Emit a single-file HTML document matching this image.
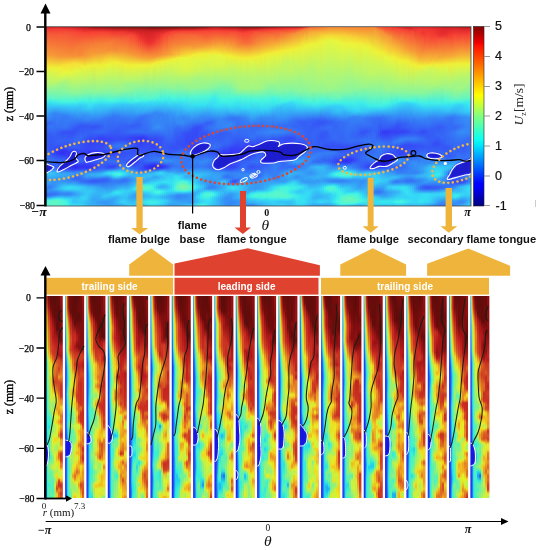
<!DOCTYPE html>
<html><head><meta charset="utf-8"><style>
html,body{margin:0;padding:0;background:#fff;width:539px;height:550px;overflow:hidden}
svg{display:block;position:absolute;left:0;top:0}
#f{position:absolute;left:0;top:0;width:539px;height:550px}
#f i{position:absolute;display:block}
.tk{font-family:"Liberation Serif",serif;font-size:9.8px;fill:#000;stroke:#000;stroke-width:0.25px}
.lb{font-family:"Liberation Sans",sans-serif;font-weight:bold;font-size:11.2px;fill:#111}
.wl{font-family:"Liberation Sans",sans-serif;font-weight:bold;font-size:10px;fill:#fff}
.cb{font-family:"Liberation Sans",sans-serif;font-size:12.5px;fill:#111;stroke:#111;stroke-width:0.2px}
</style></head><body>
<div id="f"><i style="left:46px;top:27px;width:2px;height:179px;background:linear-gradient(#cc2124 0px,#f74135 3px,#f66038 10px,#f6a136 29px,#f6e335 39px,#e1f644 43px,#b0f674 57px,#4cf6d9 73px,#35def4 76px,#3598f6 88px,#3580f6 93px,#3562f6 96px,#356ef6 101px,#355bf6 107px,#3559f6 117px,#355bf6 122px,#356ef6 128px,#357df6 135px,#3571f6 136px,#3541f6 137px,#2525e0 138px,#1c1ccb 140px,#1d1dce 143px,#2424dd 144px,#3545f6 145px,#359bf6 146px,#35c0f6 147px,#359df6 152px,#359df6 157px,#3582f6 160px,#3580f6 165px,#3562f6 168px,#3588f6 170px,#35cef6 172px,#3cece9 173px,#53f6d2 175px,#48f6dd 178px)"></i><i style="left:48px;top:27px;width:2px;height:179px;background:linear-gradient(#cb2124 0px,#f03731 2px,#f65a38 7px,#f69937 28px,#f4eb35 40px,#d6f64f 46px,#b7f66e 56px,#57f6ce 72px,#37e7ed 75px,#3593f6 87px,#3585f6 92px,#3565f6 96px,#3575f6 100px,#355df6 107px,#3557f6 122px,#3572f6 132px,#3577f6 135px,#3570f6 136px,#2a2aec 138px,#1f1fd2 139px,#1e1ed0 142px,#2626e2 143px,#3549f6 144px,#3592f6 145px,#35bdf6 146px,#35c7f6 147px,#359bf6 152px,#359ff6 156px,#357af6 160px,#358ff6 164px,#356af6 168px,#3591f6 170px,#35d7f6 172px,#44f5e1 173px,#5bf6ca 175px,#52f6d3 178px)"></i><i style="left:50px;top:27px;width:2px;height:179px;background:linear-gradient(#cc2124 0px,#f13832 2px,#f65938 7px,#f69837 28px,#f4eb35 40px,#daf64b 45px,#bdf668 55px,#7cf6a9 66px,#58f6cc 72px,#37e6ee 75px,#35a6f6 84px,#358cf6 87px,#3581f6 92px,#3569f6 96px,#3576f6 100px,#355ef6 108px,#3555f6 118px,#355af6 128px,#3574f6 134px,#3560f6 137px,#3542f6 138px,#2828e7 139px,#1f1fd3 140px,#1f1fd4 141px,#2a2aeb 142px,#3552f6 143px,#3592f6 144px,#35b7f6 145px,#35c7f6 146px,#35b4f6 149px,#359af6 153px,#359af6 156px,#357ef6 160px,#3595f6 163px,#357af6 166px,#356ff6 168px,#3599f6 170px,#35e0f3 172px,#4bf6da 173px,#62f6c3 175px,#58f6cd 178px)"></i><i style="left:52px;top:27px;width:2px;height:179px;background:linear-gradient(#cd2124 0px,#f33a33 2px,#f65838 7px,#f69c37 29px,#eef237 41px,#bcf669 55px,#8bf69a 63px,#64f6c1 71px,#41f3e3 74px,#35d1f6 78px,#359ff6 84px,#3587f6 87px,#357ef6 92px,#356ef6 96px,#3575f6 100px,#355df6 109px,#355bf6 117px,#354bf6 127px,#356ff6 133px,#355bf6 138px,#3036f1 140px,#3240f6 141px,#35a4f6 144px,#35c3f6 146px,#35b3f6 149px,#3597f6 153px,#3591f6 157px,#358af6 160px,#359bf6 163px,#3570f6 167px,#3585f6 169px,#39e8ec 172px,#63f6c2 174px,#5af6cb 178px)"></i><i style="left:54px;top:27px;width:2px;height:179px;background:linear-gradient(#cd2125 0px,#f43b33 2px,#f65838 7px,#f69937 29px,#eef237 41px,#c1f664 54px,#90f695 62px,#65f6c0 71px,#3aeaea 75px,#35c4f6 80px,#3588f6 86px,#3577f6 93px,#356ff6 101px,#355ff6 110px,#355cf6 117px,#3540f6 126px,#356bf6 133px,#355df6 140px,#35bbf6 146px,#35b1f6 149px,#3594f6 153px,#3591f6 159px,#35a6f6 162px,#3572f6 167px,#3578f6 168px,#35cbf6 171px,#3ff0e6 172px,#65f6c0 174px,#5af6cb 178px)"></i><i style="left:56px;top:27px;width:2px;height:179px;background:linear-gradient(#cd2124 0px,#f43b33 2px,#f65a38 8px,#f69637 29px,#eef136 41px,#c6f65f 53px,#93f692 61px,#65f6c0 71px,#3eeee7 75px,#35cbf6 79px,#3584f6 87px,#3579f6 97px,#355cf6 108px,#3561f6 116px,#3536f6 126px,#3568f6 133px,#3562f6 143px,#35b1f6 146px,#35aef6 149px,#3592f6 153px,#359ef6 159px,#35b0f6 162px,#357bf6 166px,#357ff6 168px,#35d2f6 171px,#41f3e4 172px,#62f6c3 174px,#57f6cd 178px)"></i><i style="left:58px;top:27px;width:2px;height:179px;background:linear-gradient(#cc2124 0px,#f33b33 2px,#f65938 7px,#f69437 29px,#eff136 41px,#d1f653 51px,#9ef687 58px,#6df6b8 70px,#41f2e4 75px,#35cbf6 79px,#3585f6 87px,#3578f6 95px,#3570f6 101px,#3558f6 107px,#3564f6 115px,#3232f7 126px,#3567f6 133px,#3557f6 138px,#2727e5 142px,#2828e7 143px,#3543f6 144px,#3585f6 145px,#35a7f6 146px,#35b2f6 148px,#3590f6 153px,#35abf6 159px,#35bbf6 162px,#3582f6 166px,#3585f6 168px,#35d5f6 171px,#41f2e4 172px,#5cf6c8 174px,#54f6d0 178px)"></i><i style="left:60px;top:27px;width:2px;height:179px;background:linear-gradient(#ca2023 0px,#f33a33 2px,#f65938 7px,#f69337 29px,#f4eb35 40px,#e0f645 48px,#b3f672 54px,#95f690 61px,#64f6c1 71px,#42f4e2 75px,#35ccf6 79px,#3583f6 88px,#3578f6 94px,#3572f6 101px,#3554f6 106px,#3565f6 114px,#3541f6 122px,#2e2ef3 126px,#3546f6 129px,#3567f6 133px,#355ff6 136px,#2f32f1 138px,#1f1fd2 140px,#1f1fd3 142px,#2d2def 143px,#358df6 145px,#35aef6 147px,#3590f6 154px,#35c6f6 161px,#35b5f6 163px,#3587f6 166px,#3589f6 168px,#35d4f6 171px,#3eeee7 172px,#56f6cf 174px,#52f6d3 178px)"></i><i style="left:62px;top:27px;width:2px;height:179px;background:linear-gradient(#c82023 0px,#f23932 2px,#f65838 7px,#f69237 29px,#f6e635 39px,#e5f640 46px,#cff656 51px,#a1f684 56px,#7ef6a7 67px,#43f5e2 75px,#35ccf6 79px,#357cf6 89px,#3573f6 101px,#3551f6 105px,#3562f6 114px,#354bf6 121px,#2d2df0 125px,#3544f6 129px,#3568f6 133px,#355bf6 135px,#333ef7 136px,#1f1fd3 138px,#1e1ed0 141px,#2828e6 142px,#3549f6 143px,#3577f6 144px,#35a4f6 146px,#35aaf6 149px,#358ef6 154px,#35d0f6 161px,#35bdf6 163px,#358af6 166px,#358af6 168px,#35d1f6 171px,#48f6dc 173px,#4ef6d6 178px)"></i><i style="left:64px;top:27px;width:2px;height:179px;background:linear-gradient(#c61f22 0px,#f23932 2px,#f65538 6px,#f69237 29px,#f6e135 38px,#e8f63d 45px,#cdf657 51px,#a2f682 56px,#89f69c 65px,#44f6e1 75px,#35cdf6 79px,#357df6 89px,#3574f6 101px,#3551f6 105px,#3562f6 113px,#354cf6 121px,#3232f7 124px,#3538f6 128px,#355ff6 132px,#355ef6 133px,#2e2eee 135px,#1d1dce 137px,#1e1ed0 140px,#343af6 142px,#357cf6 144px,#35abf6 147px,#3599f6 151px,#358bf6 154px,#35c5f6 159px,#35d9f6 161px,#35c2f6 163px,#358af6 166px,#3588f6 168px,#35e3f0 172px,#49f6dc 174px,#49f6dc 178px)"></i><i style="left:66px;top:27px;width:2px;height:179px;background:linear-gradient(#c41e21 0px,#f13832 2px,#f65438 6px,#f69137 29px,#f6e335 38px,#e7f63e 46px,#b8f66d 53px,#a4f681 58px,#7ff6a6 67px,#44f6e1 75px,#35d7f6 78px,#3580f6 89px,#3571f6 101px,#3550f6 105px,#3560f6 113px,#354ff6 121px,#3434f7 125px,#354bf6 131px,#2e31ee 133px,#1c1ccc 136px,#1e1ed1 139px,#3333f7 141px,#359ff6 146px,#35a7f6 149px,#3588f6 153px,#359af6 156px,#35daf6 160px,#35d8f6 162px,#3588f6 166px,#3586f6 168px,#35dff4 172px,#40f1e5 174px,#42f4e2 178px)"></i><i style="left:68px;top:27px;width:2px;height:179px;background:linear-gradient(#c21e21 0px,#f03631 2px,#f65238 6px,#f68537 26px,#f69937 30px,#f6df35 37px,#e9f63c 45px,#aaf67a 56px,#92f693 64px,#45f6e0 75px,#35d7f6 78px,#3583f6 89px,#356cf6 101px,#3550f6 105px,#355ff6 113px,#3553f6 121px,#3536f6 126px,#3032f2 130px,#1c1ccc 134px,#1f1fd3 138px,#2e2ef2 140px,#3544f6 142px,#359bf6 146px,#35a7f6 148px,#3581f6 152px,#358bf6 155px,#35ddf5 160px,#35d8f6 162px,#3589f6 166px,#3588f6 168px,#35daf6 172px,#3cece9 178px)"></i><i style="left:70px;top:27px;width:2px;height:179px;background:linear-gradient(#bf1d20 0px,#ee3431 2px,#f65038 6px,#f68337 25px,#f68f37 29px,#f6e035 37px,#e4f640 46px,#aff676 56px,#8ef697 65px,#45f6e0 75px,#35d8f6 78px,#3584f6 90px,#3564f6 101px,#3550f6 106px,#3560f6 113px,#3558f6 121px,#2c2ced 127px,#1c1ccc 132px,#2020d5 137px,#2f2ff4 139px,#353cf6 142px,#3597f6 146px,#359ef6 148px,#357cf6 151px,#3579f6 153px,#3598f6 156px,#35dcf6 160px,#35d7f6 162px,#358ff6 166px,#358ef6 168px,#35d4f6 172px,#35d9f6 177px,#36e4ef 178px)"></i><i style="left:72px;top:27px;width:2px;height:179px;background:linear-gradient(#bc1c1f 0px,#ec3230 2px,#f64a38 5px,#f68237 24px,#f68f37 29px,#f6dc35 36px,#e4f641 45px,#b1f674 57px,#82f6a3 67px,#45f6e0 75px,#35d7f6 78px,#3586f6 90px,#354ff6 106px,#3562f6 113px,#355bf6 121px,#3537f6 124px,#1d1dcf 127px,#1d1dcd 135px,#3434f7 138px,#2b2bec 140px,#3537f6 142px,#3593f6 146px,#3592f6 148px,#3570f6 150px,#356af6 152px,#35aaf6 157px,#35daf6 160px,#35d6f6 162px,#3597f6 166px,#3596f6 168px,#35c6f6 171px,#35c8f6 176px,#35dff3 178px)"></i><i style="left:74px;top:27px;width:2px;height:179px;background:linear-gradient(#b91c1e 0px,#e92f2f 2px,#f64c38 6px,#f68137 23px,#f69037 29px,#f6dd35 36px,#e5f640 44px,#8bf69a 66px,#43f4e2 75px,#35cff6 79px,#3598f6 87px,#3552f6 103px,#3559f6 108px,#3567f6 112px,#3560f6 118px,#355cf6 121px,#3333f7 124px,#1f1fd3 126px,#2020d6 131px,#1d1dce 134px,#3030f2 136px,#353cf6 137px,#2929e9 140px,#3536f6 142px,#3592f6 146px,#3588f6 148px,#3564f6 150px,#356ff6 153px,#35d7f6 160px,#35d6f6 162px,#35a0f6 166px,#359ef6 168px,#35c3f6 171px,#35c6f6 176px,#35ddf5 178px)"></i><i style="left:76px;top:27px;width:2px;height:179px;background:linear-gradient(#b41a1c 0px,#e62b2d 2px,#f74637 5px,#f67e37 21px,#f69137 29px,#f6dc35 36px,#e6f63e 43px,#b5f670 56px,#8bf699 66px,#40f1e5 75px,#35cef6 79px,#35a4f6 86px,#358af6 90px,#356af6 96px,#3552f6 102px,#355df6 108px,#3569f6 112px,#355df6 117px,#355bf6 121px,#3131f3 126px,#3541f6 131px,#2929e7 134px,#354af6 136px,#2a2aec 140px,#3538f6 142px,#3584f6 145px,#3591f6 146px,#3580f6 148px,#3562f6 150px,#356ff6 153px,#35a0f6 157px,#35d3f6 160px,#35d5f6 162px,#35a3f6 167px,#35aff6 169px,#35c8f6 172px,#35c7f6 176px,#35dcf6 178px)"></i><i style="left:78px;top:27px;width:2px;height:179px;background:linear-gradient(#b0191b 0px,#e3282c 2px,#f74336 5px,#f67937 19px,#f68937 28px,#f6e135 37px,#dff645 44px,#8bf69a 66px,#46f6df 74px,#35daf6 77px,#35a3f6 86px,#3589f6 91px,#3553f6 100px,#3562f6 108px,#3568f6 112px,#355af6 117px,#3558f6 121px,#353bf6 127px,#3564f6 133px,#3556f6 136px,#2e2ef3 139px,#353cf6 142px,#3586f6 145px,#3592f6 146px,#3580f6 148px,#3566f6 151px,#3579f6 155px,#35cff6 160px,#35d3f6 162px,#35aaf6 167px,#35b7f6 169px,#35ccf6 172px,#35c9f6 176px,#35dbf6 178px)"></i><i style="left:80px;top:27px;width:2px;height:179px;background:linear-gradient(#ac181a 0px,#e1272c 2px,#f74135 5px,#f67437 17px,#f68b37 28px,#f6e735 38px,#d9f64c 45px,#89f69c 66px,#44f6e1 74px,#35d3f6 78px,#35a9f6 85px,#358cf6 90px,#3571f6 95px,#3554f6 99px,#356af6 111px,#3555f6 117px,#354df6 122px,#353bf6 127px,#356cf6 133px,#3553f6 136px,#3030f7 139px,#3540f6 142px,#3587f6 145px,#3592f6 147px,#3571f6 151px,#3571f6 155px,#35ccf6 160px,#35caf6 163px,#35b3f6 167px,#35cff6 171px,#35c8f6 176px,#35d8f6 178px)"></i><i style="left:82px;top:27px;width:2px;height:179px;background:linear-gradient(#a81718 0px,#de262b 2px,#f74537 6px,#f67537 17px,#f68d37 28px,#f1ef35 39px,#bdf668 53px,#86f69f 66px,#42f4e3 74px,#35d4f6 78px,#35bdf6 83px,#3591f6 88px,#357af6 94px,#3554f6 99px,#3565f6 111px,#3550f6 116px,#354bf6 122px,#353bf6 127px,#3565f6 134px,#3535f6 138px,#3535f6 141px,#3594f6 146px,#357ef6 151px,#3568f6 154px,#357cf6 156px,#35c7f6 160px,#35c5f6 164px,#35bcf6 167px,#35d3f6 171px,#35c3f6 176px,#35d2f6 178px)"></i><i style="left:84px;top:27px;width:2px;height:179px;background:linear-gradient(#a41617 0px,#dc252a 2px,#f74436 6px,#f67337 16px,#f69837 29px,#edf237 40px,#bdf668 53px,#83f6a2 66px,#42f4e3 74px,#35d6f6 78px,#35bdf6 83px,#3592f6 88px,#3584f6 93px,#3555f6 99px,#3564f6 108px,#354bf6 117px,#354af6 122px,#3039f3 131px,#3555f6 135px,#3333f7 139px,#3535f6 141px,#3594f6 146px,#359af6 149px,#3565f6 154px,#3579f6 156px,#35b6f6 159px,#35c8f6 162px,#35c7f6 168px,#35d2f6 171px,#35bef6 176px,#35c9f6 178px)"></i><i style="left:86px;top:27px;width:2px;height:179px;background:linear-gradient(#9f1516 0px,#d92529 2px,#f74336 6px,#f67437 16px,#f69b37 29px,#eff036 39px,#baf66b 54px,#81f6a4 66px,#43f5e2 74px,#35d9f6 78px,#35c9f6 82px,#3594f6 88px,#3584f6 93px,#3556f6 99px,#3562f6 107px,#3546f6 116px,#354af6 122px,#3131f3 128px,#1e1ed1 131px,#2222d9 133px,#3540f6 135px,#354af6 136px,#3232f7 140px,#3541f6 142px,#3596f6 146px,#35a4f6 148px,#359bf6 150px,#3562f6 154px,#3575f6 156px,#35b9f6 160px,#35c8f6 165px,#35caf6 171px,#35b8f6 176px,#35c0f6 178px)"></i><i style="left:88px;top:27px;width:2px;height:179px;background:linear-gradient(#9a1414 0px,#d62428 2px,#f63d34 5px,#f67537 16px,#f69e37 29px,#eef237 39px,#90f695 64px,#3deee8 75px,#35d2f6 81px,#3596f6 88px,#3584f6 93px,#3557f6 99px,#3562f6 106px,#3544f6 116px,#354af6 122px,#2b2bee 127px,#1d1dce 129px,#1f1fd4 133px,#2d2df0 134px,#3547f6 135px,#3543f6 137px,#3232f7 140px,#3542f6 142px,#3599f6 146px,#35abf6 148px,#358bf6 151px,#355ef6 154px,#3571f6 156px,#35b4f6 160px,#35cbf6 164px,#35b4f6 177px,#35b8f6 178px)"></i><i style="left:90px;top:27px;width:2px;height:179px;background:linear-gradient(#931212 0px,#d32327 2px,#f73e34 5px,#f67737 16px,#f6a336 29px,#f3ec35 38px,#d0f655 46px,#89f69c 65px,#3eeee7 75px,#35d0f6 81px,#3597f6 89px,#3579f6 94px,#3555f6 100px,#3561f6 106px,#3543f6 115px,#354af6 122px,#3131f6 126px,#1d1dce 128px,#1d1dcf 132px,#353bf6 134px,#3553f6 135px,#3434f7 140px,#3547f6 142px,#359ef6 146px,#35aef6 148px,#3589f6 151px,#355bf6 154px,#356df6 156px,#35b2f6 160px,#35c8f6 164px,#35aef6 173px,#35b2f6 178px)"></i><i style="left:92px;top:27px;width:2px;height:179px;background:linear-gradient(#8b1110 0px,#d12226 2px,#f73f34 5px,#f67b37 17px,#f6a036 28px,#f1ee35 38px,#8af69b 65px,#44f6e1 74px,#35d5f6 79px,#3592f6 90px,#3554f6 100px,#3565f6 105px,#3544f6 114px,#354bf6 122px,#3536f6 125px,#1c1ccd 128px,#2020d5 132px,#2f2ff3 133px,#3550f6 134px,#355af6 135px,#3536f6 139px,#353cf6 141px,#35acf6 147px,#35aaf6 149px,#3560f6 153px,#355cf6 155px,#35b0f6 160px,#35c3f6 164px,#35a7f6 172px,#35aff6 178px)"></i><i style="left:94px;top:27px;width:2px;height:179px;background:linear-gradient(#85100f 0px,#ce2125 2px,#f73f34 5px,#f67b37 16px,#f69737 26px,#eff035 38px,#8bf69a 65px,#43f5e2 74px,#35d6f6 78px,#35a8f6 86px,#3553f6 100px,#3567f6 105px,#3544f6 113px,#354cf6 122px,#3434f7 125px,#1d1dce 127px,#1d1dcf 131px,#2626e2 132px,#3540f6 133px,#355bf6 134px,#354bf6 137px,#353ef6 140px,#3566f6 143px,#35adf6 147px,#35abf6 149px,#355ef6 153px,#355df6 155px,#35abf6 160px,#35bdf6 164px,#35a6f6 172px,#35adf6 178px)"></i><i style="left:96px;top:27px;width:2px;height:179px;background:linear-gradient(#80100f 0px,#cd2124 2px,#f73f34 5px,#f67c37 16px,#f69937 26px,#eff036 38px,#cff656 47px,#8cf699 65px,#41f3e3 74px,#35cef6 79px,#35a7f6 86px,#3554f6 100px,#3569f6 105px,#3544f6 112px,#354df6 122px,#3232f7 125px,#2222d9 126px,#1c1ccb 129px,#2020d6 131px,#3131f4 132px,#3551f6 133px,#3560f6 134px,#3544f6 139px,#355af6 142px,#35aff6 147px,#35adf6 149px,#355ef6 153px,#3560f6 155px,#35a5f6 160px,#35b7f6 165px,#35a0f6 176px,#35abf6 178px)"></i><i style="left:98px;top:27px;width:2px;height:179px;background:linear-gradient(#7c110f 0px,#cc2124 2px,#f74035 5px,#f67d37 16px,#f69537 25px,#eef237 39px,#cff656 47px,#a3f682 60px,#82f6a2 66px,#40f1e5 74px,#35d1f6 78px,#35aef6 85px,#3576f6 94px,#3559f6 100px,#356bf6 105px,#3543f6 111px,#354df6 122px,#3544f6 124px,#3434f6 125px,#1d1dce 127px,#1e1ecf 130px,#2626e3 131px,#3541f6 132px,#355cf6 133px,#3562f6 135px,#354bf6 139px,#355ff6 142px,#35b4f6 147px,#35b0f6 149px,#355ef6 153px,#3564f6 155px,#35a0f6 160px,#35b7f6 165px,#35abf6 172px,#359cf6 176px,#35a9f6 178px)"></i><i style="left:100px;top:27px;width:2px;height:179px;background:linear-gradient(#79110f 0px,#cb2124 2px,#f74035 5px,#f67d37 16px,#f69637 25px,#f0f035 38px,#d4f651 46px,#a5f680 58px,#93f691 64px,#3ff0e6 74px,#35d0f6 78px,#35aef6 85px,#357ef6 92px,#355df6 99px,#356bf6 105px,#3541f6 111px,#354ff6 122px,#3549f6 124px,#3539f6 125px,#1d1dcf 127px,#1d1dce 129px,#2222d9 130px,#3232f5 131px,#3551f6 132px,#3566f6 134px,#3554f6 140px,#3570f6 143px,#35bbf6 147px,#35aef6 149px,#3568f6 152px,#355ef6 154px,#35a3f6 161px,#35b8f6 167px,#35b5f6 171px,#3595f6 175px,#35a6f6 178px)"></i><i style="left:102px;top:27px;width:2px;height:179px;background:linear-gradient(#77110f 0px,#a81719 1px,#e0272b 3px,#f74035 5px,#f67e37 16px,#f69637 25px,#f1ee35 37px,#d7f64e 45px,#a4f681 58px,#89f69b 65px,#40f1e5 74px,#35d1f6 78px,#35a4f6 86px,#357af6 92px,#3562f6 99px,#356af6 105px,#3541f6 111px,#3550f6 123px,#3030f2 126px,#1f1fd3 128px,#3032f2 130px,#355ef6 132px,#3566f6 135px,#3557f6 140px,#3574f6 143px,#35b7f6 146px,#35c4f6 147px,#35bff6 148px,#3565f6 152px,#3561f6 154px,#35adf6 163px,#35c4f6 170px,#3594f6 175px,#35a2f6 178px)"></i><i style="left:104px;top:27px;width:2px;height:179px;background:linear-gradient(#74110f 0px,#a71718 1px,#df262b 3px,#f74035 5px,#f67f37 16px,#f69737 25px,#f6d035 32px,#eef137 38px,#cdf657 46px,#9df687 60px,#81f6a4 66px,#41f2e4 74px,#35d1f6 78px,#35a3f6 86px,#3576f6 92px,#356af6 100px,#3563f6 106px,#3542f6 112px,#3556f6 122px,#2f2ff0 128px,#3569f6 133px,#3553f6 140px,#3564f6 142px,#35c5f6 146px,#35cdf6 147px,#35a8f6 149px,#3565f6 152px,#3563f6 154px,#35b1f6 164px,#35ccf6 169px,#3595f6 175px,#359ff6 178px)"></i><i style="left:106px;top:27px;width:2px;height:179px;background:linear-gradient(#70120f 0px,#a41617 1px,#de262b 3px,#f73f34 5px,#f67f37 16px,#f69237 24px,#f6d335 32px,#ecf439 38px,#96f68f 62px,#55f6d0 72px,#3aeaea 75px,#35c6f6 80px,#35a0f6 86px,#3578f6 91px,#3568f6 98px,#3565f6 105px,#3542f6 113px,#355df6 121px,#3540f6 127px,#356bf6 133px,#354bf6 140px,#3563f6 142px,#35c2f6 145px,#35d6f6 147px,#35aaf6 149px,#3576f6 151px,#3562f6 153px,#35cdf6 169px,#3598f6 174px,#359cf6 178px)"></i><i style="left:108px;top:27px;width:2px;height:179px;background:linear-gradient(#6f120f 0px,#c61f22 2px,#f53c33 5px,#f67d37 15px,#f68d37 23px,#f6d635 32px,#eaf63b 38px,#82f6a2 66px,#44f6e1 74px,#35d2f6 78px,#35a4f6 85px,#3575f6 91px,#3568f6 98px,#3561f6 105px,#3543f6 113px,#3567f6 120px,#3540f6 126px,#356cf6 134px,#3554f6 138px,#3544f6 140px,#3564f6 142px,#35ccf6 145px,#35dcf6 146px,#35dcf5 147px,#3581f6 151px,#356af6 153px,#35aef6 164px,#35cef6 168px,#359bf6 174px,#359bf6 178px)"></i><i style="left:110px;top:27px;width:2px;height:179px;background:linear-gradient(#6f120f 0px,#c31e21 2px,#f23932 5px,#f67c37 15px,#f68d37 23px,#f6d735 32px,#e8f63d 37px,#d1f654 44px,#96f68f 62px,#67f6be 70px,#44f6e0 74px,#35d9f6 77px,#359df6 85px,#3573f6 91px,#3568f6 99px,#355ef6 105px,#3544f6 113px,#356ef6 120px,#353ff6 126px,#356ff6 134px,#355ff6 137px,#3540f6 140px,#354cf6 141px,#35d1f6 145px,#36e5ef 147px,#3581f6 152px,#3571f6 154px,#35a6f6 163px,#35d1f6 167px,#359ff6 173px,#359df6 178px)"></i><i style="left:112px;top:27px;width:2px;height:179px;background:linear-gradient(#6f120f 0px,#c01d20 2px,#f03731 5px,#f67737 14px,#f68c37 23px,#f2ed35 35px,#c9f65b 46px,#97f68e 61px,#84f6a1 66px,#44f6e1 74px,#35cff6 78px,#3579f6 89px,#3567f6 98px,#3561f6 104px,#3546f6 113px,#3573f6 119px,#3558f6 123px,#3540f6 126px,#3571f6 134px,#3560f6 137px,#3544f6 139px,#354ff6 141px,#35d7f6 145px,#3eefe7 147px,#35bdf6 150px,#357bf6 153px,#357ff6 156px,#35a2f6 162px,#35d1f6 165px,#35d8f6 167px,#35a3f6 172px,#35a0f6 178px)"></i><i style="left:114px;top:27px;width:2px;height:179px;background:linear-gradient(#6f120f 0px,#bd1d1f 2px,#f03631 5px,#f67038 13px,#f68b37 23px,#f3ed35 35px,#d9f64c 43px,#9af68b 61px,#84f6a1 66px,#43f4e2 74px,#35ccf6 78px,#3579f6 89px,#3567f6 99px,#3556f6 107px,#3549f6 113px,#3577f6 119px,#3559f6 123px,#3542f6 126px,#3572f6 135px,#354af6 139px,#3559f6 141px,#35dcf6 145px,#45f6e0 147px,#35e1f2 149px,#357ff6 153px,#3579f6 155px,#35aaf6 162px,#35def4 165px,#35dcf6 167px,#35a8f6 171px,#35abf6 177px,#35a3f6 178px)"></i><i style="left:116px;top:27px;width:2px;height:179px;background:linear-gradient(#6f120f 0px,#bb1c1f 2px,#f03731 5px,#f66e38 13px,#f68b37 23px,#edf237 36px,#bcf669 50px,#9df688 60px,#8cf699 65px,#41f3e3 74px,#35d3f6 77px,#357bf6 89px,#3566f6 99px,#3557f6 107px,#354bf6 113px,#357af6 119px,#355bf6 123px,#3546f6 126px,#3570f6 135px,#3555f6 139px,#3567f6 141px,#35dff3 145px,#49f6dc 147px,#38e7ed 149px,#357ff6 153px,#3578f6 155px,#35b3f6 162px,#37e6ee 165px,#35dcf6 167px,#35b1f6 170px,#35b4f6 174px,#35b2f6 177px,#35a7f6 178px)"></i><i style="left:118px;top:27px;width:2px;height:179px;background:linear-gradient(#6f120f 0px,#ba1c1e 2px,#f13732 5px,#f66c38 13px,#f69237 24px,#f1ef35 36px,#b2f673 53px,#9ff686 60px,#8bf69a 65px,#40f1e5 74px,#35d1f6 77px,#357df6 89px,#3564f6 99px,#3558f6 107px,#3548f6 112px,#357bf6 119px,#355ef6 123px,#354bf6 127px,#356bf6 135px,#3562f6 139px,#3576f6 141px,#35e0f3 145px,#48f6dd 147px,#44f6e0 148px,#35c7f6 150px,#357cf6 153px,#3576f6 155px,#35bbf6 162px,#36e5ef 165px,#35d8f6 167px,#35b5f6 170px,#35bef6 174px,#35c1f6 176px,#35abf6 178px)"></i><i style="left:120px;top:27px;width:2px;height:179px;background:linear-gradient(#6f120f 0px,#b91c1e 2px,#f13832 5px,#f66d38 14px,#f69137 24px,#eff036 37px,#9ff686 59px,#90f695 64px,#3fefe6 74px,#35cff6 77px,#357cf6 90px,#3562f6 99px,#355ef6 106px,#3549f6 112px,#357cf6 119px,#354cf6 126px,#3565f6 135px,#356ff6 139px,#3582f6 141px,#35ddf5 145px,#42f3e3 147px,#3eeee7 148px,#35bbf6 150px,#3577f6 153px,#3574f6 155px,#35dff3 165px,#35b8f6 171px,#35cff6 175px,#35b0f6 178px)"></i><i style="left:122px;top:27px;width:2px;height:179px;background:linear-gradient(#6f120f 0px,#b91c1e 2px,#f03631 5px,#f66738 13px,#f69137 24px,#f2ed35 37px,#b3f672 53px,#9ef687 59px,#8ef697 64px,#3deee7 74px,#35c6f6 78px,#3579f6 91px,#3561f6 100px,#355ff6 106px,#3548f6 112px,#357af6 119px,#354ef6 126px,#3560f6 134px,#357ff6 140px,#35aef6 143px,#36e4ef 146px,#36e2f1 148px,#357ff6 152px,#356ff6 154px,#35d6f6 164px,#35ccf6 167px,#35bef6 171px,#35d4f6 175px,#35b7f6 178px)"></i><i style="left:124px;top:27px;width:2px;height:179px;background:linear-gradient(#6f120f 0px,#b91c1e 2px,#ee3431 5px,#f65e38 11px,#f69537 25px,#eef237 38px,#bbf66a 52px,#9ef687 57px,#93f692 63px,#3eeee7 74px,#35d1f6 77px,#357af6 91px,#355ff6 100px,#3566f6 105px,#3547f6 112px,#3576f6 119px,#354ff6 126px,#355ff6 133px,#3565f6 137px,#3594f6 142px,#35daf6 146px,#35d4f6 148px,#357bf6 152px,#3572f6 154px,#35d2f6 164px,#35c0f6 171px,#35d2f6 175px,#35bff6 178px)"></i><i style="left:126px;top:27px;width:2px;height:179px;background:linear-gradient(#6f120f 0px,#b81b1d 2px,#ec3230 5px,#f65c38 11px,#f69237 25px,#eff136 38px,#bbf66a 52px,#9cf689 57px,#90f695 63px,#3ff1e5 74px,#35c7f6 78px,#357cf6 91px,#3568f6 97px,#355ef6 100px,#3568f6 105px,#3544f6 112px,#3570f6 119px,#3551f6 126px,#3560f6 132px,#313ef3 138px,#35b5f6 144px,#35d0f6 146px,#35c8f6 148px,#357ef6 152px,#3578f6 154px,#35d0f6 164px,#35bcf6 171px,#35caf6 176px,#35c7f6 178px)"></i><i style="left:128px;top:27px;width:2px;height:179px;background:linear-gradient(#6f120f 0px,#b71b1d 2px,#e92f2f 5px,#f65138 9px,#f68e37 25px,#eff035 38px,#bbf66a 52px,#9bf68a 57px,#8df698 63px,#42f3e3 74px,#35c8f6 78px,#357df6 91px,#3571f6 96px,#355ef6 100px,#356bf6 105px,#3542f6 111px,#3566f6 119px,#3552f6 126px,#3561f6 131px,#343ef7 134px,#2020d5 137px,#2626e2 138px,#353df6 139px,#3561f6 140px,#35bdf6 145px,#35c9f6 147px,#3585f6 152px,#3583f6 154px,#35d2f6 164px,#35aef6 170px,#35c3f6 175px,#35cdf6 178px)"></i><i style="left:130px;top:27px;width:2px;height:179px;background:linear-gradient(#6f120f 0px,#cd2124 3px,#f74035 7px,#f65a38 13px,#f69737 27px,#f0f035 38px,#baf66b 52px,#9af68b 57px,#8bf69a 63px,#3deee8 75px,#35bff6 79px,#359af6 86px,#357ef6 91px,#3570f6 96px,#355cf6 99px,#356df6 105px,#3541f6 111px,#355bf6 119px,#3553f6 126px,#355cf6 131px,#2f30f1 133px,#1e1ed0 135px,#2525e0 137px,#3238f7 138px,#3554f6 139px,#357af6 142px,#35b5f6 145px,#35c1f6 147px,#3589f6 153px,#35d3f6 163px,#35c0f6 166px,#35a5f6 170px,#35cef6 178px)"></i><i style="left:132px;top:27px;width:2px;height:179px;background:linear-gradient(#6f120f 0px,#cb2024 3px,#f74536 8px,#f69437 27px,#eff136 38px,#baf66b 52px,#9af68b 57px,#8af69b 63px,#3eefe7 75px,#35c9f6 78px,#359df6 86px,#357ff6 91px,#356bf6 96px,#355df6 99px,#356ff6 105px,#353ff6 111px,#3556f6 118px,#3551f6 124px,#3559f6 130px,#2a2aeb 132px,#2020d4 133px,#2121d6 135px,#353df6 137px,#3559f6 139px,#3572f6 142px,#35a7f6 145px,#35b9f6 148px,#3594f6 153px,#35bbf6 159px,#35dcf5 162px,#35c3f6 165px,#35a4f6 168px,#35a7f6 171px,#35caf6 178px)"></i><i style="left:134px;top:27px;width:2px;height:179px;background:linear-gradient(#6f120f 0px,#c92023 3px,#f63e34 8px,#f69837 28px,#eff136 38px,#b9f66b 52px,#98f68d 58px,#76f6af 66px,#46f6df 74px,#35d4f6 77px,#35b7f6 81px,#359ff6 86px,#357cf6 91px,#355ef6 99px,#356ff6 105px,#353cf6 111px,#354ef6 118px,#354ef6 123px,#355bf6 128px,#3136f4 130px,#1e1ed1 132px,#2626e2 134px,#3544f6 136px,#355ff6 141px,#35b1f6 147px,#35b4f6 150px,#359df6 153px,#35cef6 159px,#39e7ed 161px,#3cece9 162px,#35b1f6 166px,#359bf6 169px,#35caf6 176px,#35c3f6 178px)"></i><i style="left:136px;top:27px;width:2px;height:179px;background:linear-gradient(#6f120f 0px,#c71f22 3px,#f43c33 9px,#f69537 28px,#eff136 38px,#b9f66c 52px,#96f68f 59px,#45f6e0 74px,#35d2f6 77px,#35b8f6 81px,#35aaf6 85px,#3578f6 91px,#355ef6 98px,#3570f6 105px,#3539f6 111px,#3548f6 118px,#3553f6 124px,#3558f6 127px,#2e2eef 129px,#2121d8 130px,#1f1fd2 131px,#353cf6 134px,#3553f6 138px,#3566f6 142px,#35b6f6 148px,#35b6f6 150px,#35a4f6 154px,#35cff6 158px,#47f6dd 160px,#47f6de 162px,#35d0f6 164px,#35a4f6 167px,#35a2f6 170px,#35d5f6 175px,#35bcf6 178px)"></i><i style="left:138px;top:27px;width:2px;height:179px;background:linear-gradient(#6f120f 0px,#c61f22 3px,#e92f2f 8px,#f65a38 18px,#f6a136 30px,#eff136 38px,#b8f66d 52px,#43f5e2 74px,#35d1f6 77px,#35b8f6 82px,#359ff6 86px,#3573f6 91px,#3561f6 98px,#3570f6 105px,#3536f6 111px,#3545f6 118px,#3555f6 126px,#2c2cee 128px,#2020d6 129px,#2121d8 130px,#3541f6 132px,#3551f6 135px,#355ef6 142px,#357df6 145px,#35b4f6 148px,#35b8f6 150px,#35a5f6 154px,#35cbf6 157px,#35dff4 158px,#46f5df 159px,#57f6ce 160px,#4ff6d6 162px,#35d3f6 164px,#35a3f6 168px,#35aef6 171px,#35e0f3 175px,#35b8f6 178px)"></i><i style="left:140px;top:27px;width:2px;height:179px;background:linear-gradient(#6f120f 0px,#c41f21 3px,#df262b 7px,#f64f38 17px,#f69d37 30px,#eff136 38px,#b7f66e 52px,#4bf6da 73px,#35d1f6 77px,#35a9f6 85px,#3573f6 90px,#3566f6 98px,#3571f6 105px,#3535f6 111px,#3544f6 118px,#3557f6 125px,#3551f6 126px,#3535f6 127px,#2424df 128px,#2424de 129px,#3135f4 130px,#3553f6 131px,#355ff6 132px,#3554f6 142px,#357bf6 145px,#35a9f6 147px,#35bbf6 150px,#35a6f6 154px,#35baf6 156px,#3bebea 158px,#5df6c8 160px,#52f6d3 162px,#3ff0e6 163px,#35d8f6 164px,#35a9f6 168px,#35b3f6 171px,#36e5ef 175px,#35b9f6 178px)"></i><i style="left:142px;top:27px;width:2px;height:179px;background:linear-gradient(#6f120f 0px,#c31e21 3px,#d92529 6px,#f03732 14px,#f69937 30px,#eff136 38px,#9df688 57px,#53f6d1 72px,#39e8ec 75px,#35c1f6 80px,#35a7f6 85px,#3572f6 90px,#356ef6 101px,#356bf6 106px,#353bf6 110px,#3556f6 126px,#3035f2 128px,#343ef7 129px,#3565f6 131px,#3549f6 141px,#3555f6 143px,#35b0f6 147px,#35bff6 150px,#35a6f6 154px,#35bcf6 156px,#35d4f6 157px,#3ff0e6 158px,#5df6c8 160px,#52f6d2 162px,#42f4e3 163px,#35cff6 165px,#35adf6 169px,#35c5f6 172px,#37e6ee 175px,#35c0f6 178px)"></i><i style="left:144px;top:27px;width:2px;height:179px;background:linear-gradient(#6f120f 0px,#c11e20 3px,#d72428 6px,#ee3531 15px,#f6a336 31px,#eff136 38px,#5bf6ca 71px,#41f3e3 74px,#35d2f6 77px,#35aef6 84px,#3578f6 89px,#356bf6 106px,#353bf6 111px,#3567f6 134px,#3538f6 140px,#3541f6 142px,#35b8f6 147px,#35c1f6 150px,#35a7f6 154px,#35bff6 156px,#35d7f6 157px,#40f1e5 158px,#5cf6c9 161px,#44f6e1 163px,#35d6f6 165px,#35b1f6 169px,#35c7f6 172px,#39e9eb 175px,#35cbf6 178px)"></i><i style="left:146px;top:27px;width:2px;height:179px;background:linear-gradient(#6f120f 0px,#bf1d20 3px,#d62327 6px,#e92e2e 15px,#f65538 21px,#f6a136 31px,#eff136 38px,#54f6d1 72px,#36e5ef 75px,#35a1f6 85px,#357af6 89px,#356cf6 106px,#3540f6 111px,#3553f6 123px,#356cf6 134px,#3232f7 140px,#353bf6 142px,#35acf6 146px,#35c4f6 148px,#35b0f6 152px,#35aaf6 154px,#35dbf6 157px,#40f1e5 158px,#58f6cd 161px,#45f6e0 163px,#35d9f6 165px,#35b4f6 169px,#35cbf6 172px,#3cede8 175px,#35d6f6 178px)"></i><i style="left:148px;top:27px;width:2px;height:179px;background:linear-gradient(#6f120f 0px,#84100f 1px,#be1d1f 3px,#d62327 6px,#ea302f 16px,#f65c38 22px,#f6a836 32px,#eef237 38px,#84f6a1 62px,#53f6d2 72px,#35d9f6 76px,#35b2f6 83px,#3580f6 88px,#3572f6 105px,#3545f6 112px,#354cf6 122px,#3560f6 127px,#3570f6 134px,#3131f6 139px,#3538f6 142px,#35b1f6 146px,#35c5f6 148px,#35abf6 153px,#35cbf6 156px,#40f1e5 158px,#54f6d1 161px,#44f6e1 163px,#35d3f6 166px,#35b9f6 169px,#35cff6 172px,#3ff0e6 175px,#35def4 178px)"></i><i style="left:150px;top:27px;width:2px;height:179px;background:linear-gradient(#6f120f 0px,#82100f 1px,#be1d1f 3px,#d72428 6px,#eb312f 16px,#f65d38 22px,#f69e37 31px,#f4eb35 37px,#dff646 41px,#8af69b 61px,#52f6d3 72px,#35d8f6 76px,#35aef6 83px,#3581f6 88px,#357bf6 103px,#3548f6 112px,#3545f6 121px,#3561f6 126px,#3570f6 131px,#3572f6 134px,#2d2df0 139px,#2929e8 140px,#3537f6 142px,#35b3f6 146px,#35c3f6 148px,#35abf6 152px,#35d3f6 156px,#48f6dd 159px,#47f6dd 162px,#35d4f6 167px,#35c0f6 170px,#41f2e4 175px,#35e2f1 178px)"></i><i style="left:152px;top:27px;width:2px;height:179px;background:linear-gradient(#6f120f 0px,#81100f 1px,#bf1d20 3px,#db2529 6px,#ec3230 15px,#f67038 24px,#f69537 30px,#edf338 37px,#89f69b 61px,#5af6cb 71px,#3bebea 74px,#35cef6 78px,#35a9f6 83px,#3583f6 87px,#3584f6 98px,#3584f6 102px,#354af6 112px,#3543f6 121px,#3561f6 126px,#3574f6 131px,#3573f6 134px,#3232f7 138px,#2828e6 140px,#3538f6 142px,#35a2f6 145px,#35c4f6 147px,#35a7f6 151px,#35c2f6 154px,#36e5ef 157px,#43f4e1 161px,#38e7ed 166px,#35c4f6 170px,#36e4ef 173px,#3deee8 176px,#35e1f2 178px)"></i><i style="left:154px;top:27px;width:2px;height:179px;background:linear-gradient(#6f120f 0px,#80100f 1px,#c01e20 3px,#de262a 6px,#ee3531 14px,#f69a37 30px,#f1ef35 36px,#89f69c 61px,#58f6cd 71px,#44f6e1 73px,#35d7f6 76px,#35b0f6 82px,#3586f6 86px,#3582f6 96px,#358cf6 101px,#354cf6 111px,#3548f6 117px,#3543f6 121px,#355ff6 126px,#357cf6 133px,#3131f7 138px,#2828e7 140px,#353cf6 142px,#35aef6 145px,#35c8f6 147px,#35a5f6 150px,#35b8f6 153px,#35def5 156px,#37e3f0 159px,#35daf4 160px,#46f6df 165px,#35caf6 169px,#35cbf6 171px,#3ff0e6 175px,#35dff4 178px)"></i><i style="left:156px;top:27px;width:2px;height:179px;background:linear-gradient(#6f120f 0px,#80100f 1px,#c21e21 3px,#e1272c 6px,#f63e34 14px,#f69137 29px,#f5e935 35px,#e2f643 38px,#9af68a 58px,#54f6d1 71px,#38e8ec 74px,#35adf6 82px,#3585f6 86px,#3584f6 96px,#3592f6 100px,#354ef6 111px,#3549f6 117px,#3547f6 121px,#355cf6 126px,#357cf6 133px,#2c2cee 139px,#2929e8 140px,#3542f6 142px,#35bbf6 145px,#35ccf6 146px,#35cef6 147px,#35a8f6 150px,#35c0f6 153px,#35def4 156px,#35cff6 159px,#35c2f6 160px,#39e9ec 163px,#4af6db 165px,#39e8ec 167px,#35c4f6 170px,#3cece9 175px,#35daf6 178px)"></i><i style="left:158px;top:27px;width:2px;height:179px;background:linear-gradient(#6f120f 0px,#81100f 1px,#c41e21 3px,#e4292d 6px,#f65338 17px,#f69737 29px,#f2ee35 35px,#d5f650 42px,#87f69e 61px,#47f6de 72px,#35d6f6 76px,#35abf6 82px,#3584f6 87px,#3585f6 96px,#358ff6 100px,#3562f6 108px,#3550f6 111px,#354cf6 117px,#3553f6 122px,#3561f6 128px,#357ef6 132px,#356ef6 135px,#3535f6 138px,#2b2bed 140px,#3131f7 141px,#3571f6 143px,#35c5f6 145px,#35d5f6 146px,#35c3f6 148px,#35b0f6 151px,#35ddf5 155px,#35ccf6 158px,#35aff6 160px,#36e5ef 163px,#44f6e1 164px,#43f4e2 166px,#35d5f6 168px,#35c0f6 170px,#38e7ed 175px,#35d5f6 178px)"></i><i style="left:160px;top:27px;width:2px;height:179px;background:linear-gradient(#6f120f 0px,#82100f 1px,#c51f22 3px,#ec3230 7px,#f66d38 21px,#f69137 28px,#eef237 35px,#8ff696 60px,#3deee8 73px,#35d0f6 77px,#3587f6 87px,#3584f6 96px,#3589f6 101px,#356ef6 107px,#3553f6 111px,#354ff6 117px,#3561f6 128px,#3581f6 133px,#357af6 135px,#353cf6 138px,#2f2ff4 140px,#3434f6 141px,#35c9f6 145px,#35d8f6 146px,#35b7f6 150px,#35caf6 153px,#35dff3 155px,#35c0f6 158px,#35a7f6 160px,#35c8f6 162px,#40f1e5 164px,#3eeee7 166px,#35c1f6 169px,#35c0f6 171px,#35e1f2 174px,#35d0f6 178px)"></i><i style="left:162px;top:27px;width:2px;height:179px;background:linear-gradient(#6f120f 0px,#84100f 1px,#ad191a 2px,#d72428 4px,#f63e34 8px,#f68137 23px,#f69737 28px,#f5ea35 34px,#e2f643 37px,#88f69d 61px,#41f3e4 72px,#35d1f6 77px,#3584f6 88px,#3585f6 101px,#356ff6 107px,#3559f6 111px,#3557f6 126px,#358af6 134px,#3573f6 136px,#3535f6 139px,#353df6 141px,#35aaf6 144px,#35d2f6 146px,#35bef6 151px,#35e2f1 155px,#35a8f6 160px,#35c8f6 162px,#3aeaeb 164px,#37e5ee 166px,#35b2f6 170px,#35daf6 174px,#35c8f6 178px)"></i><i style="left:164px;top:27px;width:2px;height:179px;background:linear-gradient(#6f120f 0px,#86100f 1px,#b0191b 2px,#e72d2e 5px,#f74637 8px,#f68237 22px,#f69b37 28px,#f1ee35 34px,#b4f671 49px,#89f69c 61px,#40f1e5 72px,#35c2f6 79px,#3586f6 89px,#357bf6 105px,#3561f6 110px,#3557f6 126px,#3581f6 132px,#3591f6 134px,#357cf6 136px,#353ff6 139px,#354af6 141px,#35a4f6 144px,#35c7f6 146px,#35cbf6 152px,#36e5ee 155px,#35b1f6 159px,#35b6f6 161px,#35e3f1 164px,#35dbf6 166px,#35abf6 170px,#35d3f6 174px,#35bef6 178px)"></i><i style="left:166px;top:27px;width:2px;height:179px;background:linear-gradient(#6f120f 0px,#88100f 1px,#cc2124 3px,#f63f34 6px,#f68c37 24px,#f6a036 28px,#f6e635 33px,#e6f63f 35px,#8af69b 61px,#45f6e0 71px,#35cbf6 78px,#3588f6 88px,#3577f6 105px,#3556f6 118px,#355ef6 128px,#3594f6 134px,#3580f6 136px,#354cf6 139px,#3558f6 141px,#35bef6 146px,#35d8f6 153px,#36e5ef 155px,#35b9f6 159px,#35bef6 161px,#35ddf5 164px,#35c3f6 167px,#35a4f6 170px,#35c9f6 174px,#35b3f6 178px)"></i><i style="left:168px;top:27px;width:2px;height:179px;background:linear-gradient(#6f120f 0px,#891010 1px,#cf2225 3px,#f23932 5px,#f65b38 10px,#f68337 20px,#f69b37 27px,#f4eb35 33px,#e0f645 36px,#93f692 60px,#57f6ce 68px,#37e6ee 75px,#359bf6 85px,#358df6 89px,#3565f6 113px,#3554f6 120px,#355ef6 128px,#3592f6 134px,#3559f6 139px,#3564f6 141px,#35c5f6 147px,#35e3f0 155px,#35c4f6 160px,#35dcf6 164px,#35bcf6 167px,#359ef6 170px,#35bff6 174px,#35a9f6 178px)"></i><i style="left:170px;top:27px;width:2px;height:179px;background:linear-gradient(#6f120f 0px,#8a1110 1px,#d32326 3px,#f73f34 5px,#f65f38 10px,#f68337 19px,#f6aa36 28px,#eef237 33px,#a9f67c 54px,#8bf69a 61px,#46f6de 71px,#35d8f6 77px,#3597f6 86px,#356df6 109px,#3551f6 120px,#355ff6 128px,#358ef6 134px,#3565f6 139px,#3587f6 143px,#35c7f6 147px,#35e0f3 156px,#35d0f6 160px,#35def4 164px,#359bf6 169px,#35a5f6 172px,#35b4f6 175px,#35a3f6 178px)"></i><i style="left:172px;top:27px;width:2px;height:179px;background:linear-gradient(#6f120f 0px,#8c1110 1px,#d72428 3px,#f74536 5px,#f66538 11px,#f68837 19px,#f6b136 28px,#f4eb35 32px,#dff646 35px,#c0f665 46px,#93f691 60px,#44f6e1 72px,#35cef6 78px,#3592f6 88px,#3579f6 99px,#355df6 114px,#354ff6 121px,#3576f6 131px,#358af6 134px,#356ef6 139px,#358bf6 143px,#35cff6 148px,#36e5ef 155px,#37e4ef 161px,#39e9ec 163px,#35c4f6 166px,#3593f6 169px,#359df6 172px,#35adf6 175px,#35a1f6 178px)"></i><i style="left:174px;top:27px;width:2px;height:179px;background:linear-gradient(#6f120f 0px,#8d1111 1px,#bb1c1f 2px,#f03731 4px,#f65938 7px,#f68537 18px,#f6b936 28px,#edf338 32px,#d9f64c 39px,#94f691 60px,#44f6e1 72px,#35c6f6 79px,#3595f6 88px,#357cf6 98px,#356af6 102px,#355bf6 114px,#354ff6 121px,#357df6 132px,#3584f6 135px,#3576f6 140px,#35a1f6 145px,#35dcf6 149px,#4df6d8 162px,#3aeaeb 164px,#35c0f6 166px,#358bf6 169px,#3596f6 172px,#35a8f6 175px,#35a2f6 178px)"></i><i style="left:176px;top:27px;width:2px;height:179px;background:linear-gradient(#6f120f 0px,#8e1111 1px,#bd1d1f 2px,#f23932 4px,#f65b38 7px,#f68137 17px,#f6c036 28px,#f4eb35 31px,#dff645 34px,#caf65b 45px,#84f6a0 62px,#40f1e5 73px,#35c7f6 79px,#3592f6 90px,#3589f6 96px,#356af6 101px,#3550f6 116px,#3554f6 122px,#356cf6 127px,#357cf6 132px,#3583f6 135px,#3577f6 140px,#359af6 145px,#35ddf5 149px,#3dede8 154px,#60f6c5 160px,#5df6c8 162px,#3ff0e6 164px,#35d6f6 165px,#358ef6 168px,#3583f6 170px,#35a5f6 175px,#35a5f6 178px)"></i><i style="left:178px;top:27px;width:2px;height:179px;background:linear-gradient(#6f120f 0px,#8f1211 1px,#be1d1f 2px,#f33b33 4px,#f65c38 7px,#f68237 17px,#f6bc36 27px,#eff136 31px,#d9f64b 38px,#ccf659 45px,#85f69f 62px,#3eeee7 73px,#35caf6 79px,#358df6 91px,#358af6 96px,#356af6 101px,#354ff6 116px,#3557f6 122px,#3570f6 126px,#3575f6 131px,#3583f6 134px,#3577f6 140px,#3595f6 145px,#35d9f6 149px,#38e7ed 153px,#51f6d4 155px,#72f6b2 160px,#69f6bc 162px,#41f3e3 164px,#35d6f6 165px,#3589f6 168px,#3582f6 170px,#35a3f6 175px,#35a9f6 178px)"></i><i style="left:180px;top:27px;width:2px;height:179px;background:linear-gradient(#6f120f 0px,#df262b 3px,#f53d33 4px,#f65d38 7px,#f68437 17px,#f6ce35 28px,#ecf539 31px,#dbf64a 39px,#cdf658 45px,#a1f684 56px,#79f6ac 64px,#42f3e3 72px,#35d2f6 78px,#3597f6 88px,#358cf6 92px,#358af6 96px,#3568f6 102px,#3557f6 109px,#3551f6 115px,#3550f6 120px,#3574f6 126px,#3576f6 131px,#357ff6 134px,#3574f6 139px,#3586f6 144px,#35caf6 148px,#35d8f6 152px,#49f6dc 154px,#7af6aa 159px,#6ff6b5 162px,#44f6e1 164px,#35d8f6 165px,#3588f6 168px,#358bf6 171px,#35a4f6 175px,#35acf6 178px)"></i><i style="left:182px;top:27px;width:2px;height:179px;background:linear-gradient(#6f120f 0px,#e0272b 3px,#f63e34 4px,#f65e38 7px,#f68537 17px,#f6d335 28px,#e9f63c 31px,#dbf649 39px,#d4f651 44px,#aef677 52px,#87f69d 62px,#41f3e4 72px,#35d1f6 79px,#35a2f6 87px,#358af6 90px,#358df6 95px,#3553f6 107px,#3553f6 114px,#354cf6 119px,#3576f6 126px,#3578f6 131px,#3579f6 134px,#3573f6 139px,#3589f6 144px,#35c4f6 148px,#35c6f6 151px,#36e5ee 153px,#49f6dc 154px,#7df6a8 159px,#72f6b3 162px,#46f6df 164px,#35daf6 165px,#3589f6 168px,#358ef6 171px,#35a4f6 176px,#35aef6 178px)"></i><i style="left:184px;top:27px;width:2px;height:179px;background:linear-gradient(#6f120f 0px,#e1272c 3px,#f73f34 4px,#f66338 8px,#f68637 17px,#f6d835 28px,#e9f63c 31px,#dcf649 39px,#d4f651 44px,#aaf67b 53px,#89f69c 62px,#42f3e3 72px,#35caf6 81px,#35a3f6 87px,#358df6 90px,#3583f6 96px,#3550f6 107px,#354ff6 114px,#354cf6 119px,#3575f6 126px,#3575f6 134px,#3573f6 139px,#3584f6 143px,#35bcf6 147px,#35b3f6 150px,#35c8f6 152px,#43f5e2 154px,#79f6ac 159px,#70f6b4 162px,#46f6df 164px,#35daf6 165px,#359df6 167px,#3587f6 169px,#359ff6 175px,#35b2f6 178px)"></i><i style="left:186px;top:27px;width:2px;height:179px;background:linear-gradient(#6f120f 0px,#e2272c 3px,#f73f34 4px,#f66438 8px,#f68737 17px,#f6dc35 28px,#e8f63d 31px,#dcf649 39px,#d4f651 44px,#a9f67c 53px,#91f693 61px,#3eefe7 73px,#35bef6 84px,#3591f6 90px,#357ff6 96px,#354df6 107px,#3547f6 115px,#3558f6 122px,#3574f6 126px,#3574f6 134px,#3579f6 141px,#359af6 144px,#35b8f6 146px,#35acf6 150px,#35d7f6 153px,#46f6df 155px,#73f6b2 160px,#6af6ba 162px,#43f5e2 164px,#35d7f6 165px,#359ef6 167px,#358bf6 169px,#359df6 174px,#35a7f6 177px,#35b7f6 178px)"></i><i style="left:188px;top:27px;width:2px;height:179px;background:linear-gradient(#6f120f 0px,#e1272c 3px,#f63e34 4px,#f66538 8px,#f68737 17px,#f6e135 28px,#e6f63e 31px,#ddf648 40px,#ccf659 45px,#9ef686 57px,#8cf699 62px,#41f2e4 73px,#35c5f6 83px,#3596f6 89px,#357cf6 96px,#354af6 107px,#3549f6 120px,#356ef6 126px,#3576f6 135px,#3579f6 141px,#35b9f6 146px,#35adf6 150px,#3aeaeb 155px,#64f6c1 159px,#61f6c4 162px,#3dede8 164px,#35b4f6 166px,#3591f6 168px,#3599f6 174px,#359bf6 176px,#35bdf6 178px)"></i><i style="left:190px;top:27px;width:2px;height:179px;background:linear-gradient(#6f120f 0px,#e1272b 3px,#f63e34 4px,#f66538 8px,#f68e37 18px,#f6d035 26px,#eef237 29px,#daf64a 39px,#d2f653 44px,#a6f67f 53px,#94f691 61px,#4df6d8 71px,#35d4f6 80px,#3599f6 90px,#3550f6 104px,#354af6 111px,#3240f6 126px,#356af6 128px,#357df6 135px,#3573f6 140px,#35b7f6 146px,#35b7f6 151px,#39e9ec 156px,#58f6cd 159px,#54f6d1 162px,#47f6de 163px,#35e0f3 164px,#359ef6 167px,#3598f6 169px,#359cf6 173px,#359ef6 176px,#35c5f6 178px)"></i><i style="left:192px;top:27px;width:2px;height:179px;background:linear-gradient(#6f120f 0px,#e1272c 3px,#f63e34 4px,#f66538 8px,#f69837 20px,#f3ec35 28px,#e1f644 32px,#d0f655 44px,#a6f67f 52px,#94f691 61px,#54f6d1 70px,#35e1f2 78px,#359af6 90px,#354ff6 102px,#3548f6 110px,#354cf6 116px,#3031f3 121px,#2020d4 124px,#2323db 126px,#3335f7 127px,#355ef6 128px,#3579f6 131px,#357ff6 136px,#3573f6 140px,#35b9f6 147px,#35d3f6 155px,#4bf6d9 159px,#45f5e0 162px,#35cff6 164px,#35a0f6 167px,#35a4f6 169px,#35aaf6 172px,#35a2f6 175px,#35bdf6 177px,#35cff6 178px)"></i><i style="left:194px;top:27px;width:2px;height:179px;background:linear-gradient(#6f120f 0px,#c51f22 2px,#f73e34 4px,#f66438 8px,#f69937 20px,#eff136 28px,#d9f64c 40px,#c0f665 46px,#a3f682 53px,#93f692 61px,#5af6cb 69px,#38e7ed 77px,#35abf6 86px,#3575f6 96px,#354df6 101px,#354bf6 110px,#3556f6 115px,#3131f4 119px,#1d1dce 122px,#1f1fd3 126px,#2c2cef 127px,#3555f6 128px,#356cf6 129px,#3586f6 135px,#3574f6 140px,#35bdf6 147px,#35d3f6 156px,#40f1e5 160px,#37e5ef 162px,#35a8f6 166px,#35b4f6 169px,#35b9f6 171px,#35aff6 175px,#35c9f6 177px,#35daf6 178px)"></i><i style="left:196px;top:27px;width:2px;height:179px;background:linear-gradient(#6f120f 0px,#c82023 2px,#f73f35 4px,#f66338 8px,#f69c37 20px,#f5ea35 27px,#e2f643 31px,#cbf659 44px,#a5f680 51px,#98f68c 60px,#53f6d2 70px,#35e2f1 78px,#3593f6 90px,#3573f6 96px,#354bf6 100px,#354af6 109px,#3559f6 115px,#2c2cee 118px,#1d1dce 120px,#1d1dce 125px,#343af7 127px,#355ef6 128px,#3584f6 133px,#3577f6 140px,#35c5f6 148px,#35bff6 155px,#36e3f0 160px,#35d4f6 162px,#35b0f6 165px,#35d0f6 170px,#35b9f6 174px,#35c1f6 176px,#36e5ef 178px)"></i><i style="left:198px;top:27px;width:2px;height:179px;background:linear-gradient(#70120f 0px,#cb2124 2px,#f74135 4px,#f66538 9px,#f69e37 20px,#f3ec35 27px,#e3f642 30px,#d0f655 43px,#a5f680 51px,#97f68e 60px,#51f6d3 70px,#35e2f1 78px,#358ff6 90px,#3571f6 96px,#354ff6 100px,#3553f6 110px,#3559f6 115px,#3131f4 117px,#2121d8 118px,#1c1ccb 123px,#2020d6 125px,#3030f3 126px,#3566f6 128px,#3587f6 135px,#3579f6 140px,#35c6f6 148px,#35b2f6 155px,#35d7f6 160px,#35b4f6 164px,#35def4 170px,#35c5f6 174px,#35cdf6 176px,#3cede8 178px)"></i><i style="left:200px;top:27px;width:2px;height:179px;background:linear-gradient(#77110f 0px,#cf2225 2px,#f74236 4px,#f66538 9px,#f69637 19px,#f2ed35 27px,#def646 33px,#c8f65d 44px,#a6f67f 51px,#97f68e 60px,#4bf6d9 71px,#35e2f1 78px,#358cf6 90px,#3579f6 95px,#3556f6 99px,#3551f6 109px,#3557f6 115px,#353bf6 116px,#1d1dcf 118px,#1f1fd2 124px,#2a2aea 125px,#355ff6 127px,#3589f6 135px,#357bf6 140px,#35c3f6 148px,#35a6f6 155px,#35ccf6 160px,#35b9f6 164px,#37e3f0 167px,#3beaea 170px,#35cef6 174px,#35e2f1 177px,#40f1e5 178px)"></i><i style="left:202px;top:27px;width:2px;height:179px;background:linear-gradient(#7f100f 0px,#d22326 2px,#f74436 4px,#f66d38 11px,#f69837 19px,#f1ef35 27px,#d9f64c 36px,#c6f65f 44px,#a7f67e 51px,#97f68e 60px,#4ff6d6 70px,#35e1f1 78px,#358df6 89px,#357df6 94px,#355df6 98px,#3559f6 103px,#3551f6 109px,#355ef6 114px,#3553f6 115px,#3030f6 116px,#2020d6 117px,#1c1ccc 122px,#1f1fd2 123px,#353ff6 125px,#355af6 126px,#358af6 135px,#357af6 140px,#35bcf6 147px,#359ef6 155px,#35c1f6 159px,#35b4f6 163px,#36e3f0 166px,#44f4e1 167px,#3aeaeb 171px,#35d3f6 175px,#3ff0e5 178px)"></i><i style="left:204px;top:27px;width:2px;height:179px;background:linear-gradient(#87100f 0px,#d52327 2px,#f74436 4px,#f67a37 14px,#f6a536 20px,#f0f035 27px,#def647 33px,#c4f661 44px,#a8f67d 52px,#8ef697 61px,#4ff6d5 70px,#35e0f3 78px,#358ef6 89px,#3577f6 94px,#3560f6 97px,#3568f6 101px,#3551f6 107px,#3562f6 114px,#3556f6 115px,#3131f6 116px,#2020d6 117px,#1c1ccd 121px,#1f1fd4 122px,#3542f6 124px,#355df6 126px,#358bf6 134px,#3576f6 140px,#35b9f6 147px,#359af6 155px,#35b0f6 159px,#35a3f6 162px,#35e0f3 165px,#4ff6d6 167px,#3fefe6 171px,#35d8f6 174px,#3cece9 178px)"></i><i style="left:206px;top:27px;width:2px;height:179px;background:linear-gradient(#8f1211 0px,#d82428 2px,#f74536 4px,#f67a37 14px,#f6a936 20px,#eff136 27px,#def646 33px,#c2f663 44px,#a8f67d 52px,#8df698 61px,#5af6cb 68px,#39e8ec 76px,#3594f6 88px,#357df6 93px,#355ff6 96px,#356cf6 101px,#3555f6 107px,#3565f6 114px,#355df6 115px,#3537f6 116px,#1d1dcf 118px,#2222d9 121px,#3546f6 123px,#3557f6 125px,#358af6 134px,#3571f6 140px,#359cf6 144px,#35b5f6 147px,#3597f6 155px,#359df6 159px,#3593f6 161px,#3597f6 162px,#38e8ec 165px,#56f6cf 167px,#3ff0e6 171px,#35dcf6 174px,#36e3f0 178px)"></i><i style="left:208px;top:27px;width:2px;height:179px;background:linear-gradient(#971314 0px,#db2529 2px,#f74537 4px,#f67837 13px,#f6a236 19px,#eef237 27px,#e0f645 32px,#c1f664 44px,#8af69a 61px,#4af6db 70px,#35d6f6 79px,#3596f6 88px,#3579f6 93px,#355ef6 96px,#3574f6 100px,#3559f6 108px,#3565f6 115px,#2f32f0 117px,#2626e3 118px,#2e34ee 120px,#355bf6 123px,#355af6 127px,#3586f6 133px,#356af6 140px,#359af6 144px,#35b0f6 147px,#3596f6 157px,#3585f6 161px,#3590f6 162px,#39e9eb 165px,#55f6d0 167px,#42f4e3 170px,#35ddf5 174px,#35d8f6 178px)"></i><i style="left:210px;top:27px;width:2px;height:179px;background:linear-gradient(#9f1516 0px,#dd262a 2px,#f74537 4px,#f67a37 13px,#f69b37 18px,#f6e735 26px,#e1f644 29px,#d4f651 39px,#9af68b 57px,#7ef6a7 62px,#41f2e4 71px,#35cff6 80px,#3593f6 89px,#3576f6 93px,#3561f6 96px,#3578f6 100px,#355df6 109px,#356af6 116px,#3559f6 118px,#3569f6 121px,#3552f6 126px,#3582f6 133px,#3563f6 140px,#35aaf6 146px,#358bf6 158px,#357ff6 161px,#35aaf6 163px,#36e4f0 165px,#47f6dd 166px,#50f6d5 168px,#35e1f2 171px,#35cdf6 178px)"></i><i style="left:212px;top:27px;width:2px;height:179px;background:linear-gradient(#a61718 0px,#df262b 2px,#f74637 4px,#f6a036 18px,#f6e835 26px,#e1f644 29px,#d7f64d 38px,#85f6a0 61px,#3deee8 71px,#35d9f6 79px,#358ff6 90px,#356bf6 95px,#3578f6 101px,#355cf6 110px,#356ff6 121px,#354ff6 125px,#3574f6 132px,#3564f6 134px,#2e37ee 137px,#354af6 140px,#359cf6 145px,#35a8f6 150px,#3581f6 161px,#35dbf6 165px,#3ff0e6 166px,#46f6df 168px,#35d5f6 171px,#35c3f6 178px)"></i><i style="left:214px;top:27px;width:2px;height:179px;background:linear-gradient(#ac181a 0px,#e2272c 2px,#f74737 4px,#f69837 17px,#f5e935 26px,#e1f644 29px,#d7f64e 38px,#81f6a3 61px,#3dede8 71px,#35ddf5 79px,#3575f6 94px,#357bf6 101px,#355af6 110px,#3574f6 120px,#354ef6 125px,#3565f6 130px,#355ff6 131px,#2e31ed 133px,#1d1dce 137px,#2525e1 140px,#3339f7 141px,#3578f6 143px,#35a1f6 146px,#35a6f6 151px,#3587f6 161px,#36e4f0 166px,#3aeaeb 168px,#35c8f6 171px,#35bdf6 178px)"></i><i style="left:216px;top:27px;width:2px;height:179px;background:linear-gradient(#a91819 0px,#e1272b 2px,#f74737 4px,#f6a336 18px,#f6e735 26px,#e2f643 29px,#dcf649 37px,#86f69e 60px,#3fefe6 72px,#35e0f3 79px,#357ef6 93px,#357ef6 101px,#355bf6 109px,#356ff6 120px,#354df6 125px,#3554f6 129px,#2e2eee 131px,#1d1dcf 133px,#1e1ed0 140px,#2727e5 141px,#3546f6 142px,#356ef6 143px,#359ef6 146px,#35a4f6 151px,#359cf6 154px,#35a1f6 157px,#358ff6 160px,#359af6 162px,#35d8f6 166px,#35dbf5 168px,#35bcf6 171px,#35b6f6 178px)"></i><i style="left:218px;top:27px;width:2px;height:179px;background:linear-gradient(#a51718 0px,#df262b 2px,#f74537 4px,#f6ab36 19px,#f0f035 27px,#e3f642 31px,#d3f652 39px,#a3f682 53px,#6cf6b8 63px,#41f2e4 73px,#35e1f2 79px,#358af6 91px,#3580f6 101px,#355cf6 107px,#355ff6 113px,#356df6 119px,#3541f6 127px,#1d1dcf 131px,#1d1dce 140px,#3537f6 142px,#3565f6 143px,#3591f6 145px,#35a3f6 149px,#359ef6 153px,#35b5f6 155px,#3599f6 160px,#35aaf6 163px,#35cdf6 166px,#35c1f6 169px,#35adf6 172px,#35aff6 178px)"></i><i style="left:220px;top:27px;width:2px;height:179px;background:linear-gradient(#a11616 0px,#dd262a 2px,#f74336 4px,#f6d735 25px,#e9f63c 28px,#d7f64e 38px,#a1f684 53px,#45f6e0 72px,#35e1f2 79px,#3586f6 92px,#3581f6 101px,#355df6 106px,#3560f6 113px,#356af6 118px,#3544f6 126px,#3535f6 127px,#1d1dcf 129px,#1e1ed1 140px,#2929ea 141px,#356af6 143px,#3599f6 146px,#3598f6 149px,#3596f6 152px,#35c4f6 155px,#35a0f6 160px,#35c5f6 166px,#35b5f6 169px,#35a3f6 172px,#35a6f6 178px)"></i><i style="left:222px;top:27px;width:2px;height:179px;background:linear-gradient(#9c1515 0px,#dc252a 2px,#f74235 4px,#f6d535 25px,#e5f640 29px,#d6f64f 38px,#a8f67d 52px,#8bf69a 57px,#43f5e2 74px,#35d1f6 81px,#3584f6 92px,#3586f6 100px,#355cf6 106px,#3562f6 113px,#3568f6 117px,#3434f6 127px,#1d1dce 129px,#1d1dcf 139px,#3435f7 141px,#357ef6 144px,#3595f6 146px,#3589f6 149px,#3580f6 150px,#3591f6 152px,#35ccf6 155px,#35a9f6 159px,#35bdf6 166px,#3598f6 172px,#359cf6 178px)"></i><i style="left:224px;top:27px;width:2px;height:179px;background:linear-gradient(#981414 0px,#da2529 2px,#f74135 4px,#f69837 17px,#f6dd35 26px,#e5f63f 30px,#cff655 39px,#a8f67d 52px,#8cf699 57px,#44f5e1 74px,#35caf6 82px,#357ff6 92px,#3586f6 100px,#355df6 106px,#3565f6 113px,#3565f6 117px,#3434f7 127px,#1d1dce 129px,#1d1dce 138px,#2f2ff2 140px,#3587f6 145px,#358cf6 147px,#3573f6 150px,#358ef6 152px,#35bef6 154px,#35c2f6 156px,#35b2f6 159px,#35bdf6 163px,#35a7f6 168px,#3590f6 171px,#3594f6 178px)"></i><i style="left:226px;top:27px;width:2px;height:179px;background:linear-gradient(#941313 0px,#d92529 2px,#f74135 4px,#f69437 16px,#f6be36 23px,#f1ee35 28px,#bbf66a 47px,#a8f67d 52px,#88f69d 59px,#46f6df 73px,#35dff4 79px,#358ff6 89px,#357bf6 92px,#3589f6 99px,#3560f6 106px,#3567f6 113px,#3569f6 116px,#3546f6 123px,#3434f7 127px,#1d1dce 129px,#1e1ed1 137px,#3131f4 139px,#358af6 146px,#356ef6 150px,#358af6 152px,#35adf6 154px,#35a6f6 157px,#35ccf6 160px,#35c5f6 163px,#358bf6 171px,#358ef6 178px)"></i><i style="left:228px;top:27px;width:2px;height:179px;background:linear-gradient(#901212 0px,#d92529 2px,#f74235 4px,#f69237 16px,#f6bd36 23px,#eef237 29px,#bdf667 45px,#a8f67d 52px,#4ff6d5 70px,#3cece9 77px,#35c6f6 83px,#3577f6 91px,#3588f6 99px,#3562f6 106px,#3566f6 116px,#3545f6 122px,#3434f7 127px,#1d1dce 129px,#1f1fd4 136px,#3336f7 138px,#3552f6 142px,#3586f6 146px,#3572f6 150px,#3592f6 153px,#3584f6 155px,#3594f6 157px,#35d9f6 160px,#35cbf6 163px,#3595f6 168px,#3588f6 177px,#358cf6 178px)"></i><i style="left:230px;top:27px;width:2px;height:179px;background:linear-gradient(#8d1111 0px,#bb1c1e 1px,#ec3230 3px,#f65438 6px,#f68f37 17px,#f2ed35 29px,#bff666 42px,#aff676 51px,#66f6be 67px,#48f6dd 72px,#3bebea 77px,#35c1f6 84px,#3573f6 91px,#3588f6 98px,#3565f6 106px,#3561f6 116px,#3544f6 121px,#3232f7 127px,#1d1dce 129px,#1f1fd4 135px,#353bf6 137px,#3545f6 141px,#3585f6 146px,#357cf6 151px,#357ef6 153px,#3563f6 155px,#3588f6 157px,#35cdf6 159px,#35e1f2 160px,#35cdf6 163px,#359af6 167px,#358bf6 173px,#3589f6 177px,#358df6 178px)"></i><i style="left:232px;top:27px;width:2px;height:179px;background:linear-gradient(#8a1110 0px,#ba1c1e 1px,#ec3230 3px,#f65338 6px,#f6a836 21px,#eef237 30px,#bff666 43px,#9af68b 57px,#68f6bd 67px,#48f6dd 72px,#3ae9eb 77px,#35c3f6 84px,#3573f6 91px,#3583f6 98px,#3564f6 109px,#355bf6 116px,#3542f6 121px,#3538f6 126px,#2d2df1 127px,#2121d7 128px,#1c1ccc 133px,#1e1ed1 134px,#353bf6 136px,#3549f6 137px,#3545f6 141px,#3586f6 146px,#3577f6 152px,#3550f6 155px,#3563f6 156px,#35d1f6 159px,#35e2f1 160px,#35dcf6 162px,#359ef6 167px,#359df6 171px,#3588f6 175px,#3590f6 178px)"></i><i style="left:234px;top:27px;width:2px;height:179px;background:linear-gradient(#87100f 0px,#b81b1d 1px,#eb312f 3px,#f64b38 5px,#f69d37 20px,#f1ef35 30px,#bef666 43px,#8ff696 62px,#48f6dd 72px,#35e1f2 78px,#35baf6 85px,#3575f6 91px,#357bf6 99px,#3556f6 116px,#3540f6 121px,#3535f6 126px,#1e1ed1 128px,#1d1dcf 133px,#3439f6 135px,#354df6 136px,#3545f6 140px,#3587f6 146px,#3583f6 151px,#3551f6 154px,#3553f6 155px,#3566f6 156px,#35d1f6 159px,#35e1f2 161px,#35a5f6 167px,#35a5f6 171px,#358af6 175px,#3593f6 178px)"></i><i style="left:236px;top:27px;width:2px;height:179px;background:linear-gradient(#82100f 0px,#b51b1c 1px,#e82e2e 3px,#f74737 5px,#f69037 19px,#f3ec35 30px,#d6f64e 36px,#9ef687 59px,#81f6a4 65px,#4af6da 71px,#37e6ee 77px,#35bbf6 85px,#3577f6 91px,#356cf6 106px,#3552f6 116px,#3540f6 121px,#353df6 125px,#3232f7 126px,#2222db 127px,#1c1ccb 129px,#1d1dce 132px,#3234f6 134px,#354ff6 135px,#3552f6 137px,#3550f6 140px,#358cf6 147px,#3582f6 151px,#355af6 154px,#3576f6 156px,#35cff6 159px,#35dcf6 161px,#35adf6 167px,#35aaf6 171px,#358cf6 175px,#3596f6 178px)"></i><i style="left:238px;top:27px;width:2px;height:179px;background:linear-gradient(#7c110f 0px,#b0191b 1px,#e4292d 3px,#f64b38 6px,#f67d37 17px,#eef237 31px,#b5f670 48px,#a4f681 59px,#8ef697 64px,#4bf6da 71px,#37e5ee 77px,#35baf6 85px,#3579f6 91px,#3563f6 110px,#3543f6 121px,#3538f6 125px,#1c1ccd 128px,#2020d5 132px,#2f2ff1 133px,#355af6 135px,#3554f6 139px,#358cf6 147px,#3583f6 151px,#356cf6 153px,#357df6 155px,#35cbf6 159px,#35d2f6 162px,#35b1f6 167px,#35b7f6 170px,#3590f6 175px,#3599f6 178px)"></i><i style="left:240px;top:27px;width:2px;height:179px;background:linear-gradient(#78110f 0px,#ac181a 1px,#e0272b 3px,#f74737 6px,#f67b37 17px,#f6bc36 25px,#f0ef35 31px,#b5f670 48px,#a6f67f 58px,#a1f683 62px,#4cf6d9 71px,#35d5f6 81px,#35a2f6 87px,#357cf6 91px,#3567f6 109px,#3547f6 120px,#3233f5 124px,#1c1ccd 127px,#1f1fd2 131px,#3544f6 133px,#355af6 134px,#3564f6 140px,#358bf6 148px,#357cf6 153px,#35c7f6 159px,#35ccf6 162px,#35b2f6 166px,#35bdf6 170px,#3596f6 174px,#359cf6 178px)"></i><i style="left:242px;top:27px;width:2px;height:179px;background:linear-gradient(#75110f 0px,#a91819 1px,#dd262a 3px,#f74436 6px,#f66f38 16px,#f6b536 24px,#f3ed35 31px,#daf64a 36px,#a8f67d 54px,#a9f67b 61px,#71f6b4 67px,#46f6df 73px,#35d1f6 82px,#357ff6 91px,#3566f6 110px,#3549f6 119px,#353af6 122px,#1d1dce 125px,#1e1ed1 130px,#353bf6 132px,#355ff6 134px,#3570f6 143px,#358bf6 148px,#358cf6 153px,#35c2f6 159px,#35bff6 163px,#35b1f6 166px,#35c5f6 170px,#359df6 174px,#359bf6 178px)"></i><i style="left:244px;top:27px;width:2px;height:179px;background:linear-gradient(#73110f 0px,#a71718 1px,#dc252a 3px,#f74537 6px,#f66e38 16px,#f6b336 24px,#f2ed35 31px,#d8f64d 37px,#abf67a 53px,#a4f680 62px,#4ef6d7 71px,#35ddf5 80px,#3584f6 91px,#3572f6 102px,#3563f6 112px,#3549f6 118px,#3542f6 120px,#2525df 122px,#1c1ccc 124px,#1f1fd2 129px,#353af6 131px,#3562f6 134px,#356df6 143px,#358bf6 148px,#359cf6 154px,#35bbf6 159px,#35b3f6 163px,#35b1f6 166px,#35d1f6 170px,#35a6f6 174px,#3594f6 178px)"></i><i style="left:246px;top:27px;width:2px;height:179px;background:linear-gradient(#73110f 0px,#a71718 1px,#dd262a 3px,#f74035 5px,#f66e38 16px,#f6b236 24px,#f0ef35 31px,#b3f672 49px,#a3f681 62px,#4ff6d6 71px,#35dff3 80px,#358bf6 91px,#357af6 97px,#3571f6 102px,#3564f6 112px,#343af7 119px,#1d1dcd 122px,#1f1fd4 128px,#353af6 130px,#3564f6 134px,#3562f6 142px,#358bf6 148px,#35a0f6 155px,#35b0f6 160px,#35abf6 165px,#35def4 169px,#35d0f6 171px,#35aff6 174px,#359ff6 177px,#358cf6 178px)"></i><i style="left:248px;top:27px;width:2px;height:179px;background:linear-gradient(#73110f 0px,#a71718 1px,#df262b 3px,#f74536 5px,#f66f38 16px,#eff136 31px,#b1f674 50px,#a2f683 62px,#4bf6da 72px,#35e0f3 80px,#3592f6 91px,#3574f6 98px,#356cf6 111px,#3543f6 118px,#2d2df1 119px,#2020d5 120px,#1c1ccd 126px,#2020d4 127px,#353cf6 129px,#3568f6 135px,#3559f6 141px,#358bf6 148px,#3591f6 153px,#35a9f6 159px,#35a4f6 164px,#36e2f1 168px,#38e7ed 170px,#35b6f6 174px,#35aef6 176px,#3586f6 178px)"></i><i style="left:250px;top:27px;width:2px;height:179px;background:linear-gradient(#72110f 0px,#a71718 1px,#e2282c 3px,#f43b33 4px,#f65838 8px,#f67337 16px,#f6e935 30px,#e2f643 34px,#b1f674 51px,#a6f67f 61px,#72f6b3 67px,#3ff1e5 74px,#35ccf6 83px,#3592f6 93px,#356bf6 100px,#3572f6 110px,#3550f6 116px,#3547f6 118px,#3131f6 119px,#2121d8 120px,#1c1ccb 124px,#1e1ed1 126px,#353cf6 128px,#3551f6 130px,#356cf6 135px,#3550f6 140px,#3585f6 147px,#3582f6 152px,#35a2f6 158px,#359df6 163px,#38e8ed 167px,#43f5e2 169px,#35c4f6 173px,#35b0f6 176px,#3585f6 178px)"></i><i style="left:252px;top:27px;width:2px;height:179px;background:linear-gradient(#71120f 0px,#a71718 1px,#e62b2d 3px,#f74135 4px,#f65d38 8px,#f67937 16px,#f4eb35 30px,#ddf648 36px,#b3f672 49px,#abf67a 58px,#93f692 64px,#45f6e0 73px,#35c8f6 84px,#3569f6 100px,#3572f6 110px,#3552f6 116px,#3548f6 118px,#3030f5 119px,#2121d7 120px,#1c1ccb 124px,#2525df 126px,#3439f6 127px,#3555f6 129px,#356ff6 135px,#3551f6 140px,#3580f6 147px,#3575f6 151px,#359bf6 156px,#35a0f6 163px,#35def4 166px,#43f4e2 167px,#42f4e2 170px,#35c6f6 173px,#35a1f6 177px,#358af6 178px)"></i><i style="left:254px;top:27px;width:2px;height:179px;background:linear-gradient(#71120f 0px,#a81718 1px,#e92e2e 3px,#f65138 5px,#f68737 17px,#f2ed35 30px,#cef657 39px,#b3f671 52px,#9af68a 63px,#46f6df 73px,#35cef6 83px,#3569f6 99px,#3574f6 109px,#3550f6 117px,#353bf6 118px,#1e1ed0 120px,#1d1dcd 124px,#2222d9 125px,#3232f5 126px,#3550f6 127px,#3570f6 135px,#3554f6 140px,#357df6 146px,#3568f6 150px,#3599f6 155px,#3599f6 162px,#35b9f6 164px,#3aeaea 166px,#4ff6d6 168px,#44f6e1 170px,#35c8f6 173px,#35a8f6 177px,#3593f6 178px)"></i><i style="left:256px;top:27px;width:2px;height:179px;background:linear-gradient(#72120f 0px,#a91819 1px,#eb312f 3px,#f65338 5px,#f69237 18px,#f1ef35 30px,#b4f671 49px,#a6f67f 61px,#47f6de 73px,#35cef6 83px,#358ff6 92px,#3568f6 100px,#3578f6 107px,#3547f6 117px,#2d2df1 118px,#2020d5 119px,#1e1ed0 124px,#2828e7 125px,#3546f6 126px,#355df6 127px,#3570f6 135px,#3557f6 140px,#357bf6 146px,#3566f6 150px,#359bf6 155px,#359cf6 162px,#35daf6 165px,#3ff0e5 166px,#51f6d4 168px,#45f6df 170px,#35daf6 172px,#35c1f6 175px,#359ef6 178px)"></i><i style="left:258px;top:27px;width:2px;height:179px;background:linear-gradient(#75110f 0px,#ad191a 1px,#ed3430 3px,#f65438 5px,#f69637 18px,#eef137 30px,#b2f673 50px,#9df688 62px,#48f6dd 73px,#36e5ef 78px,#35bcf6 86px,#358ff6 91px,#356af6 100px,#357af6 106px,#354cf6 116px,#3233f6 117px,#1d1dce 119px,#2020d5 124px,#3030f5 125px,#3552f6 126px,#3565f6 128px,#356af6 136px,#355af6 140px,#3579f6 146px,#3569f6 149px,#359bf6 155px,#359df6 162px,#35dbf6 165px,#40f1e5 166px,#52f6d3 168px,#3dede8 171px,#35c7f6 174px,#35b6f6 177px,#35a7f6 178px)"></i><i style="left:260px;top:27px;width:2px;height:179px;background:linear-gradient(#7a110f 0px,#b21a1c 1px,#f03631 3px,#f65d38 6px,#f69b37 18px,#f1ee35 29px,#b5f670 48px,#a1f684 61px,#4cf6d9 72px,#3dede8 77px,#35d1f6 83px,#358bf6 91px,#356bf6 99px,#357bf6 106px,#3553f6 115px,#3439f6 116px,#1d1dcf 118px,#1d1dce 123px,#3536f6 125px,#3559f6 126px,#3567f6 128px,#355bf6 131px,#3446f7 133px,#3561f6 137px,#3562f6 141px,#3579f6 146px,#3572f6 149px,#359cf6 155px,#359ff6 162px,#35dcf6 165px,#41f2e4 166px,#54f6d0 168px,#40f1e5 171px,#35c9f6 174px,#35adf6 178px)"></i><i style="left:262px;top:27px;width:2px;height:179px;background:linear-gradient(#80100f 0px,#b81b1e 1px,#f23932 3px,#f66538 7px,#f69f36 18px,#edf337 29px,#adf677 52px,#9cf688 61px,#4cf6d9 72px,#3deee8 77px,#35c5f6 85px,#358af6 91px,#356ff6 99px,#357df6 106px,#3559f6 114px,#3541f6 115px,#1e1ed1 117px,#1d1dcd 123px,#3336f7 125px,#3554f6 126px,#3564f6 128px,#3545f6 130px,#2424dd 132px,#2121d7 134px,#2a2aea 135px,#355cf6 137px,#357ff6 149px,#359af6 153px,#35a5f6 162px,#35dff3 165px,#43f4e2 166px,#56f6cf 169px,#42f4e3 171px,#35d4f6 173px,#35b3f6 178px)"></i><i style="left:264px;top:27px;width:2px;height:179px;background:linear-gradient(#86100f 0px,#bd1d1f 1px,#f43b33 3px,#f66738 7px,#f6a336 18px,#f0ef35 28px,#acf679 52px,#98f68d 61px,#4af6db 73px,#35dcf6 81px,#35adf6 87px,#358bf6 91px,#3572f6 99px,#357ff6 106px,#355ef6 113px,#2c2cee 115px,#1f1fd3 116px,#1d1dce 124px,#303cf3 128px,#1e1ed0 131px,#1d1dcf 134px,#2626e2 135px,#3543f6 136px,#355df6 137px,#358bf6 149px,#359df6 153px,#35aff6 162px,#35e3f0 165px,#44f6e0 166px,#58f6cd 169px,#42f4e3 171px,#35d3f6 173px,#35b9f6 178px)"></i><i style="left:266px;top:27px;width:2px;height:179px;background:linear-gradient(#891010 0px,#c01d20 1px,#f63d34 3px,#f66838 7px,#f6a636 18px,#f4eb35 27px,#e0f645 32px,#abf67a 53px,#8bf69a 62px,#48f6dc 73px,#35d7f6 82px,#358bf6 91px,#3574f6 99px,#3582f6 106px,#3563f6 112px,#3553f6 113px,#3131f3 114px,#2121d7 115px,#1c1ccb 120px,#1d1dcf 134px,#2626e3 135px,#3545f6 136px,#3562f6 137px,#3587f6 148px,#359cf6 152px,#35a5f6 158px,#35c3f6 163px,#39e8ec 165px,#52f6d3 167px,#4ff6d6 170px,#35e3f0 172px,#35ccf6 175px,#35bff6 178px)"></i><i style="left:268px;top:27px;width:2px;height:179px;background:linear-gradient(#8c1110 0px,#c21e21 1px,#f74035 3px,#f66a38 7px,#f6b036 19px,#f1ef35 27px,#def647 32px,#aaf67b 54px,#76f6ae 65px,#47f6de 73px,#35cef6 83px,#358bf6 91px,#3576f6 100px,#3583f6 106px,#3561f6 112px,#354df6 113px,#2a2aea 114px,#1e1ed1 115px,#1d1dcf 134px,#2727e4 135px,#3549f6 136px,#356af6 137px,#3576f6 144px,#3599f6 153px,#35adf6 158px,#35ddf5 164px,#49f6dc 166px,#58f6cd 169px,#42f4e3 171px,#35d1f6 174px,#35c4f6 178px)"></i><i style="left:270px;top:27px;width:2px;height:179px;background:linear-gradient(#8e1111 0px,#c51f22 1px,#f74236 3px,#f67138 8px,#f6b936 20px,#edf337 27px,#a9f67b 53px,#79f6ac 65px,#45f6e0 72px,#35e0f2 79px,#358cf6 91px,#3573f6 100px,#3587f6 105px,#3560f6 112px,#354ff6 113px,#2c2cee 114px,#1f1fd2 115px,#1d1dcf 134px,#2828e6 135px,#354ff6 136px,#3571f6 137px,#3579f6 143px,#3580f6 147px,#35aaf6 157px,#35cdf6 160px,#35d8f6 163px,#45f6e0 165px,#5bf6ca 168px,#42f4e2 171px,#35d5f6 174px,#35c7f6 178px)"></i><i style="left:272px;top:27px;width:2px;height:179px;background:linear-gradient(#911212 0px,#c81f23 1px,#e72d2e 2px,#f74537 3px,#f67338 8px,#f6b536 19px,#f3ec35 26px,#def647 30px,#a9f67c 54px,#6cf6b9 67px,#46f6de 71px,#38e7ed 77px,#3593f6 89px,#3576f6 97px,#3570f6 100px,#3587f6 105px,#3551f6 113px,#2f2ff5 114px,#2020d5 115px,#1c1ccb 123px,#1e1ed0 134px,#2a2aea 135px,#3578f6 137px,#3581f6 150px,#35aff6 157px,#35d8f6 160px,#36e4ef 163px,#4df6d8 165px,#59f6cc 169px,#43f5e2 171px,#35d5f6 174px,#35caf6 178px)"></i><i style="left:274px;top:27px;width:2px;height:179px;background:linear-gradient(#941313 0px,#ca2023 1px,#ea302f 2px,#f65538 4px,#f68737 12px,#f0f035 26px,#a8f67d 53px,#77f6ae 66px,#47f6de 71px,#3cece9 76px,#35c0f6 82px,#358df6 91px,#357ef6 96px,#356df6 100px,#3586f6 105px,#3552f6 113px,#3333f7 114px,#2121d8 115px,#1c1ccb 119px,#1d1dcd 133px,#2121d7 134px,#3335f7 135px,#356af6 136px,#357ef6 137px,#3580f6 151px,#35b4f6 157px,#35e0f3 160px,#4bf6da 164px,#5ef6c7 168px,#44f6e1 171px,#35d2f6 174px,#35cdf6 178px)"></i><i style="left:276px;top:27px;width:2px;height:179px;background:linear-gradient(#971313 0px,#cd2124 1px,#ec3230 2px,#f65638 4px,#f68a37 12px,#f4eb35 25px,#def647 30px,#a8f67d 54px,#79f6ac 66px,#4af6db 71px,#3bece9 76px,#35c4f6 80px,#3590f6 91px,#357ef6 96px,#356cf6 100px,#3587f6 105px,#3551f6 113px,#3536f6 114px,#1e1ed1 116px,#1e1ecf 133px,#2828e6 134px,#354ff6 135px,#3577f6 136px,#3581f6 151px,#35a7f6 156px,#37e7ed 160px,#5af6cb 165px,#5bf6ca 169px,#44f6e0 171px,#35cef6 174px,#35c8f6 177px,#35d0f6 178px)"></i><i style="left:278px;top:27px;width:2px;height:179px;background:linear-gradient(#991414 0px,#cf2125 1px,#ed3430 2px,#f65738 4px,#f68e37 12px,#f1ef35 25px,#c7f65e 39px,#86f69f 64px,#4ef6d7 71px,#3bebea 76px,#35bdf6 81px,#3591f6 92px,#356af6 99px,#3587f6 105px,#3559f6 111px,#354ef6 114px,#2a2ae9 118px,#1c1ccc 121px,#1d1dcd 132px,#2020d6 133px,#3232f6 134px,#3564f6 135px,#357af6 136px,#3573f6 142px,#3586f6 147px,#358ef6 152px,#35a8f6 156px,#3dede8 160px,#5df6c8 166px,#53f6d2 170px,#38e8ed 172px,#35c1f6 175px,#35d2f6 178px)"></i><i style="left:280px;top:27px;width:2px;height:179px;background:linear-gradient(#9d1515 0px,#d12226 1px,#ef3631 2px,#f66338 5px,#f4eb35 24px,#dff646 29px,#c6f65e 39px,#8af69b 63px,#4cf6d9 73px,#3ae9eb 76px,#35c0f6 80px,#357df6 96px,#356cf6 100px,#3587f6 105px,#3556f6 111px,#3556f6 116px,#2e2ef1 118px,#2121d7 119px,#1c1ccb 124px,#1d1dcf 132px,#2424de 133px,#353ef6 134px,#3567f6 135px,#3571f6 137px,#356ef6 141px,#3590f6 147px,#359df6 155px,#36e5ef 159px,#47f6de 161px,#5df6c8 169px,#48f6dd 171px,#35d7f6 173px,#35c1f6 175px,#35d4f6 178px)"></i><i style="left:282px;top:27px;width:2px;height:179px;background:linear-gradient(#a31617 0px,#d32327 1px,#f13832 2px,#f66638 5px,#f1ee35 24px,#c4f661 37px,#bbf66a 44px,#87f69d 63px,#40f1e5 75px,#35cff6 78px,#3592f6 91px,#356af6 99px,#3586f6 105px,#3553f6 111px,#3555f6 115px,#2f2ff0 117px,#2121d7 118px,#1c1ccb 124px,#1d1dcf 132px,#2626e3 133px,#3548f6 134px,#3568f6 135px,#356af6 138px,#3573f6 142px,#359cf6 147px,#359df6 155px,#35d5f6 158px,#46f6df 160px,#5df6c8 169px,#49f6db 171px,#35d8f6 173px,#35c2f6 175px,#35d2f6 178px)"></i><i style="left:284px;top:27px;width:2px;height:179px;background:linear-gradient(#a61718 0px,#d52327 1px,#f43b33 2px,#f67238 6px,#eff136 24px,#c3f662 37px,#bcf669 44px,#85f6a0 63px,#45f6e0 74px,#35d6f6 77px,#358bf6 92px,#356af6 99px,#3583f6 105px,#354ff6 111px,#354ef6 115px,#3535f6 116px,#1d1dce 118px,#1e1ed0 132px,#2a2aea 133px,#356cf6 135px,#356df6 141px,#35a8f6 147px,#3599f6 154px,#35b0f6 156px,#35dbf6 158px,#48f6dd 160px,#50f6d5 167px,#5df6c8 169px,#4bf6da 171px,#35daf6 173px,#35c1f6 175px,#35cdf6 178px)"></i><i style="left:286px;top:27px;width:2px;height:179px;background:linear-gradient(#a81719 0px,#d82428 1px,#f63d34 2px,#f67f37 7px,#f2ed35 23px,#c7f65e 34px,#bcf669 44px,#8af69b 62px,#64f6c0 69px,#42f3e3 74px,#35d4f6 77px,#3569f6 99px,#3580f6 105px,#354cf6 111px,#354cf6 115px,#3434f7 116px,#1d1dce 118px,#1c1ccd 131px,#2020d4 132px,#2f2ff4 133px,#355ff6 134px,#3575f6 135px,#356df6 141px,#35abf6 146px,#35a6f6 151px,#35a0f6 154px,#35e2f1 158px,#47f6de 160px,#46f6df 166px,#5bf6ca 169px,#49f6dc 171px,#35d9f6 173px,#35bef6 175px,#35c8f6 178px)"></i><i style="left:288px;top:27px;width:2px;height:179px;background:linear-gradient(#a81719 0px,#d92429 1px,#f73f34 2px,#f68337 7px,#f0f035 23px,#c2f663 37px,#c0f665 43px,#89f69c 62px,#48f6dd 73px,#35daf6 76px,#356af6 97px,#3575f6 102px,#3578f6 106px,#3549f6 111px,#354df6 115px,#3434f6 116px,#1d1dce 118px,#1d1dce 131px,#2222da 132px,#3537f6 133px,#356df6 134px,#3582f6 135px,#3567f6 140px,#359af6 144px,#35b7f6 147px,#35a2f6 153px,#38e7ed 158px,#48f6dd 161px,#3cede8 165px,#55f6d0 169px,#44f6e0 171px,#35d6f6 173px,#35bdf6 175px,#35c5f6 178px)"></i><i style="left:290px;top:27px;width:2px;height:179px;background:linear-gradient(#a81719 0px,#da2529 1px,#f74135 2px,#f68837 7px,#f4eb35 22px,#e2f643 27px,#c2f663 37px,#c3f661 42px,#89f69b 62px,#4ff6d6 72px,#35d9f6 76px,#35aff6 84px,#356ff6 95px,#356df6 101px,#357af6 105px,#3549f6 111px,#354ff6 115px,#3535f6 116px,#1d1dce 118px,#1e1ecf 131px,#2525e1 132px,#3547f6 133px,#357cf6 134px,#358ff6 135px,#3567f6 140px,#35b5f6 146px,#35acf6 149px,#35a1f6 152px,#3ae9eb 158px,#40f1e5 162px,#36e5ef 165px,#4df6d8 169px,#3ff0e5 171px,#35c6f6 174px,#35c0f6 177px,#35c7f6 178px)"></i><i style="left:292px;top:27px;width:2px;height:179px;background:linear-gradient(#a81718 0px,#db2529 1px,#f74436 2px,#f68f37 7px,#f2ed35 22px,#c4f661 34px,#c2f663 42px,#84f6a1 63px,#4ef6d7 72px,#35dbf6 76px,#35b7f6 83px,#3575f6 93px,#3565f6 99px,#3579f6 105px,#354df6 111px,#3551f6 115px,#3535f6 116px,#1d1dce 118px,#1e1ed0 131px,#2929e9 132px,#358cf6 134px,#359cf6 135px,#3567f6 140px,#35b4f6 146px,#35a5f6 149px,#359af6 151px,#35dcf6 156px,#42f3e3 161px,#35dcf5 165px,#46f6df 169px,#35cbf6 174px,#35c6f6 177px,#35cbf6 178px)"></i><i style="left:294px;top:27px;width:2px;height:179px;background:linear-gradient(#a91719 0px,#dd262a 1px,#f74838 2px,#f69537 7px,#eff136 22px,#c3f662 37px,#b1f674 48px,#7cf6a9 66px,#45f6e0 73px,#35daf6 77px,#35b8f6 83px,#356cf6 94px,#3566f6 100px,#3578f6 105px,#3553f6 111px,#3553f6 115px,#3535f6 116px,#1d1dce 118px,#1e1ed0 130px,#2525e0 131px,#333ef7 132px,#3578f6 133px,#359cf6 134px,#35a4f6 135px,#356cf6 139px,#3571f6 141px,#35b2f6 146px,#3592f6 150px,#35a0f6 152px,#35cff6 155px,#40f1e5 161px,#35d3f6 165px,#41f2e4 169px,#35cff6 175px,#35d0f6 178px)"></i><i style="left:296px;top:27px;width:2px;height:179px;background:linear-gradient(#aa1819 0px,#e0272b 1px,#f64d38 2px,#f69137 6px,#f2ed35 21px,#d4f651 30px,#c4f660 38px,#93f691 60px,#78f6ad 67px,#3ff0e6 74px,#35caf6 81px,#3567f6 94px,#3565f6 100px,#3576f6 105px,#355bf6 112px,#3554f6 115px,#3535f6 116px,#1d1dce 118px,#1d1dcd 128px,#2e2eed 130px,#357ff6 132px,#35a8f6 134px,#359ef6 136px,#356ff6 139px,#3583f6 142px,#35aff6 146px,#358ff6 150px,#35a0f6 152px,#35c3f6 155px,#37e6ee 159px,#3eeee7 161px,#35cbf6 165px,#3eeee7 169px,#35d6f6 178px)"></i><i style="left:298px;top:27px;width:2px;height:179px;background:linear-gradient(#ac181a 0px,#e52a2d 1px,#f65238 2px,#f68e37 5px,#eef136 21px,#c4f661 38px,#9bf68a 54px,#86f69f 65px,#41f2e4 74px,#35ccf6 81px,#3564f6 94px,#3564f6 100px,#3570f6 106px,#3555f6 115px,#3535f6 116px,#1d1dce 118px,#1e1ed1 127px,#2727e5 128px,#3340f7 129px,#3581f6 131px,#35a9f6 134px,#358af6 137px,#3574f6 139px,#3592f6 143px,#35abf6 146px,#3592f6 150px,#35c5f6 157px,#3cece9 160px,#35d4f6 163px,#35c8f6 165px,#3aeaea 169px,#35d9f6 178px)"></i><i style="left:300px;top:27px;width:2px;height:179px;background:linear-gradient(#b21a1c 0px,#ed3330 1px,#f67437 3px,#f69337 5px,#eff036 20px,#b3f672 46px,#9af68b 54px,#8bf699 64px,#3eeee7 75px,#35c4f6 82px,#355ef6 95px,#356df6 106px,#3558f6 115px,#2929e9 117px,#1f1fd2 118px,#1d1dcf 125px,#2f32f0 127px,#3571f6 129px,#35a5f6 134px,#357af6 139px,#35a8f6 146px,#359bf6 151px,#35a3f6 155px,#38e7ed 160px,#35c9f6 164px,#36e5ef 170px,#35dff3 176px,#35d9f6 178px)"></i><i style="left:302px;top:27px;width:2px;height:179px;background:linear-gradient(#bc1c1f 0px,#f64135 1px,#f68237 3px,#f6db35 15px,#e6f63f 22px,#b2f673 47px,#a0f685 53px,#96f68f 59px,#80f6a5 66px,#40f1e5 75px,#35c4f6 82px,#355ef6 95px,#3569f6 108px,#3555f6 116px,#353cf6 117px,#1e1ed1 119px,#1f1fd4 124px,#3544f6 126px,#3565f6 127px,#359ef6 133px,#3580f6 139px,#35a3f6 146px,#359af6 155px,#35d9f6 159px,#35ddf5 161px,#35ccf6 164px,#35e1f2 170px,#35e3f0 175px,#35d4f6 178px)"></i><i style="left:304px;top:27px;width:2px;height:179px;background:linear-gradient(#c82023 0px,#f65138 1px,#f67837 2px,#f6ac36 7px,#edf338 19px,#b2f673 46px,#a7f67e 52px,#96f68f 58px,#8df698 64px,#3eefe7 76px,#35baf6 83px,#355ef6 95px,#3565f6 110px,#3553f6 117px,#343bf7 118px,#1f1fd2 120px,#2727e5 123px,#3556f6 125px,#3577f6 127px,#3598f6 134px,#3586f6 139px,#359bf6 144px,#35a6f6 151px,#3598f6 155px,#35cff6 159px,#35d1f6 164px,#35dff3 169px,#35dff4 175px,#35cdf6 178px)"></i><i style="left:306px;top:27px;width:2px;height:179px;background:linear-gradient(#d82428 0px,#f66838 1px,#f68e37 3px,#eef237 18px,#b2f673 45px,#a7f67e 52px,#98f68d 58px,#89f69c 65px,#45f6e0 75px,#35c4f6 82px,#3561f6 94px,#3563f6 111px,#3556f6 118px,#313ef5 120px,#3576f6 126px,#3593f6 134px,#3588f6 138px,#359bf6 143px,#359bf6 147px,#35a6f6 151px,#3598f6 155px,#35c5f6 159px,#35d6f6 164px,#35def4 168px,#35d2f6 176px,#35c4f6 178px)"></i><i style="left:308px;top:27px;width:2px;height:179px;background:linear-gradient(#f24234 0px,#f67837 1px,#f6ae36 6px,#ecf439 18px,#b1f674 44px,#a7f67e 52px,#9af68a 60px,#82f6a3 66px,#46f6de 75px,#35c4f6 82px,#3566f6 93px,#3560f6 100px,#355ef6 112px,#3560f6 120px,#3590f6 133px,#3585f6 137px,#35a3f6 141px,#3593f6 146px,#35a9f6 150px,#3598f6 155px,#35bff6 160px,#35ddf5 166px,#35cff6 172px,#35cbf6 176px,#35bbf6 178px)"></i><i style="left:310px;top:27px;width:2px;height:179px;background:linear-gradient(#f66938 0px,#f6a236 4px,#eff136 17px,#b9f66c 39px,#a7f67e 52px,#91f694 64px,#47f6dd 75px,#35cef6 81px,#3565f6 93px,#355ef6 99px,#3563f6 111px,#355cf6 116px,#356ff6 124px,#3588f6 133px,#357df6 136px,#35aaf6 140px,#35a0f6 143px,#3591f6 146px,#35acf6 150px,#3599f6 155px,#35d5f6 164px,#35c4f6 172px,#35caf6 175px,#35b3f6 178px)"></i><i style="left:312px;top:27px;width:2px;height:179px;background:linear-gradient(#f66b38 0px,#f6ac36 5px,#eef237 17px,#b8f66d 39px,#96f68f 63px,#3eefe6 77px,#35c7f6 82px,#356af6 92px,#3558f6 97px,#3565f6 106px,#3560f6 121px,#3585f6 131px,#3571f6 135px,#3591f6 138px,#35b2f6 140px,#35a4f6 143px,#3595f6 146px,#35b0f6 150px,#3599f6 155px,#35cff6 163px,#35b8f6 171px,#35c6f6 175px,#35aef6 178px)"></i><i style="left:314px;top:27px;width:2px;height:179px;background:linear-gradient(#f66e38 0px,#f6ae36 5px,#edf338 17px,#b2f672 44px,#96f68f 63px,#3eefe7 77px,#35c8f6 82px,#3562f6 93px,#3556f6 97px,#3566f6 103px,#355ef6 121px,#3581f6 129px,#3577f6 133px,#356af6 135px,#35b8f6 140px,#35aaf6 143px,#359bf6 146px,#35b0f6 151px,#3599f6 155px,#35cbf6 162px,#35b1f6 171px,#35c9f6 175px,#35abf6 178px)"></i><i style="left:316px;top:27px;width:2px;height:179px;background:linear-gradient(#f67238 0px,#f6b036 5px,#edf237 16px,#d3f652 27px,#a5f680 54px,#96f68f 63px,#43f5e2 76px,#35c9f6 82px,#3560f6 93px,#3555f6 97px,#3565f6 102px,#355df6 113px,#3561f6 122px,#3580f6 128px,#3577f6 132px,#3567f6 135px,#35bbf6 140px,#35a2f6 146px,#35b6f6 150px,#3598f6 154px,#35cdf6 162px,#35aef6 170px,#35d1f6 175px,#35aaf6 178px)"></i><i style="left:318px;top:27px;width:2px;height:179px;background:linear-gradient(#f67537 0px,#f6ba36 6px,#eef136 15px,#d5f650 26px,#a7f67e 56px,#90f695 64px,#47f6de 75px,#35d0f6 81px,#3557f6 94px,#3555f6 97px,#3565f6 102px,#355af6 112px,#355bf6 118px,#3560f6 122px,#357ff6 127px,#3572f6 132px,#3566f6 135px,#35bcf6 140px,#35acf6 147px,#35b5f6 150px,#3599f6 154px,#35d1f6 162px,#35aff6 170px,#35d8f6 175px,#35a9f6 178px)"></i><i style="left:320px;top:27px;width:2px;height:179px;background:linear-gradient(#f67937 0px,#f6c536 7px,#eff036 14px,#a8f67c 53px,#90f694 64px,#4ff6d6 73px,#37e7ed 78px,#3575f6 90px,#3552f6 96px,#3568f6 101px,#3556f6 109px,#355ff6 116px,#3559f6 121px,#357ff6 127px,#3567f6 135px,#35bcf6 140px,#35b2f6 144px,#35aff6 147px,#35b2f6 150px,#359af6 154px,#35daf6 162px,#35b2f6 170px,#35dcf6 175px,#35a8f6 178px)"></i><i style="left:322px;top:27px;width:2px;height:179px;background:linear-gradient(#f67d37 0px,#f6d035 8px,#e7f63e 15px,#d6f64e 25px,#aaf67b 53px,#92f693 64px,#4ff6d5 73px,#36e5ef 78px,#3558f6 94px,#3559f6 97px,#356af6 101px,#3557f6 107px,#355cf6 116px,#3557f6 121px,#357ef6 126px,#3562f6 134px,#3589f6 137px,#35baf6 140px,#35b1f6 147px,#35b0f6 150px,#3599f6 154px,#36e2f1 161px,#35daf6 164px,#35b8f6 169px,#35c3f6 172px,#35dbf6 175px,#35a7f6 178px)"></i><i style="left:324px;top:27px;width:2px;height:179px;background:linear-gradient(#f68037 0px,#f6da35 9px,#e5f640 15px,#d4f651 26px,#b6f66f 43px,#aaf67b 53px,#93f692 64px,#51f6d4 73px,#3aeaeb 77px,#35bef6 82px,#355bf6 94px,#355bf6 97px,#356cf6 101px,#3558f6 106px,#355df6 115px,#3550f6 120px,#357ef6 126px,#3562f6 134px,#3588f6 137px,#35acf6 139px,#35b2f6 143px,#35adf6 146px,#35b8f6 149px,#3596f6 153px,#35a8f6 156px,#35d5f6 159px,#40f1e5 161px,#37e5ee 164px,#35bcf6 169px,#35c5f6 172px,#35d5f6 175px,#35a6f6 178px)"></i><i style="left:326px;top:27px;width:2px;height:179px;background:linear-gradient(#f68437 0px,#f6db35 9px,#e5f640 14px,#bdf668 40px,#a8f67c 52px,#9df688 62px,#40f1e5 76px,#35c5f6 81px,#355af6 95px,#356ef6 101px,#355cf6 106px,#3560f6 114px,#354ef6 120px,#357ef6 126px,#3561f6 134px,#3582f6 137px,#35a2f6 139px,#35b1f6 146px,#35bff6 149px,#3592f6 153px,#3596f6 155px,#35e2f1 159px,#46f6df 160px,#4ef6d7 162px,#35e2f1 165px,#35c2f6 168px,#35bef6 171px,#35d3f6 174px,#35b8f6 177px,#35a7f6 178px)"></i><i style="left:328px;top:27px;width:2px;height:179px;background:linear-gradient(#f68737 0px,#f6dc35 9px,#e4f640 14px,#baf66b 41px,#a8f67d 51px,#a5f680 58px,#8df698 65px,#40f1e5 76px,#35cbf6 80px,#355df6 95px,#356ef6 101px,#3562f6 106px,#3560f6 114px,#354df6 120px,#357ef6 126px,#355cf6 134px,#357af6 137px,#3595f6 139px,#35b3f6 145px,#35cbf6 148px,#35bef6 150px,#358ef6 153px,#3591f6 155px,#35d1f6 158px,#3cede9 159px,#56f6cf 161px,#41f3e3 164px,#35ccf6 167px,#35c4f6 171px,#35d0f6 175px,#35aaf6 178px)"></i><i style="left:330px;top:27px;width:2px;height:179px;background:linear-gradient(#f68937 0px,#f6dc35 9px,#e7f63e 13px,#baf66b 41px,#abf67a 51px,#9cf689 62px,#47f6de 75px,#35d3f6 79px,#359ff6 87px,#355ff6 95px,#356ef6 101px,#3561f6 114px,#354ef6 120px,#357ef6 126px,#3557f6 135px,#3589f6 139px,#35a2f6 143px,#35d9f6 147px,#35d5f6 149px,#358af6 153px,#358cf6 155px,#35d6f6 158px,#42f3e3 159px,#5af6cb 161px,#44f6e1 164px,#35d2f6 167px,#35d0f6 172px,#35d6f6 175px,#35b0f6 178px)"></i><i style="left:332px;top:27px;width:2px;height:179px;background:linear-gradient(#f68a37 0px,#f6db35 9px,#e6f63f 14px,#b7f66e 42px,#9df688 61px,#64f6c1 72px,#3ff0e6 76px,#35d2f6 79px,#35aef6 86px,#3565f6 94px,#356af6 112px,#354cf6 119px,#357cf6 126px,#354ef6 135px,#3586f6 140px,#35b8f6 144px,#39e9ec 147px,#35dff3 149px,#3586f6 153px,#3589f6 155px,#35d8f6 158px,#41f3e4 159px,#57f6ce 161px,#3dede8 165px,#35d4f6 169px,#35e2f1 175px,#35baf6 178px)"></i><i style="left:334px;top:27px;width:2px;height:179px;background:linear-gradient(#f68a37 0px,#f6d935 9px,#e7f63e 14px,#9cf689 61px,#64f6c1 72px,#3eefe6 76px,#35d2f6 79px,#35b3f6 86px,#357ef6 91px,#3565f6 96px,#356bf6 111px,#354ff6 120px,#3578f6 126px,#354df6 133px,#3546f6 135px,#35acf6 143px,#37e6ee 146px,#44f5e1 147px,#38e7ed 149px,#3584f6 153px,#3588f6 155px,#35d4f6 158px,#45f5e0 160px,#4af6da 163px,#35dbf6 168px,#3dede8 175px,#35c6f6 178px)"></i><i style="left:336px;top:27px;width:2px;height:179px;background:linear-gradient(#f68a37 0px,#f6d935 9px,#e9f63c 14px,#9af68a 61px,#6df6b8 71px,#3eefe7 76px,#35d2f6 79px,#35bff6 85px,#3582f6 91px,#3567f6 96px,#3569f6 113px,#354ef6 120px,#3572f6 126px,#355df6 131px,#353df6 134px,#354df6 136px,#3589f6 140px,#35b4f6 143px,#35e2f1 145px,#4df6d8 147px,#3dede8 149px,#35b2f6 151px,#3583f6 153px,#3586f6 155px,#35def4 159px,#42f4e3 162px,#3bebe9 166px,#39e9eb 170px,#45f6e0 175px,#35d3f6 178px)"></i><i style="left:338px;top:27px;width:2px;height:179px;background:linear-gradient(#f68937 0px,#f6d835 9px,#e9f63c 15px,#96f68f 62px,#6af6bb 71px,#3eefe7 76px,#35d3f6 79px,#35bef6 85px,#356ef6 94px,#3565f6 114px,#354df6 120px,#356cf6 127px,#3558f6 131px,#3536f6 134px,#3548f6 136px,#358df6 140px,#35baf6 143px,#39e9eb 145px,#52f6d3 147px,#40f1e5 149px,#35d6f6 150px,#3584f6 153px,#3584f6 155px,#35d0f6 159px,#41f3e4 164px,#3ff0e6 169px,#4df6d8 175px,#3eefe7 177px,#35def4 178px)"></i><i style="left:340px;top:27px;width:2px;height:179px;background:linear-gradient(#f68837 0px,#f6d635 9px,#eaf63b 16px,#95f68f 62px,#66f6bf 71px,#3eefe6 76px,#35cef6 80px,#35bcf6 85px,#356df6 95px,#3566f6 114px,#354df6 120px,#3568f6 128px,#3434f7 134px,#3543f6 136px,#3591f6 140px,#35bef6 143px,#3cece9 145px,#54f6d1 147px,#44f5e1 149px,#35dcf5 150px,#3586f6 153px,#357df6 154px,#35a5f6 157px,#35e1f2 162px,#48f6dc 169px,#57f6ce 174px,#45f6e0 177px,#36e4ef 178px)"></i><i style="left:342px;top:27px;width:2px;height:179px;background:linear-gradient(#f68837 0px,#f6cf35 8px,#eaf63b 17px,#bcf669 43px,#87f69d 65px,#3ff0e6 76px,#35d2f6 80px,#35b1f6 86px,#356ff6 95px,#3565f6 115px,#354cf6 120px,#3566f6 128px,#3131f7 134px,#3540f6 136px,#3585f6 139px,#35aaf6 142px,#35d7f6 144px,#4cf6d9 146px,#54f6d1 148px,#48f6dd 149px,#35e3f0 150px,#3589f6 153px,#357ff6 154px,#35d9f6 162px,#3eeee7 167px,#5ef6c7 171px,#55f6d0 176px,#48f6dd 177px,#36e4ef 178px)"></i><i style="left:344px;top:27px;width:2px;height:179px;background:linear-gradient(#f68737 0px,#f6cd35 8px,#ebf53a 17px,#d7f64e 26px,#8cf699 64px,#3ff0e6 76px,#35d1f6 81px,#3599f6 89px,#3571f6 95px,#3568f6 115px,#354df6 120px,#3564f6 128px,#2f2ff5 134px,#353df6 136px,#3585f6 139px,#35aaf6 142px,#35d7f6 144px,#4df6d8 146px,#57f6ce 148px,#38e7ed 150px,#358cf6 153px,#3582f6 154px,#35d0f6 161px,#35e2f1 166px,#58f6cd 169px,#65f6c0 174px,#48f6dd 177px,#35e0f3 178px)"></i><i style="left:346px;top:27px;width:2px;height:179px;background:linear-gradient(#f68637 0px,#f6d235 9px,#ecf439 17px,#d9f64c 25px,#8cf699 64px,#3ff0e6 76px,#35d0f6 82px,#3574f6 94px,#356df6 112px,#3563f6 116px,#354ef6 120px,#3562f6 128px,#2e2ef3 134px,#353ef6 136px,#3585f6 139px,#35a7f6 142px,#35d5f6 144px,#4cf6d9 146px,#58f6cd 148px,#38e8ec 150px,#358ff6 153px,#3586f6 154px,#35ccf6 161px,#35d2f6 165px,#42f3e3 167px,#68f6bd 171px,#64f6c0 175px,#45f6e0 177px,#35d9f6 178px)"></i><i style="left:348px;top:27px;width:2px;height:179px;background:linear-gradient(#f68637 0px,#f6d635 10px,#ecf439 17px,#daf64b 24px,#8bf69a 64px,#3ff0e6 76px,#35cdf6 83px,#35a2f6 88px,#357bf6 92px,#356af6 111px,#356bf6 115px,#354ff6 120px,#3561f6 128px,#3232f7 133px,#3537f6 135px,#3583f6 139px,#35a2f6 142px,#39e8ec 145px,#54f6d1 147px,#49f6dc 149px,#35e2f1 150px,#3591f6 153px,#3590f6 155px,#35c4f6 160px,#35d2f6 165px,#35e2f1 166px,#44f6e1 167px,#69f6bc 171px,#64f6c0 175px,#42f4e2 177px,#35d3f6 178px)"></i><i style="left:350px;top:27px;width:2px;height:179px;background:linear-gradient(#f68637 0px,#f6d435 10px,#ecf439 17px,#dbf64a 24px,#88f69d 64px,#3ff0e5 76px,#35d0f6 83px,#35b0f6 87px,#357ff6 91px,#3567f6 110px,#356ff6 114px,#354ff6 120px,#3560f6 128px,#3434f6 133px,#3544f6 135px,#3580f6 139px,#359cf6 142px,#35e1f2 145px,#45f5e0 146px,#4ef6d7 148px,#41f3e4 149px,#35d9f6 150px,#3592f6 153px,#3593f6 155px,#35bdf6 160px,#35c6f6 164px,#36e5ee 166px,#47f6de 167px,#6af6bb 172px,#57f6cd 176px,#41f3e4 177px,#35d2f6 178px)"></i><i style="left:352px;top:27px;width:2px;height:179px;background:linear-gradient(#f68637 0px,#f6d635 11px,#ecf438 17px,#ccf659 32px,#8bf69a 63px,#40f1e5 76px,#35d4f6 83px,#35c0f6 86px,#3584f6 90px,#3564f6 108px,#356ef6 114px,#3550f6 120px,#355ff6 128px,#353cf6 133px,#3576f6 138px,#3584f6 141px,#35d3f6 145px,#41f3e3 147px,#44f4e1 148px,#35b8f6 151px,#3592f6 153px,#35a5f6 157px,#35b5f6 161px,#35c6f6 164px,#39e8ec 166px,#52f6d3 168px,#68f6bc 173px,#55f6d0 176px,#3eefe7 177px,#35cff6 178px)"></i><i style="left:354px;top:27px;width:2px;height:179px;background:linear-gradient(#f68537 0px,#f6cf35 10px,#edf338 17px,#b8f66d 45px,#88f69d 63px,#3ff0e6 76px,#35d7f6 83px,#35c2f6 86px,#3584f6 90px,#3563f6 108px,#356cf6 114px,#3550f6 120px,#355df6 129px,#3548f6 133px,#3573f6 138px,#357cf6 141px,#35dbf5 146px,#39e8ec 148px,#3594f6 153px,#35b9f6 163px,#35daf6 165px,#47f6de 167px,#65f6c0 173px,#4ff6d6 176px,#38e7ed 177px,#35c9f6 178px)"></i><i style="left:356px;top:27px;width:2px;height:179px;background:linear-gradient(#f68537 0px,#f6d135 11px,#eef237 17px,#baf66b 44px,#8df698 62px,#3eefe7 76px,#35d8f6 83px,#35c2f6 86px,#3586f6 90px,#356ff6 99px,#3561f6 108px,#356bf6 114px,#3551f6 120px,#355cf6 130px,#3552f6 133px,#356ef6 138px,#3575f6 141px,#35d8f6 147px,#35d4f6 149px,#3596f6 153px,#35abf6 162px,#35d9f6 165px,#43f5e2 167px,#5df6c7 173px,#47f6de 176px,#35def4 177px,#35c2f6 178px)"></i><i style="left:358px;top:27px;width:2px;height:179px;background:linear-gradient(#f68537 0px,#f6ce35 11px,#eef136 17px,#bbf66a 43px,#91f694 61px,#6ef6b7 68px,#3dede8 76px,#35d5f6 84px,#3587f6 90px,#356ef6 99px,#355bf6 107px,#356ef6 113px,#3552f6 120px,#3561f6 130px,#355df6 134px,#356df6 141px,#35aaf6 145px,#35d3f6 147px,#35d3f6 149px,#3596f6 153px,#359bf6 160px,#35b7f6 163px,#3cece9 167px,#54f6d1 173px,#3ff0e5 176px,#35d7f6 177px,#35bdf6 178px)"></i><i style="left:360px;top:27px;width:2px;height:179px;background:linear-gradient(#f68537 0px,#f6cc35 11px,#f0f035 17px,#bcf668 43px,#9af68a 59px,#6ef6b7 68px,#3dede8 76px,#35c9f6 85px,#3587f6 90px,#356df6 99px,#3555f6 106px,#356ff6 113px,#3555f6 120px,#3567f6 130px,#3560f6 140px,#357df6 143px,#35d3f6 147px,#35d4f6 149px,#358df6 154px,#359ef6 161px,#39e8ec 168px,#48f6dd 174px,#3ae9eb 176px,#35bcf6 178px)"></i><i style="left:362px;top:27px;width:2px;height:179px;background:linear-gradient(#f68437 0px,#f6cb35 11px,#ecf439 18px,#bef667 43px,#9af68a 59px,#70f6b5 67px,#3deee7 76px,#35c7f6 85px,#3580f6 91px,#3573f6 98px,#3552f6 106px,#3571f6 113px,#3559f6 121px,#356df6 130px,#3559f6 140px,#3578f6 143px,#35d7f6 147px,#35d6f6 149px,#358bf6 154px,#35acf6 162px,#35e2f1 170px,#43f5e2 174px,#35d5f6 177px,#35c2f6 178px)"></i><i style="left:364px;top:27px;width:2px;height:179px;background:linear-gradient(#f68437 0px,#f6ce35 12px,#e9f63c 20px,#c0f665 42px,#b6f66e 48px,#9bf68a 59px,#71f6b4 67px,#3deee8 77px,#35c5f6 85px,#357cf6 91px,#3572f6 98px,#3551f6 105px,#3574f6 113px,#355cf6 121px,#356df6 128px,#356bf6 132px,#3551f6 140px,#3561f6 142px,#35ddf5 147px,#35d9f6 149px,#3594f6 153px,#359df6 158px,#35cff6 169px,#3ff0e6 174px,#35cbf6 178px)"></i><i style="left:366px;top:27px;width:2px;height:179px;background:linear-gradient(#f68437 0px,#f6dd35 15px,#e9f63c 21px,#caf65a 34px,#bcf669 47px,#96f68f 60px,#6ff6b6 68px,#3cede8 78px,#35c3f6 85px,#3579f6 91px,#3571f6 98px,#3556f6 104px,#3575f6 114px,#3561f6 121px,#356bf6 127px,#3574f6 131px,#3547f6 140px,#355df6 142px,#35d1f6 146px,#35e0f3 148px,#359af6 153px,#35b4f6 162px,#35b4f6 166px,#3bece9 173px,#35d6f6 178px)"></i><i style="left:368px;top:27px;width:2px;height:179px;background:linear-gradient(#f68537 0px,#eff136 19px,#d0f655 33px,#c6f65f 43px,#96f68e 60px,#70f6b5 68px,#3cede9 79px,#35bff6 85px,#3576f6 91px,#3570f6 98px,#355cf6 104px,#3576f6 114px,#3563f6 124px,#3579f6 131px,#3550f6 138px,#353df6 140px,#355bf6 142px,#35d1f6 146px,#35ddf5 148px,#35a7f6 153px,#35bbf6 157px,#35aff6 163px,#35aaf6 166px,#35c1f6 169px,#3ae9eb 173px,#35ddf5 178px)"></i><i style="left:370px;top:27px;width:2px;height:179px;background:linear-gradient(#f68737 0px,#eef237 21px,#c5f660 40px,#c2f663 46px,#8cf699 62px,#72f6b3 68px,#3deee7 79px,#35bbf6 85px,#3573f6 91px,#356ff6 98px,#355ff6 103px,#3572f6 116px,#3569f6 126px,#357ff6 130px,#3565f6 136px,#2f2ff0 139px,#2b2bec 140px,#3436f7 141px,#35b7f6 145px,#35d7f6 147px,#35b7f6 153px,#35c7f6 156px,#35abf6 163px,#3598f6 165px,#35aef6 168px,#35ddf5 171px,#35e3f0 175px,#35def5 178px)"></i><i style="left:372px;top:27px;width:2px;height:179px;background:linear-gradient(#f68937 0px,#eff136 22px,#c7f65e 39px,#c1f664 46px,#8df698 62px,#74f6b1 68px,#58f6cd 73px,#3eeee7 79px,#35c3f6 84px,#3572f6 91px,#3567f6 99px,#3567f6 104px,#3571f6 118px,#356bf6 126px,#3580f6 130px,#356af6 135px,#3034f1 137px,#1f1fd3 139px,#2121d7 140px,#2f2ff5 141px,#35b6f6 145px,#35d4f6 147px,#35c6f6 153px,#35d7f6 155px,#35a1f6 163px,#3589f6 165px,#3596f6 167px,#35ddf5 171px,#35ddf5 177px,#35dbf6 178px)"></i><i style="left:374px;top:27px;width:2px;height:179px;background:linear-gradient(#f67c37 0px,#f69637 2px,#eef237 23px,#c8f65c 39px,#bff665 46px,#8ef697 62px,#76f6af 67px,#61f6c4 72px,#3eeee7 79px,#35c1f6 84px,#3570f6 91px,#3564f6 103px,#356cf6 112px,#3575f6 120px,#356ff6 126px,#357df6 131px,#3577f6 133px,#3563f6 134px,#323cf7 135px,#2626e2 136px,#1d1dcd 138px,#2525e1 140px,#3537f6 141px,#35b6f6 145px,#35d0f6 147px,#35d2f6 153px,#35d8f6 156px,#357bf6 165px,#358df6 167px,#35cff6 170px,#35e1f1 174px,#35d6f6 178px)"></i><i style="left:376px;top:27px;width:2px;height:179px;background:linear-gradient(#f65638 0px,#f68437 1px,#f6a436 6px,#eef237 24px,#caf65b 38px,#c2f663 45px,#8ff696 62px,#77f6ae 68px,#3eeee7 79px,#35c9f6 83px,#356ff6 91px,#355df6 109px,#3579f6 117px,#3573f6 126px,#357af6 131px,#3574f6 132px,#2f32f1 134px,#1d1dce 136px,#1d1dcf 138px,#3131f4 140px,#357df6 143px,#35c5f6 146px,#35d9f6 155px,#3573f6 165px,#3589f6 167px,#35c6f6 170px,#36e4ef 175px,#35d2f6 178px)"></i><i style="left:378px;top:27px;width:2px;height:179px;background:linear-gradient(#f64d38 0px,#f68337 2px,#f6b236 10px,#eff136 25px,#ccf659 38px,#bef667 46px,#89f69b 63px,#5df6c8 72px,#3eefe7 79px,#35c9f6 83px,#356ef6 91px,#3555f6 104px,#3553f6 108px,#357af6 117px,#3576f6 126px,#3576f6 129px,#355bf6 131px,#2a2aea 133px,#1f1fd3 134px,#1d1dce 137px,#2020d6 138px,#3538f6 140px,#357ff6 143px,#35b0f6 145px,#35c1f6 147px,#35d7f6 154px,#35b6f6 158px,#3572f6 165px,#3588f6 167px,#35c7f6 171px,#38e8ed 175px,#35cef6 178px)"></i><i style="left:380px;top:27px;width:2px;height:179px;background:linear-gradient(#f74838 0px,#f68f37 4px,#eef237 26px,#cdf657 38px,#bbf66a 47px,#8cf698 63px,#3eefe6 79px,#35caf6 83px,#356ff6 91px,#3552f6 103px,#3542f6 106px,#3578f6 117px,#3572f6 127px,#3241f6 129px,#2424dd 131px,#1c1ccb 135px,#2222d9 138px,#2e2ef3 139px,#3564f6 142px,#35a9f6 145px,#35d2f6 153px,#35b9f6 157px,#3579f6 165px,#3597f6 168px,#36e4ef 174px,#36e5ef 176px,#35cbf6 178px)"></i><i style="left:382px;top:27px;width:2px;height:179px;background:linear-gradient(#f74436 0px,#f68e37 5px,#f1ee35 26px,#cff656 38px,#adf678 53px,#88f69d 64px,#48f6dd 77px,#35cbf6 83px,#3577f6 90px,#355df6 101px,#3538f6 105px,#3575f6 117px,#356ef6 126px,#355af6 127px,#3133f3 128px,#2222d9 129px,#1c1ccb 133px,#1d1dce 137px,#2222d9 138px,#2f2ff5 139px,#357ef6 143px,#35adf6 146px,#35ccf6 154px,#359cf6 161px,#3584f6 165px,#35a9f6 170px,#37e6ee 174px,#36e5ef 176px,#35c9f6 178px)"></i><i style="left:384px;top:27px;width:2px;height:179px;background:linear-gradient(#f74235 0px,#f69337 7px,#f6e435 25px,#e5f640 30px,#98f68d 62px,#4af6da 76px,#37e5ee 80px,#359df6 87px,#3575f6 91px,#355cf6 101px,#3537f6 105px,#3572f6 117px,#3569f6 125px,#3559f6 126px,#3134f4 127px,#1d1dcd 129px,#1d1dce 137px,#2222da 138px,#3131f7 139px,#359df6 145px,#35cbf6 153px,#35acf6 159px,#35a9f6 162px,#3590f6 165px,#359ef6 169px,#37e6ee 174px,#36e5ee 176px,#35caf6 178px)"></i><i style="left:386px;top:27px;width:2px;height:179px;background:linear-gradient(#f74035 0px,#f69937 9px,#f6da35 24px,#e8f63d 30px,#93f692 63px,#49f6dc 76px,#35e2f1 80px,#357ef6 90px,#355af6 101px,#3538f6 105px,#3568f6 115px,#356ef6 121px,#355ff6 125px,#3545f6 126px,#2727e5 127px,#1e1ecf 128px,#1f1fd3 137px,#353cf6 139px,#3599f6 145px,#35b9f6 150px,#35c9f6 153px,#35b0f6 157px,#35c1f6 160px,#35b8f6 162px,#359af6 165px,#35a3f6 169px,#37e7ed 174px,#36e5ef 176px,#35caf6 178px)"></i><i style="left:388px;top:27px;width:2px;height:179px;background:linear-gradient(#f73f34 0px,#f69937 10px,#f6cf35 23px,#e7f63e 31px,#94f691 63px,#47f6de 76px,#35ccf6 82px,#3582f6 90px,#3558f6 101px,#353bf6 105px,#356cf6 116px,#355cf6 125px,#2b2bec 127px,#1f1fd2 128px,#1c1ccd 135px,#2020d4 136px,#2c2ced 137px,#3554f6 139px,#356ff6 142px,#359ff6 146px,#35aef6 149px,#35c4f6 152px,#35a7f6 155px,#35b6f6 158px,#35cff6 160px,#35c4f6 162px,#35a0f6 165px,#35aaf6 169px,#38e7ed 174px,#35dbf6 177px,#35caf6 178px)"></i><i style="left:390px;top:27px;width:2px;height:179px;background:linear-gradient(#f43b33 0px,#f69337 10px,#f6cc35 23px,#e9f63c 31px,#acf679 54px,#95f690 63px,#3deee8 77px,#35c0f6 83px,#3586f6 90px,#3555f6 101px,#353ef6 105px,#356ff6 116px,#354ef6 126px,#3232f6 127px,#2222da 128px,#1c1ccb 131px,#2020d6 135px,#2e2eef 136px,#3550f6 137px,#3560f6 138px,#3565f6 141px,#359cf6 146px,#35b0f6 149px,#35c3f6 151px,#35a3f6 154px,#3594f6 155px,#35a4f6 157px,#35d7f6 160px,#35b9f6 163px,#35a2f6 166px,#35b1f6 169px,#38e7ed 174px,#35dbf6 177px,#35caf6 178px)"></i><i style="left:392px;top:27px;width:2px;height:179px;background:linear-gradient(#ed3330 0px,#f65c38 4px,#f69737 13px,#f6cf35 24px,#ecf539 31px,#b1f673 53px,#8ff696 64px,#3ff0e6 76px,#35c2f6 82px,#3588f6 90px,#353ff6 105px,#3576f6 115px,#3554f6 125px,#3541f6 127px,#1e1ed0 130px,#1d1dcf 133px,#3038f3 135px,#355ff6 136px,#3572f6 137px,#3561f6 140px,#35b2f6 149px,#35c1f6 151px,#3583f6 155px,#359ef6 157px,#35dbf6 160px,#35cef6 162px,#35a8f6 165px,#35b8f6 169px,#3cece9 175px,#35c9f6 178px)"></i><i style="left:394px;top:27px;width:2px;height:179px;background:linear-gradient(#e72c2e 0px,#f73f34 1px,#f69237 13px,#f4eb35 30px,#ddf648 37px,#b2f672 53px,#8af69a 65px,#41f2e4 75px,#35ccf6 80px,#3589f6 90px,#3559f6 99px,#353ff6 105px,#357df6 115px,#3558f6 121px,#354ff6 128px,#2e2eed 130px,#2020d6 132px,#2929e9 133px,#3579f6 135px,#3585f6 136px,#3560f6 140px,#35a3f6 148px,#35bdf6 150px,#35bcf6 151px,#3580f6 154px,#3578f6 155px,#359cf6 157px,#35cef6 159px,#35dcf6 161px,#35acf6 165px,#35bef6 169px,#35e3f0 173px,#40f1e5 175px,#35dff3 177px,#35cbf6 178px)"></i><i style="left:396px;top:27px;width:2px;height:179px;background:linear-gradient(#e1272b 0px,#f74838 2px,#f6a136 17px,#eff036 32px,#b3f671 53px,#8cf699 65px,#3deee7 75px,#35cff6 79px,#3559f6 97px,#354af6 102px,#3541f6 106px,#3581f6 114px,#3561f6 118px,#3548f6 125px,#3552f6 128px,#355cf6 130px,#344af6 132px,#358bf6 134px,#3592f6 135px,#3563f6 139px,#3584f6 146px,#35b8f6 150px,#35b3f6 151px,#3579f6 154px,#3577f6 155px,#35dcf6 160px,#35d3f6 162px,#35b1f6 165px,#35d3f6 171px,#44f6e1 175px,#35e2f1 177px,#35ccf6 178px)"></i><i style="left:398px;top:27px;width:2px;height:179px;background:linear-gradient(#da2529 0px,#f74336 2px,#f69837 16px,#f6cf35 27px,#ebf53a 34px,#baf66b 52px,#8cf699 65px,#46f6df 74px,#35d6f6 77px,#3558f6 97px,#354cf6 102px,#3542f6 106px,#3582f6 113px,#3575f6 116px,#354ff6 120px,#3544f6 127px,#3594f6 133px,#3591f6 135px,#3563f6 139px,#3580f6 146px,#35aef6 149px,#35a9f6 151px,#3578f6 154px,#358bf6 156px,#35def5 160px,#35d7f6 162px,#35b9f6 165px,#35d4f6 171px,#47f6de 175px,#35e3f0 177px,#35cdf6 178px)"></i><i style="left:400px;top:27px;width:2px;height:179px;background:linear-gradient(#d22226 0px,#f73f34 2px,#f66f38 9px,#f6ca35 27px,#edf338 34px,#c0f665 51px,#85f6a0 66px,#51f6d4 73px,#37e6ee 75px,#35b5f6 82px,#355bf6 97px,#3554f6 101px,#3540f6 105px,#3584f6 113px,#356ef6 116px,#354df6 119px,#3542f6 127px,#3592f6 133px,#3582f6 136px,#3564f6 139px,#357ff6 146px,#35a9f6 149px,#35a0f6 151px,#357af6 154px,#3590f6 156px,#35e0f2 160px,#35dcf6 162px,#35c6f6 165px,#35d5f6 171px,#44f6e0 174px,#41f2e4 176px,#35cdf6 178px)"></i><i style="left:402px;top:27px;width:2px;height:179px;background:linear-gradient(#c92023 0px,#f33b33 2px,#f66438 7px,#f6b836 25px,#eef237 34px,#bff666 51px,#8cf699 65px,#5ef6c7 72px,#42f3e3 74px,#35d7f6 76px,#355ff6 97px,#3558f6 101px,#3541f6 105px,#3584f6 113px,#354af6 119px,#3545f6 127px,#358cf6 133px,#3568f6 139px,#3580f6 146px,#35a4f6 149px,#357af6 154px,#3591f6 156px,#35e1f2 160px,#35e0f2 162px,#35d2f6 166px,#35d5f6 171px,#43f5e2 175px,#35cbf6 178px)"></i><i style="left:404px;top:27px;width:2px;height:179px;background:linear-gradient(#c51f22 0px,#f74436 3px,#f67d37 14px,#f6ad36 24px,#eff036 34px,#b7f66e 53px,#8cf699 65px,#5df6c8 72px,#41f2e4 74px,#35d5f6 76px,#3563f6 96px,#355bf6 101px,#3543f6 105px,#3582f6 112px,#356af6 115px,#354bf6 118px,#354af6 127px,#3579f6 132px,#3586f6 134px,#356ef6 139px,#3582f6 146px,#35a0f6 149px,#3574f6 154px,#358bf6 156px,#35dff3 160px,#35e2f1 162px,#35cff6 170px,#3ff0e6 175px,#35c7f6 178px)"></i><i style="left:406px;top:27px;width:2px;height:179px;background:linear-gradient(#d32327 0px,#d12226 1px,#f63f34 3px,#f66538 9px,#f6a236 23px,#f2ed35 34px,#d8f64d 44px,#8cf699 65px,#5df6c8 72px,#41f2e4 74px,#35d5f6 76px,#3567f6 96px,#355ef6 101px,#3547f6 105px,#3582f6 112px,#354af6 118px,#3555f6 129px,#3581f6 134px,#3578f6 140px,#3583f6 146px,#359cf6 149px,#356df6 154px,#3587f6 156px,#35d9f6 160px,#35e3f0 166px,#35d0f6 170px,#3beaea 175px,#35c3f6 178px)"></i><i style="left:408px;top:27px;width:2px;height:179px;background:linear-gradient(#d12226 0px,#d12226 1px,#f33a33 3px,#f65e38 8px,#f69d37 23px,#f1ee35 35px,#93f692 64px,#5cf6c9 72px,#42f3e3 74px,#35cef6 77px,#356bf6 96px,#3560f6 101px,#354cf6 105px,#3581f6 112px,#354bf6 118px,#355bf6 130px,#3581f6 134px,#3580f6 141px,#3584f6 146px,#359bf6 149px,#356bf6 154px,#3586f6 156px,#35c3f6 159px,#35d7f6 162px,#35def5 167px,#35d5f6 171px,#36e5ef 175px,#35c0f6 178px)"></i><i style="left:410px;top:27px;width:2px;height:179px;background:linear-gradient(#d02225 0px,#e0272b 2px,#f74536 4px,#f69837 23px,#edf338 37px,#8ef697 65px,#5bf6ca 72px,#43f5e2 74px,#35d1f6 77px,#3593f6 88px,#356ef6 97px,#355af6 102px,#3554f6 106px,#3581f6 112px,#354cf6 118px,#355af6 127px,#355df6 130px,#358af6 135px,#3585f6 141px,#3584f6 146px,#359df6 149px,#356cf6 154px,#35c2f6 160px,#35dbf6 167px,#35d9f6 172px,#35e0f3 175px,#35bff6 178px)"></i><i style="left:412px;top:27px;width:2px;height:179px;background:linear-gradient(#d42327 0px,#f64b38 5px,#f69b37 24px,#f1ee35 37px,#89f69b 66px,#44f6e1 74px,#35d4f6 77px,#359ff6 87px,#3579f6 93px,#3563f6 101px,#3557f6 106px,#3580f6 112px,#354cf6 119px,#3561f6 126px,#3562f6 130px,#358ff6 135px,#3589f6 141px,#3583f6 146px,#35a1f6 149px,#3582f6 152px,#3570f6 154px,#35b0f6 159px,#35caf6 165px,#35d9f6 168px,#35d6f6 176px,#35c0f6 178px)"></i><i style="left:414px;top:27px;width:2px;height:179px;background:linear-gradient(#d62428 0px,#ec3230 2px,#f66838 13px,#f6a236 26px,#eff136 38px,#b5f670 54px,#8af69a 66px,#45f6df 74px,#35d8f6 77px,#35a1f6 87px,#357bf6 93px,#3565f6 101px,#3557f6 106px,#357ef6 112px,#354df6 119px,#3561f6 127px,#356ef6 131px,#3592f6 136px,#358ef6 141px,#3583f6 146px,#35a8f6 149px,#3596f6 151px,#3577f6 154px,#35a2f6 159px,#35a3f6 162px,#35d8f6 168px,#35d6f6 176px,#35c1f6 178px)"></i><i style="left:416px;top:27px;width:2px;height:179px;background:linear-gradient(#d62428 0px,#ef3631 2px,#f6a036 27px,#f2ed35 38px,#c6f65f 48px,#8bf69a 66px,#3fefe6 75px,#35d0f6 79px,#35a2f6 87px,#357ef6 93px,#3566f6 101px,#3555f6 106px,#357af6 112px,#354ff6 119px,#3571f6 131px,#3591f6 136px,#358cf6 143px,#3586f6 146px,#35b0f6 149px,#359ef6 151px,#357ef6 154px,#3592f6 159px,#358ef6 162px,#35d4f6 167px,#35d8f6 176px,#35c2f6 178px)"></i><i style="left:418px;top:27px;width:2px;height:179px;background:linear-gradient(#d62427 0px,#f03731 2px,#f74235 6px,#f6a736 30px,#eef237 39px,#cbf65a 46px,#8af69b 66px,#41f3e3 75px,#35d4f6 79px,#35a2f6 87px,#357df6 94px,#3566f6 101px,#3552f6 106px,#3576f6 112px,#3550f6 119px,#357af6 132px,#3598f6 141px,#358cf6 146px,#35b6f6 149px,#3586f6 153px,#358cf6 158px,#3579f6 160px,#357bf6 162px,#35d5f6 167px,#35e2f1 175px,#35c3f6 178px)"></i><i style="left:420px;top:27px;width:2px;height:179px;background:linear-gradient(#d52327 0px,#f03732 2px,#f43b33 6px,#f66638 15px,#f68337 23px,#f6b436 32px,#eff036 39px,#cbf65a 45px,#acf679 57px,#82f6a2 67px,#44f6e1 75px,#35d3f6 80px,#3584f6 92px,#3565f6 101px,#354cf6 105px,#3571f6 112px,#3552f6 119px,#3596f6 139px,#359df6 142px,#3590f6 145px,#35b9f6 149px,#358bf6 153px,#358bf6 157px,#3569f6 160px,#356df6 162px,#35d8f6 167px,#35e4ef 175px,#35c1f6 178px)"></i><i style="left:422px;top:27px;width:2px;height:179px;background:linear-gradient(#d42327 0px,#f03731 2px,#ee3531 6px,#f65838 12px,#f67a37 22px,#f6ca35 35px,#eef237 39px,#c9f65c 45px,#acf679 57px,#83f6a2 67px,#3ff0e6 76px,#35cff6 81px,#3585f6 92px,#3569f6 100px,#354cf6 105px,#356df6 112px,#3555f6 120px,#3593f6 138px,#35a4f6 141px,#359bf6 145px,#35baf6 149px,#3590f6 153px,#3593f6 156px,#355df6 160px,#3563f6 162px,#35dcf6 167px,#35e2f1 175px,#35bdf6 178px)"></i><i style="left:424px;top:27px;width:2px;height:179px;background:linear-gradient(#d32327 0px,#f03631 2px,#f33a33 7px,#f66838 18px,#f6bc36 33px,#f6e835 38px,#e0f645 40px,#c8f65d 46px,#adf678 57px,#82f6a3 67px,#40f1e5 76px,#35d0f6 81px,#3584f6 92px,#3567f6 100px,#354ff6 105px,#356af6 113px,#3556f6 120px,#3584f6 132px,#3587f6 136px,#35acf6 141px,#35acf6 146px,#35bef6 148px,#3597f6 153px,#359ef6 155px,#3556f6 160px,#355ef6 162px,#35def4 167px,#35dff3 175px,#35b7f6 178px)"></i><i style="left:426px;top:27px;width:2px;height:179px;background:linear-gradient(#d12226 0px,#ef3531 2px,#f74035 8px,#f68137 23px,#f6d335 36px,#e9f63c 39px,#c8f65d 44px,#aef677 57px,#81f6a4 67px,#3ff0e6 76px,#35caf6 82px,#3584f6 92px,#3573f6 98px,#3555f6 105px,#3565f6 114px,#3559f6 121px,#3562f6 126px,#354ff6 128px,#3583f6 131px,#3589f6 136px,#35b6f6 141px,#35b8f6 146px,#35c1f6 149px,#359ff6 153px,#3596f6 156px,#3554f6 160px,#355df6 162px,#35ddf5 167px,#35dcf6 175px,#35b1f6 178px)"></i><i style="left:428px;top:27px;width:2px;height:179px;background:linear-gradient(#cf2225 0px,#ee3430 2px,#f74536 10px,#f66838 18px,#f6c336 34px,#f3ec35 38px,#d4f651 41px,#a1f684 61px,#3eefe6 76px,#35c2f6 83px,#3585f6 91px,#3571f6 98px,#3559f6 104px,#355ff6 115px,#3559f6 121px,#355ef6 125px,#3540f6 126px,#2828e7 127px,#2222d8 128px,#2626e2 129px,#333af7 130px,#356ff6 131px,#3582f6 132px,#358bf6 136px,#35bef6 140px,#35c3f6 146px,#35caf6 149px,#35a3f6 154px,#3582f6 157px,#3554f6 160px,#355ef6 162px,#35dbf6 167px,#35d8f6 175px,#35a9f6 178px)"></i><i style="left:430px;top:27px;width:2px;height:179px;background:linear-gradient(#cd2124 0px,#ed3330 2px,#f74235 10px,#f66838 18px,#f6c336 34px,#f1ee35 38px,#caf65b 43px,#b1f674 57px,#7bf6aa 67px,#3eefe7 76px,#35c3f6 83px,#3584f6 91px,#356ef6 98px,#355df6 103px,#355ef6 114px,#3557f6 120px,#3562f6 124px,#3551f6 125px,#2d2df0 126px,#1f1fd3 127px,#1e1ed0 129px,#2929e9 130px,#3579f6 132px,#358df6 136px,#35c7f6 140px,#35ccf6 146px,#35d5f6 149px,#3581f6 157px,#3556f6 160px,#3560f6 162px,#35d9f6 167px,#35d2f6 173px,#35c9f6 176px,#35a0f6 178px)"></i><i style="left:432px;top:27px;width:2px;height:179px;background:linear-gradient(#ca2023 0px,#ec3230 2px,#f74035 10px,#f66638 17px,#f6a936 30px,#f6e235 37px,#dbf64a 40px,#cbf65a 46px,#a8f67d 59px,#3eefe7 76px,#35c9f6 82px,#3582f6 91px,#356af6 98px,#355df6 102px,#355ef6 113px,#3552f6 118px,#3560f6 124px,#354ff6 125px,#2b2bec 126px,#1e1ed1 127px,#1d1dce 129px,#2323dc 130px,#353bf6 131px,#356ef6 132px,#357ff6 134px,#359ef6 137px,#35cdf6 140px,#35d4f6 146px,#35e0f3 149px,#3570f6 158px,#3555f6 161px,#3576f6 163px,#35c8f6 166px,#35daf6 168px,#35c8f6 172px,#35c7f6 175px,#35a9f6 177px,#3597f6 178px)"></i><i style="left:434px;top:27px;width:2px;height:179px;background:linear-gradient(#c71f22 0px,#ea302f 2px,#ed3330 6px,#f74737 11px,#f66838 18px,#f6bd36 33px,#eff035 38px,#cef657 43px,#b1f674 57px,#3ff0e6 76px,#35cff6 81px,#3581f6 91px,#3566f6 98px,#355ef6 102px,#3561f6 110px,#354df6 117px,#3560f6 124px,#3550f6 125px,#2c2cee 126px,#1f1fd2 127px,#1d1dcd 129px,#2222d9 130px,#3535f6 131px,#3569f6 132px,#357ff6 134px,#35a2f6 137px,#35cff6 140px,#35dbf6 146px,#38e8ed 149px,#359ff6 154px,#3571f6 158px,#3557f6 161px,#3579f6 163px,#35c8f6 166px,#35d7f6 168px,#35c1f6 172px,#35b2f6 176px,#358ef6 178px)"></i><i style="left:436px;top:27px;width:2px;height:179px;background:linear-gradient(#c51f22 0px,#e82e2e 2px,#ea302f 6px,#f74737 11px,#f66838 18px,#f6b536 32px,#eff035 38px,#d2f653 43px,#aff675 57px,#40f1e5 76px,#35cff6 81px,#3581f6 91px,#355bf6 101px,#3565f6 107px,#3557f6 113px,#354df6 117px,#3562f6 124px,#355bf6 125px,#343af7 126px,#1e1ed0 128px,#1d1dcf 129px,#2424df 130px,#3542f6 131px,#356ef6 132px,#35a4f6 137px,#35cff6 140px,#38e7ed 147px,#39e9eb 149px,#359df6 154px,#3583f6 157px,#3559f6 160px,#3567f6 162px,#35c9f6 166px,#35d6f6 168px,#35a3f6 176px,#3586f6 178px)"></i><i style="left:438px;top:27px;width:2px;height:179px;background:linear-gradient(#c21e21 0px,#e52b2d 2px,#ea302f 8px,#f65638 13px,#f6ad36 31px,#eff036 38px,#d5f64f 43px,#a8f67c 58px,#40f1e5 76px,#35cef6 81px,#357ef6 92px,#355af6 100px,#3565f6 108px,#3550f6 117px,#3565f6 125px,#3558f6 126px,#3237f7 127px,#2424dd 128px,#1f1fd3 129px,#2929e9 130px,#3574f6 132px,#3595f6 136px,#35cdf6 140px,#39e8ec 148px,#35a1f6 153px,#3594f6 156px,#355cf6 160px,#356cf6 162px,#35caf6 166px,#35d6f6 168px,#3580f6 178px)"></i><i style="left:440px;top:27px;width:2px;height:179px;background:linear-gradient(#be1d1f 0px,#e2272c 2px,#e92f2f 8px,#f65038 12px,#f6a736 30px,#eef136 38px,#d8f64d 43px,#a7f67e 58px,#3ff0e5 76px,#35d0f6 81px,#357ef6 92px,#355df6 100px,#3567f6 110px,#3555f6 117px,#355ef6 123px,#3566f6 126px,#323bf6 128px,#2e32ee 129px,#333ff7 130px,#3564f6 131px,#357df6 133px,#35a6f6 137px,#35d0f6 141px,#35dbf5 148px,#35a0f6 152px,#3596f6 156px,#3567f6 159px,#3564f6 161px,#35a5f6 164px,#35d0f6 166px,#35d8f6 168px,#3593f6 175px,#357cf6 178px)"></i><i style="left:442px;top:27px;width:2px;height:179px;background:linear-gradient(#ba1c1e 0px,#df262b 2px,#e92f2f 8px,#f65138 12px,#f6a836 30px,#f6e835 37px,#dcf649 41px,#a6f67e 58px,#3eefe7 76px,#35d3f6 81px,#357cf6 92px,#3560f6 100px,#3568f6 110px,#3554f6 121px,#3565f6 127px,#3565f6 130px,#3598f6 136px,#35c8f6 140px,#35caf6 144px,#35c1f6 147px,#35c6f6 148px,#3592f6 152px,#3594f6 156px,#356bf6 159px,#356bf6 161px,#35adf6 164px,#35d6f6 166px,#35daf6 168px,#3594f6 174px,#357af6 178px)"></i><i style="left:444px;top:27px;width:2px;height:179px;background:linear-gradient(#b71b1d 0px,#dd262a 2px,#eb312f 8px,#f65838 13px,#f6a336 29px,#f5ea35 37px,#def647 41px,#97f68e 62px,#45f6e0 75px,#35dcf6 79px,#35c1f6 84px,#357ef6 91px,#3563f6 100px,#3569f6 109px,#355ef6 117px,#3554f6 121px,#3563f6 127px,#3568f6 131px,#35cbf6 141px,#35baf6 144px,#35acf6 145px,#35adf6 148px,#358af6 151px,#358bf6 156px,#356df6 159px,#3572f6 161px,#35b6f6 164px,#35dcf6 166px,#35dbf6 168px,#3592f6 174px,#3578f6 178px)"></i><i style="left:446px;top:27px;width:2px;height:179px;background:linear-gradient(#b51b1c 0px,#dd262a 2px,#ee3430 8px,#f65c38 14px,#f6a536 29px,#f3ec35 37px,#dff646 41px,#8bf69a 64px,#45f6e0 75px,#35dff4 79px,#35c1f6 84px,#3579f6 91px,#3567f6 101px,#356cf6 108px,#3567f6 116px,#3555f6 120px,#3560f6 127px,#3563f6 131px,#35c7f6 140px,#35baf6 143px,#3597f6 145px,#3593f6 148px,#356cf6 151px,#356cf6 152px,#3581f6 154px,#3571f6 160px,#3589f6 162px,#35d4f6 165px,#35e1f2 167px,#358df6 175px,#3578f6 178px)"></i><i style="left:448px;top:27px;width:2px;height:179px;background:linear-gradient(#b41a1c 0px,#dd262a 2px,#f23932 8px,#f65c38 14px,#f6a636 29px,#f2ed35 37px,#c0f665 50px,#93f692 63px,#4ef6d6 74px,#35e1f2 78px,#35cbf6 83px,#3575f6 91px,#3569f6 101px,#3571f6 107px,#356af6 112px,#3569f6 116px,#355af6 120px,#355ef6 127px,#355af6 130px,#35c6f6 140px,#35bbf6 142px,#357ef6 145px,#2d32ec 150px,#3030f2 151px,#356bf6 153px,#356ff6 159px,#358df6 162px,#35d2f6 165px,#35dcf6 168px,#35bff6 171px,#358ef6 175px,#357af6 178px)"></i><i style="left:450px;top:27px;width:2px;height:179px;background:linear-gradient(#b41a1c 0px,#df262b 2px,#f53c33 8px,#f68737 23px,#f6a836 29px,#f0ef35 37px,#a5f67f 58px,#65f6c0 72px,#44f6e0 75px,#35ddf5 79px,#35b3f6 85px,#3573f6 91px,#356af6 98px,#3573f6 107px,#356df6 112px,#356bf6 116px,#3560f6 121px,#355df6 130px,#35bef6 139px,#35bcf6 141px,#303ef2 145px,#2020d6 148px,#2121d7 150px,#3131f4 151px,#3554f6 152px,#3563f6 153px,#3558f6 155px,#357ff6 161px,#35cbf6 165px,#35dff3 168px,#35dcf5 170px,#3596f6 174px,#357ff6 178px)"></i><i style="left:452px;top:27px;width:2px;height:179px;background:linear-gradient(#b51a1c 0px,#e0272b 2px,#f73f34 8px,#f6a336 28px,#eef136 37px,#a4f681 57px,#9bf68a 62px,#67f6be 72px,#44f6e1 75px,#35d8f6 79px,#35b2f6 85px,#3577f6 90px,#3570f6 97px,#356af6 101px,#3579f6 106px,#356ff6 112px,#3568f6 117px,#3562f6 130px,#35b0f6 137px,#35b0f6 139px,#359cf6 140px,#3143f3 142px,#2929e7 143px,#1c1ccc 146px,#1d1dcf 149px,#2727e4 150px,#3543f6 151px,#355af6 152px,#354df6 155px,#3594f6 162px,#35ddf5 167px,#37e6ee 170px,#3599f6 174px,#3586f6 178px)"></i><i style="left:454px;top:27px;width:2px;height:179px;background:linear-gradient(#b51b1c 0px,#e1272c 2px,#f74837 9px,#f6a636 28px,#edf237 37px,#a3f682 57px,#9df688 62px,#80f6a5 68px,#67f6be 72px,#42f4e2 75px,#35d8f6 78px,#35b2f6 85px,#357bf6 90px,#3578f6 96px,#3567f6 100px,#357df6 106px,#3572f6 112px,#3563f6 129px,#3587f6 133px,#35a6f6 136px,#359ff6 137px,#3586f6 138px,#2d35ec 140px,#1e1ed0 142px,#1d1dcd 148px,#2121d7 149px,#3232f5 150px,#3556f6 151px,#3554f6 153px,#3549f6 155px,#358df6 160px,#35ddf5 167px,#3eefe6 169px,#35d8f6 171px,#3598f6 174px,#358df6 178px)"></i><i style="left:456px;top:27px;width:2px;height:179px;background:linear-gradient(#b41a1c 0px,#e0272b 2px,#f74737 9px,#f6aa36 28px,#edf338 37px,#a3f682 57px,#9ef687 62px,#83f6a2 67px,#72f6b3 71px,#41f3e4 75px,#35d4f6 78px,#35b5f6 85px,#3580f6 90px,#357bf6 96px,#3569f6 100px,#3584f6 105px,#3574f6 112px,#3564f6 124px,#3572f6 131px,#3598f6 135px,#358ff6 136px,#2e2eee 138px,#1d1dce 140px,#1d1dcf 148px,#2727e4 149px,#3543f6 150px,#355df6 151px,#3545f6 155px,#3573f6 158px,#359ff6 160px,#35bff6 165px,#3bebea 168px,#36e3f0 170px,#3593f6 174px,#358ff6 177px,#3595f6 178px)"></i><i style="left:458px;top:27px;width:2px;height:179px;background:linear-gradient(#b21a1b 0px,#df262b 2px,#f74637 9px,#f6ae36 28px,#eef237 37px,#c1f664 48px,#a3f682 57px,#9ff686 62px,#83f6a2 67px,#70f6b5 71px,#41f2e4 75px,#35d1f6 78px,#35b9f6 85px,#3585f6 90px,#357ef6 96px,#356ff6 100px,#3589f6 105px,#3575f6 112px,#3561f6 123px,#357af6 132px,#358bf6 134px,#3586f6 135px,#3563f6 136px,#2e2ef0 137px,#2020d4 138px,#1d1dcd 147px,#2020d6 148px,#3131f4 149px,#3557f6 150px,#3563f6 151px,#3544f6 155px,#3567f6 157px,#35b0f6 160px,#35baf6 164px,#38e7ed 168px,#35d7f6 170px,#358df6 174px,#3589f6 176px,#359cf6 178px)"></i><i style="left:460px;top:27px;width:2px;height:179px;background:linear-gradient(#ae191a 0px,#dd262a 2px,#f74637 9px,#f6b036 28px,#eef137 37px,#c1f664 47px,#a3f682 57px,#a5f680 61px,#81f6a4 67px,#63f6c2 72px,#41f2e4 75px,#35d2f6 78px,#35bef6 85px,#358af6 90px,#3580f6 96px,#3572f6 99px,#358cf6 105px,#3575f6 112px,#355df6 122px,#357df6 134px,#3562f6 135px,#3031f2 136px,#2020d6 137px,#1c1ccb 144px,#1d1dcf 147px,#2626e2 148px,#3544f6 149px,#3567f6 150px,#3562f6 152px,#3546f6 154px,#3553f6 156px,#35aaf6 159px,#35bdf6 160px,#35c0f6 164px,#35dff3 168px,#3589f6 174px,#358af6 176px,#35a2f6 178px)"></i><i style="left:462px;top:27px;width:2px;height:179px;background:linear-gradient(#ab1819 0px,#db2529 2px,#f74838 9px,#f6b136 28px,#eff136 37px,#c0f664 47px,#a3f682 57px,#a2f682 61px,#7ef6a7 67px,#61f6c4 72px,#41f3e4 75px,#35d5f6 78px,#35c2f6 85px,#358df6 90px,#357af6 99px,#358df6 105px,#3574f6 112px,#355af6 121px,#3572f6 131px,#3575f6 133px,#3562f6 134px,#3236f5 135px,#2222da 136px,#1c1ccb 139px,#1d1dcd 146px,#2121d6 147px,#3232f5 148px,#355ef6 149px,#3576f6 150px,#3569f6 152px,#354af6 154px,#355af6 156px,#35b5f6 159px,#35c6f6 160px,#35cef6 165px,#35d6f6 168px,#358bf6 174px,#3590f6 176px,#35abf6 178px)"></i><i style="left:464px;top:27px;width:2px;height:179px;background:linear-gradient(#a81719 0px,#d92529 2px,#f74135 8px,#f69737 24px,#eff136 37px,#c0f665 47px,#a2f683 57px,#98f68d 62px,#7cf6a9 67px,#5ff6c5 72px,#38e8ec 76px,#35d7f6 80px,#35c6f6 85px,#358ff6 90px,#3581f6 99px,#358cf6 105px,#3572f6 112px,#355bf6 121px,#3573f6 131px,#3563f6 133px,#343bf7 134px,#2424de 135px,#1c1ccc 137px,#1e1ed0 146px,#2727e5 147px,#3549f6 148px,#3571f6 149px,#3582f6 150px,#3572f6 152px,#3554f6 154px,#3567f6 156px,#35bff6 159px,#35cef6 161px,#35d0f6 168px,#3594f6 174px,#359cf6 176px,#35b6f6 178px)"></i><i style="left:466px;top:27px;width:2px;height:179px;background:linear-gradient(#a61718 0px,#da2529 2px,#f43c33 7px,#f69637 24px,#eef137 37px,#bff666 47px,#a2f683 58px,#68f6bd 71px,#3ff0e5 75px,#35dcf6 79px,#35c9f6 85px,#3591f6 90px,#3585f6 99px,#3588f6 106px,#3571f6 111px,#355ff6 121px,#3576f6 130px,#3564f6 132px,#3540f6 133px,#2626e3 134px,#1c1ccc 136px,#1d1dce 145px,#2222da 146px,#3337f7 147px,#3563f6 148px,#358cf6 150px,#3565f6 154px,#357bf6 156px,#35c9f6 159px,#35d6f6 161px,#35d0f6 168px,#35a1f6 174px,#35c0f6 178px)"></i><i style="left:468px;top:27px;width:2px;height:179px;background:linear-gradient(#a71718 0px,#db2529 2px,#f73f34 7px,#f6ab36 27px,#edf237 37px,#c0f665 46px,#8df698 63px,#67f6be 71px,#3fefe6 75px,#35d3f6 84px,#358ef6 91px,#3585f6 99px,#3586f6 106px,#3570f6 111px,#3566f6 122px,#3573f6 128px,#3575f6 130px,#356af6 131px,#2a2aea 133px,#1e1ed2 134px,#1f1fd3 145px,#2b2bee 146px,#3575f6 148px,#3596f6 150px,#357cf6 154px,#3592f6 156px,#35d2f6 159px,#35def4 162px,#35d3f6 168px,#35acf6 173px,#35c5f6 178px)"></i><i style="left:470px;top:27px;width:1px;height:179px;background:linear-gradient(#a81719 0px,#dd262a 2px,#f43c33 6px,#f6a336 26px,#edf338 37px,#bff665 46px,#87f69e 64px,#66f6bf 71px,#3eefe6 75px,#35cdf6 85px,#3591f6 90px,#3584f6 100px,#3585f6 106px,#3570f6 111px,#3568f6 126px,#3572f6 130px,#3561f6 131px,#3537f6 132px,#1d1dcf 134px,#1d1dce 144px,#2222db 145px,#3535f6 146px,#3564f6 147px,#359ff6 150px,#358ef6 154px,#35a3f6 156px,#35e4ef 160px,#35d6f6 168px,#35b3f6 173px,#35c5f6 178px)"></i><i style="left:44px;top:296px;width:1px;height:202px;background:linear-gradient(#4ab2c3 0px,#268cea 32px,#2063f1 54px,#2036f1 71px,#2027f1 147px,#1616da 151px,#1a1ae7 170px,#202ef1 174px,#202bf1 201px)"></i><i style="left:45px;top:296px;width:1px;height:202px;background:linear-gradient(#d8c734 0px,#adef5e 13px,#4ae3c2 54px,#209bf1 64px,#207ff1 69px,#208ff1 86px,#2069f1 107px,#2050f1 147px,#1a1ae7 149px,#1717db 168px,#1a1ae7 169px,#205ef1 171px,#2055f1 201px)"></i><i style="left:46px;top:296px;width:1px;height:202px;background:linear-gradient(#d24b22 0px,#e79522 11px,#e8d226 19px,#bcf14f 48px,#8af180 57px,#31dddc 67px,#39e7d3 87px,#27cce7 110px,#22c0ec 122px,#209ff1 146px,#208cf1 148px,#1f43f1 149px,#1a1ae6 150px,#1717db 167px,#1b1be7 168px,#2055f1 169px,#24b3ec 170px,#25beea 173px,#21abef 190px,#209ff1 201px)"></i><i style="left:47px;top:296px;width:1px;height:202px;background:linear-gradient(#aa1819 0px,#cf4123 11px,#e58922 21px,#efbc21 36px,#dceb30 55px,#6bf19f 68px,#71f19a 86px,#4bf1bf 99px,#3ff1cc 117px,#2deddd 133px,#30e5dc 148px,#25c1e9 149px,#1f49f2 150px,#191ae0 152px,#191fe1 164px,#3594da 168px,#3dd8d0 169px,#4af1c1 170px,#38eed3 191px,#31e9db 201px)"></i><i style="left:48px;top:296px;width:2px;height:202px;background:linear-gradient(#6b0d0c 0px,#9d1416 10px,#c42d20 17px,#de6f23 35px,#e68b22 49px,#ecc023 59px,#cdee3f 64px,#96f175 90px,#7ff18b 110px,#6df19e 115px,#3ef1cc 122px,#35f1d5 128px,#24e0e8 131px,#51f1b9 135px,#48f1c3 142px,#46edc5 150px,#2998dd 159px,#4fdfbd 164px,#7ff18b 168px,#79f191 173px,#51f1b9 181px,#62f1a9 185px,#35f1d5 189px,#5af1b0 194px,#4cf1be 201px)"></i><i style="left:50px;top:296px;width:2px;height:202px;background:linear-gradient(#5d0c0b 0px,#6c0d0c 12px,#bc201e 25px,#d55423 56px,#f1c721 65px,#ece621 69px,#ddee2f 78px,#ebcf25 83px,#d0f03b 97px,#cff13c 104px,#9ef16d 108px,#b2f158 113px,#76f194 117px,#64f1a7 123px,#4bf1c0 127px,#8af180 137px,#9cf16f 153px,#50f1bb 162px,#b0f15b 171px,#69f1a2 176px,#5df1ae 186px,#48f1c2 190px,#6af1a1 199px,#53f1b8 201px)"></i><i style="left:52px;top:296px;width:2px;height:202px;background:linear-gradient(#590d0b 0px,#6c0c0c 18px,#b5191c 32px,#b71d1d 42px,#cc3823 51px,#cb3623 57px,#de6f23 64px,#edac21 68px,#edb221 74px,#eebd21 77px,#dc6a23 86px,#f0bb21 94px,#e1ee2b 99px,#b5f155 105px,#8af181 110px,#abf160 114px,#d3e53a 117px,#b9f151 120px,#a4f166 123px,#a1f169 128px,#9df16e 135px,#caf141 140px,#deed2e 145px,#ccf13f 150px,#adf15e 158px,#80f18b 162px,#95f176 167px,#d6f035 171px,#87f184 176px,#7df18d 181px,#4ff1bb 185px,#56f1b5 191px,#4af1c0 195px,#68f1a3 201px)"></i><i style="left:54px;top:296px;width:2px;height:202px;background:linear-gradient(#5b0d0b 0px,#690b0b 21px,#810f10 30px,#b2171b 43px,#c72a21 52px,#ce3d23 63px,#e37f22 68px,#dc6a23 79px,#cf4023 86px,#ea9722 95px,#eae324 99px,#bef14d 106px,#c0e94c 113px,#f1db20 116px,#f0d721 118px,#d5f135 120px,#bef14c 122px,#ede222 126px,#aff15c 131px,#c1f149 137px,#d9f132 141px,#f1d421 143px,#f1d921 145px,#d5f135 147px,#a4f166 153px,#d1f13a 158px,#d1f139 169px,#d2f138 172px,#a7f163 176px,#c5f046 180px,#8af181 184px,#c7ed45 189px,#b6dc56 194px,#91f17a 199px,#b7f154 201px)"></i><i style="left:56px;top:296px;width:2px;height:202px;background:linear-gradient(#610c0b 0px,#640c0b 21px,#600c0b 33px,#a11417 41px,#c32520 52px,#c82f22 60px,#dd6c23 69px,#d65523 79px,#d14623 87px,#dd6d23 93px,#e58822 96px,#f1c421 100px,#e4e529 104px,#eca022 113px,#e7ed24 120px,#d7f134 122px,#f1df20 124px,#f1c921 126px,#d7f133 129px,#d4f136 133px,#dfec2d 137px,#cdec3f 140px,#efd521 143px,#e0ed2b 146px,#9cf16f 152px,#e2e02c 157px,#f0b921 162px,#e0f12a 168px,#a9f162 175px,#ede322 179px,#dfd02e 184px,#d75b23 191px,#d24a23 193px,#e8d126 198px,#eec622 201px)"></i><i style="left:58px;top:296px;width:2px;height:202px;background:linear-gradient(#700c0c 0px,#5c0c0b 15px,#610c0b 26px,#620c0b 34px,#7c0e0e 37px,#700d0c 41px,#c2241f 49px,#b6191c 56px,#a81518 59px,#d14823 64px,#d55223 69px,#cd3b23 73px,#dd6c23 78px,#ec9f22 81px,#d24923 86px,#d45023 94px,#eea622 106px,#efae21 112px,#e68922 117px,#eca622 119px,#ebdb24 121px,#edd322 123px,#ea9b22 125px,#e99622 126px,#e7e227 130px,#efc421 135px,#e17e22 139px,#e28122 140px,#e5e628 143px,#b8f152 149px,#eae226 153px,#d96123 158px,#df7522 162px,#ebdd23 166px,#ebdb24 170px,#e1eb2b 173px,#c3f147 176px,#c6f145 180px,#d5f036 181px,#f1d521 182px,#da6323 184px,#cd3a23 186px,#c93023 190px,#e99522 194px,#dd6b23 197px,#e07722 201px)"></i><i style="left:60px;top:296px;width:2px;height:202px;background:linear-gradient(#941214 0px,#740d0c 20px,#810f10 33px,#750d0d 45px,#b81a1d 50px,#ba1c1d 55px,#ab1619 60px,#cc3923 65px,#e58822 81px,#ca3223 89px,#cb3622 100px,#e88f22 105px,#e89322 108px,#f1d421 111px,#eb9c22 117px,#e17922 120px,#e38222 123px,#dd6a23 126px,#efac21 130px,#e58622 133px,#ca3222 138px,#cc3822 141px,#eca822 144px,#eaa722 147px,#ebb022 149px,#e6ee25 152px,#f1c821 154px,#d04523 157px,#c92d22 160px,#cc3922 164px,#e38322 168px,#e27d22 171px,#f0b821 173px,#eee022 174px,#c9f142 176px,#f0e320 182px,#eca422 185px,#ca3223 188px,#ca3323 191px,#db6623 194px,#cb3723 198px,#d65623 201px)"></i><i style="left:62px;top:296px;width:1px;height:202px;background:linear-gradient(#c5494a 0px,#aa4143 21px,#ac4243 34px,#993e3f 45px,#cf514c 52px,#c24649 61px,#e99b4e 79px,#db6d4f 86px,#d45b4f 92px,#d3564e 101px,#e8954e 105px,#eba24e 108px,#f4e24d 111px,#f4c64e 114px,#d9674f 120px,#e1804f 127px,#eba34e 131px,#d3564e 138px,#d3564e 141px,#eca44e 145px,#eeab4e 149px,#f4d54d 152px,#f0b64e 154px,#d6604f 157px,#d4584e 165px,#e8974e 170px,#f3c04e 173px,#ecef50 175px,#eeee4f 178px,#f4d54d 184px,#d7644f 188px,#d6604f 198px,#e07d4f 201px)"></i><i style="left:65px;top:296px;width:1px;height:202px;background:linear-gradient(#5eb8d0 0px,#55b6d8 18px,#3d79f3 47px,#3d69f3 57px,#3d49f3 78px,#3d42f3 143px,#3d45f3 161px,#3d47f3 201px)"></i><i style="left:66px;top:296px;width:1px;height:202px;background:linear-gradient(#d1c33a 0px,#d4c638 13px,#9bf170 24px,#53e4b9 44px,#56e4b6 54px,#23a4ed 63px,#206cf1 72px,#2072f1 88px,#2196ef 98px,#206cf1 115px,#2074f1 129px,#204cf1 143px,#1818e1 145px,#1818df 159px,#1e26ee 160px,#2064f1 161px,#206ff1 171px,#205ef1 201px)"></i><i style="left:67px;top:296px;width:1px;height:202px;background:linear-gradient(#cb3e21 0px,#cf4522 12px,#e9d026 26px,#b8f152 43px,#bdf14d 54px,#3ae3d2 67px,#26c6e9 83px,#44eec7 99px,#2ddae1 117px,#30dcde 130px,#20a3f1 141px,#21a5ef 143px,#2081f1 144px,#1d1fee 145px,#1616da 148px,#1717dc 158px,#1d1ded 159px,#29d3e5 161px,#27cce7 199px,#24c2ea 201px)"></i><i style="left:68px;top:296px;width:1px;height:202px;background:linear-gradient(#991315 0px,#a51718 12px,#d34f23 21px,#eeb321 34px,#eed222 46px,#eec822 54px,#bff14c 60px,#63f1a7 72px,#55f1b6 84px,#80f18a 97px,#41f1ca 121px,#58f1b2 130px,#2ce9e0 141px,#33eed8 143px,#26dfe7 144px,#2052f1 145px,#1a1ae7 146px,#1616da 157px,#1818e0 158px,#2032f1 159px,#33dada 160px,#52f1b9 161px,#43f1c8 196px,#32f0d9 201px)"></i><i style="left:69px;top:296px;width:1px;height:202px;background:linear-gradient(#6d0c0b 0px,#6f0d0d 12px,#c82e22 22px,#e68922 39px,#e89022 47px,#e38022 54px,#e7e327 61px,#96f175 74px,#8af180 83px,#adf15e 93px,#b7f154 97px,#7ef18d 111px,#3af1d0 120px,#86f184 129px,#66f1a4 133px,#3af1d0 139px,#41f1ca 144px,#24b3ec 145px,#1f21f1 146px,#1616da 148px,#1717dc 157px,#1d1fed 158px,#208bf1 159px,#6cf19f 160px,#87f184 161px,#5ef1ac 173px,#6ef19d 183px,#6bf1a0 192px,#41f1ca 201px)"></i><i style="left:70px;top:296px;width:2px;height:202px;background:linear-gradient(#6a0b0b 0px,#680c0b 16px,#b61e1c 25px,#d55423 44px,#ce3e23 54px,#edc622 65px,#bbf14f 80px,#d6f035 87px,#d4f036 91px,#ecd024 96px,#cdf13d 107px,#8df17e 113px,#46f1c5 119px,#6bf1a0 124px,#b3f158 130px,#54f1b6 136px,#58f1b2 145px,#3f92d0 146px,#3765cf 147px,#2236d7 151px,#426fc1 154px,#9eee6d 159px,#b8f153 161px,#87f183 168px,#94f177 177px,#b1f15a 181px,#8ff17c 192px,#6af1a1 200px,#6df19e 201px)"></i><i style="left:72px;top:296px;width:2px;height:202px;background:linear-gradient(#630c0b 0px,#5f0c0b 20px,#c62921 39px,#c72a21 53px,#de6e23 65px,#e58822 73px,#efd222 79px,#eee221 90px,#ea9722 95px,#f1bb21 100px,#e9eb22 102px,#d1f13a 105px,#e1f129 108px,#8ff17c 115px,#7df18e 121px,#6df19d 126px,#b5f156 130px,#81f189 133px,#5df1ad 135px,#74f196 140px,#70f19a 144px,#9ff16c 151px,#b5f156 160px,#acf15f 167px,#e5e629 170px,#dfdf2f 176px,#e79d22 180px,#e2e12b 184px,#9bf170 190px,#b6f154 197px,#dae134 201px)"></i><i style="left:74px;top:296px;width:2px;height:202px;background:linear-gradient(#590d0b 0px,#660c0b 28px,#c42720 38px,#c93023 44px,#ab1619 51px,#ce3e23 60px,#d34c23 64px,#cd3b23 69px,#eda422 82px,#f0b921 88px,#f0b821 91px,#e78f22 97px,#eb9e22 100px,#e5db29 104px,#eec621 108px,#cdec3f 114px,#b1f159 119px,#9bf170 122px,#cdf13e 131px,#77f194 141px,#88f182 145px,#c5f145 149px,#d0f03b 154px,#e9d927 158px,#d3f138 163px,#f1d921 172px,#dd6d23 180px,#e68b22 183px,#ece423 186px,#a3f168 190px,#90f17a 193px,#ede722 199px,#f1c221 201px)"></i><i style="left:76px;top:296px;width:2px;height:202px;background:linear-gradient(#5c0c0b 0px,#670c0b 13px,#5d0c0b 23px,#8d1012 35px,#b71d1d 42px,#860f10 50px,#c82d22 57px,#d04523 63px,#b2191b 68px,#dc6823 79px,#de7023 83px,#d34c23 95px,#cc3822 100px,#d45222 105px,#e99422 108px,#e48722 113px,#f1d421 117px,#e8b425 122px,#edbb22 126px,#d7f133 129px,#cbf13f 132px,#e6e228 135px,#bef14d 143px,#f0cc21 150px,#f1d821 154px,#f1b321 157px,#eaea22 160px,#cef13c 162px,#f1d521 167px,#e89422 173px,#da6423 176px,#eeab21 180px,#def12d 187px,#c1f149 191px,#adf15d 194px,#e8e726 201px)"></i><i style="left:78px;top:296px;width:2px;height:202px;background:linear-gradient(#640c0b 0px,#730c0c 14px,#580d0b 19px,#680c0b 25px,#810e0f 32px,#911113 39px,#931213 44px,#7f0e0f 52px,#b81b1d 56px,#d14723 59px,#c92f22 66px,#be221f 70px,#d14623 82px,#c72e21 88px,#cb3421 107px,#dd6d23 113px,#db6823 118px,#cf4022 121px,#dc6a23 126px,#f1c321 128px,#e3ee28 129px,#c6f145 131px,#f0e020 133px,#f0b421 135px,#eedd22 142px,#f1c121 145px,#e07722 149px,#f1bc21 153px,#f1b321 158px,#e8d526 162px,#eda722 167px,#eec422 171px,#e48722 176px,#f1c021 180px,#ecd524 185px,#e69722 189px,#e0dd2e 194px,#d3f138 201px)"></i><i style="left:80px;top:296px;width:2px;height:202px;background:linear-gradient(#760d0d 0px,#700c0c 16px,#6a0c0b 24px,#800e0f 29px,#810f0f 53px,#b2171b 56px,#cd3c23 58px,#ce3d23 63px,#be211e 69px,#d14623 78px,#c32720 88px,#c82d21 109px,#e17a22 112px,#d85d23 114px,#c82d21 117px,#ca3122 126px,#dd6d22 128px,#e7ba24 130px,#eeae21 133px,#eb9b22 136px,#ea9b22 144px,#db6523 149px,#e48222 157px,#db6623 162px,#e48422 167px,#eedc21 170px,#f0d721 173px,#f0bb21 179px,#ea9922 185px,#d24a23 188px,#d04423 190px,#e68b22 195px,#ebc923 201px)"></i><i style="left:82px;top:296px;width:2px;height:202px;background:linear-gradient(#9c1416 0px,#8b1012 15px,#820f10 30px,#820f0f 46px,#800e0f 52px,#c72a21 57px,#cf4123 61px,#bf211f 66px,#b4191b 70px,#d24923 78px,#cc3923 83px,#ca3223 97px,#ca3322 102px,#cd3d23 112px,#c82a21 116px,#ca3122 129px,#e78f22 135px,#dd6d23 145px,#e58722 148px,#db6523 150px,#c92d22 152px,#c92e22 155px,#d45123 157px,#c92d22 161px,#cb3423 164px,#f0b821 170px,#efaa22 173px,#e78e22 176px,#ea9a22 183px,#d75823 188px,#d34d23 198px,#df7222 201px)"></i><i style="left:84px;top:296px;width:1px;height:202px;background:linear-gradient(#f6e2e2 0px,#fcf0e2 138px,#fbeee2 167px,#fcf1e2 174px,#fbece2 201px)"></i><i style="left:86px;top:296px;width:1px;height:202px;background:linear-gradient(#8ec7ef 0px,#87b8f8 19px,#8796f8 50px,#868af8 195px,#8689f8 201px)"></i><i style="left:87px;top:296px;width:1px;height:202px;background:linear-gradient(#b2dc5b 0px,#a1ec6b 15px,#46d4c7 27px,#249eec 55px,#2051f1 70px,#204bf1 102px,#2051f1 118px,#2046f1 135px,#1a1ae6 137px,#1717dd 146px,#1d1dec 147px,#203ef1 148px,#2046f1 201px)"></i><i style="left:88px;top:296px;width:1px;height:202px;background:linear-gradient(#d65a22 0px,#dc6c23 11px,#e3d32c 20px,#b1f159 27px,#63f1a8 55px,#24bceb 67px,#208cf1 80px,#208af1 92px,#27c3e8 113px,#2096f1 129px,#2097f1 136px,#2071f1 137px,#1d32ec 138px,#1818e1 139px,#1717db 145px,#1b1be9 146px,#208af1 148px,#2083f1 179px,#2092f1 200px,#208ff1 201px)"></i><i style="left:89px;top:296px;width:1px;height:202px;background:linear-gradient(#a61718 0px,#c62f21 14px,#e58922 21px,#ecd523 27px,#c1f14a 51px,#34e7d8 73px,#26d2e9 88px,#39f1d2 115px,#31e7db 137px,#25beea 138px,#1f3ff1 139px,#1919e3 140px,#1818df 145px,#2029f1 146px,#20b5f1 147px,#26dee6 148px,#32dfdc 161px,#25d3e9 174px,#29e3e3 201px)"></i><i style="left:90px;top:296px;width:1px;height:202px;background:linear-gradient(#6b0d0c 0px,#951214 12px,#c62e21 19px,#eb9e22 28px,#f0d021 43px,#deec2e 56px,#66f1a4 72px,#3df0ce 87px,#59f1b2 100px,#45f1c6 122px,#5ff1ab 131px,#47f1c4 138px,#2a78da 141px,#1c2deb 145px,#2068f1 146px,#27e2e6 147px,#36f1d5 149px,#66f1a5 159px,#2eeedc 172px,#44f1c6 191px,#29e8e1 200px,#25e0e8 201px)"></i><i style="left:91px;top:296px;width:2px;height:202px;background:linear-gradient(#5c0c0b 0px,#770e0e 16px,#cb3722 24px,#e38222 36px,#e89622 54px,#e0e62d 62px,#9ff16b 71px,#73f198 87px,#85f185 97px,#6df19e 105px,#75f196 109px,#4ff1bc 113px,#5ef1ad 123px,#8ef17d 130px,#62f1a9 136px,#6df19e 141px,#55e9b6 146px,#64f1a6 153px,#94f177 159px,#48f1c2 170px,#3ef1cd 177px,#54f1b6 186px,#7df18d 189px,#33e9d7 200px,#2bdde3 201px)"></i><i style="left:93px;top:296px;width:2px;height:202px;background:linear-gradient(#5b0d0b 0px,#690c0b 19px,#b81f1d 27px,#cb3822 45px,#ca3822 51px,#e79222 62px,#e4e829 69px,#e0e72d 74px,#e5d62a 78px,#d7e836 84px,#bdf14d 95px,#9af171 101px,#c5f146 106px,#d5e738 109px,#7ff18b 114px,#57f1b4 118px,#7af190 122px,#9ff16b 131px,#97f173 136px,#c3f148 140px,#9ff16c 145px,#c6f144 148px,#abf160 153px,#a0f16b 161px,#86f185 168px,#a8f163 171px,#59f1b1 176px,#8af181 180px,#5ff1ac 184px,#8ef17c 186px,#d5e838 188px,#ddde31 191px,#96f175 201px)"></i><i style="left:95px;top:296px;width:2px;height:202px;background:linear-gradient(#600c0b 0px,#640c0b 15px,#6a0c0c 23px,#931213 29px,#be211e 43px,#cc3822 60px,#d85d23 64px,#f1bc21 68px,#f0b421 82px,#f1d521 86px,#e99922 90px,#f0b721 92px,#e7eb26 94px,#7af191 99px,#97f173 101px,#d6ec36 103px,#eeb121 107px,#eba022 109px,#ebdc24 111px,#c1f14a 114px,#aef15d 117px,#4af1c0 121px,#71f19a 125px,#acf15f 132px,#dceb31 135px,#e7ec25 141px,#c0f14b 150px,#e7e227 155px,#eabe25 158px,#cbf040 161px,#b5f156 167px,#d6f134 171px,#84f187 176px,#a7f164 181px,#a5f166 184px,#e7ec24 187px,#f1c621 190px,#dcee2f 193px,#d1f13a 199px,#b9f151 201px)"></i><i style="left:97px;top:296px;width:2px;height:202px;background:linear-gradient(#630c0b 0px,#620c0b 16px,#620c0b 22px,#720d0d 33px,#991315 43px,#cb3523 56px,#cf4223 64px,#e68c22 70px,#e99622 77px,#e17a22 81px,#eba122 86px,#de7023 90px,#eda522 93px,#dce631 97px,#c9ed43 100px,#ecd824 102px,#d14723 108px,#d75823 110px,#ecab21 113px,#ebb822 117px,#c0ea4c 120px,#a6f165 124px,#b1f159 131px,#eee521 134px,#f1d821 138px,#f1d221 141px,#eaab22 145px,#f0d221 153px,#e89422 160px,#e6a323 162px,#e8dd27 164px,#b6f154 166px,#a0f16a 169px,#aff15c 177px,#d7f034 180px,#c4f146 184px,#f1e120 187px,#f1c821 190px,#dcf12e 193px,#cdf13d 201px)"></i><i style="left:99px;top:296px;width:2px;height:202px;background:linear-gradient(#6a0b0b 0px,#600c0b 15px,#6e0c0b 21px,#580d0b 29px,#720c0c 41px,#c12520 53px,#d24923 61px,#d75823 69px,#e38022 76px,#de6e23 82px,#df7222 87px,#d55223 90px,#eca922 99px,#e99722 102px,#c72a21 108px,#ca3222 111px,#edc422 123px,#dae633 131px,#f1bb21 136px,#f1c221 141px,#d96023 148px,#e17b22 153px,#dc6b23 158px,#d14723 161px,#e07522 163px,#ebe024 165px,#9cf16f 168px,#9bf170 172px,#cef13c 177px,#f1d521 180px,#e9e025 185px,#f0b521 189px,#f0e320 192px,#e0f12b 195px,#e8e127 198px,#d4f137 201px)"></i><i style="left:101px;top:296px;width:2px;height:202px;background:linear-gradient(#770d0d 0px,#7b0e0e 17px,#590d0b 32px,#600c0b 41px,#b1171b 46px,#c52820 56px,#ca3422 60px,#c62b21 64px,#dc6923 72px,#d45123 87px,#c62b21 90px,#d55323 99px,#c72921 111px,#cc3722 115px,#d75a23 119px,#e48622 128px,#f1d321 143px,#f0b921 145px,#d34c23 148px,#dc6823 160px,#e99522 163px,#eee421 166px,#d2ec3a 169px,#e4eb29 176px,#f0b321 180px,#f1c021 187px,#f1c221 190px,#def02d 192px,#c2f149 194px,#ebe223 198px,#c0f14b 200px,#a1f16a 201px)"></i><i style="left:103px;top:296px;width:2px;height:202px;background:linear-gradient(#961214 0px,#911113 12px,#700c0c 24px,#700c0c 31px,#600c0b 41px,#c62a21 47px,#ce3f23 51px,#bc1f1e 57px,#a91619 63px,#d14723 68px,#d96023 72px,#c52921 77px,#cb3623 82px,#bf221f 87px,#cd3b23 97px,#c72921 107px,#c92f22 120px,#d14823 122px,#c92f22 126px,#d44f23 131px,#f1c021 135px,#e4e928 139px,#f1d821 141px,#e37e22 144px,#df7222 150px,#efb121 160px,#f1b821 163px,#e8ea24 166px,#f1cf21 168px,#e78e22 170px,#e38022 171px,#eca222 173px,#f1ce21 175px,#f1bf21 182px,#f1dc20 186px,#f1d121 190px,#d0f13b 193px,#cef13c 198px,#7df18d 201px)"></i><i style="left:105px;top:296px;width:1px;height:202px;background:linear-gradient(#dd9596 0px,#c19090 42px,#e9a79a 49px,#e09797 64px,#ebae9a 73px,#e39b98 93px,#eaa99a 121px,#e7a39a 131px,#f9de99 136px,#f6d299 142px,#f2c499 152px,#f9e999 160px,#f8dc99 168px,#f3c799 172px,#f8d999 179px,#f9f199 186px,#f9e899 191px,#cbf9c3 200px,#c1f9cd 201px)"></i><i style="left:107px;top:296px;width:1px;height:202px;background:linear-gradient(#d0d4fc 0px,#d0d0fc 201px)"></i><i style="left:108px;top:296px;width:1px;height:202px;background:linear-gradient(#4bb3c2 0px,#2589eb 36px,#2072f1 48px,#203ff1 66px,#1e27ed 129px,#1717db 136px,#1818e1 146px,#202ef1 149px,#202df1 201px)"></i><i style="left:109px;top:296px;width:1px;height:202px;background:linear-gradient(#d8c634 0px,#b5ee57 16px,#74f197 31px,#6ef19d 45px,#26b6e9 61px,#208ff1 75px,#2097f1 91px,#219def 101px,#2071f1 116px,#2063f1 129px,#1919e3 132px,#1717db 145px,#1a1ae6 146px,#2059f1 148px,#205df1 201px)"></i><i style="left:110px;top:296px;width:1px;height:202px;background:linear-gradient(#d14a22 0px,#e07822 11px,#e2e02c 24px,#d6eb36 38px,#c0f14b 47px,#51f0ba 65px,#35e4d7 82px,#45efc6 100px,#25b9ea 131px,#2185ef 132px,#1d38ec 133px,#1919e2 134px,#1717dd 144px,#1b24e6 145px,#229cee 147px,#24baeb 149px,#21abef 164px,#23beec 179px,#23b6ed 201px)"></i><i style="left:111px;top:296px;width:1px;height:202px;background:linear-gradient(#aa1819 0px,#cc3922 12px,#f0bf21 30px,#efb721 43px,#d1f039 54px,#8ef17d 66px,#65f1a5 84px,#87f184 98px,#4af1c1 120px,#3cefcf 132px,#33d4db 133px,#216fe5 135px,#191ae0 139px,#1b25e7 143px,#27b8e8 145px,#33e7d9 146px,#3ef1cc 151px,#42f1c9 201px)"></i><i style="left:112px;top:296px;width:2px;height:202px;background:linear-gradient(#6c0d0c 0px,#c53020 21px,#e07622 32px,#d85d23 42px,#e9d926 58px,#b4f156 75px,#91f17a 85px,#dbe333 99px,#dcdd33 104px,#a7f163 111px,#7bf18f 119px,#61f1aa 132px,#2beadf 136px,#1facf0 140px,#25b0e7 142px,#39edd2 144px,#71f19a 149px,#44f1c7 153px,#45f1c5 159px,#77f193 167px,#63f1a8 177px,#73f197 181px,#5cf1af 185px,#69f1a2 200px,#64f1a7 201px)"></i><i style="left:114px;top:296px;width:2px;height:202px;background:linear-gradient(#5d0c0b 0px,#7f0f0f 17px,#b41c1c 26px,#c32a20 34px,#c1241f 43px,#d96123 53px,#f1be21 63px,#f1cd21 69px,#eeda22 73px,#e4bb27 82px,#d1f13a 90px,#e9e525 92px,#eba022 95px,#eb9d22 101px,#ea9a22 103px,#f0e020 106px,#c2f149 109px,#aff15b 119px,#b3f158 131px,#2feddc 137px,#20bff1 139px,#20bcf1 140px,#20d3f1 141px,#36f0d4 142px,#67f1a4 144px,#8af181 154px,#acf15f 161px,#caef42 167px,#93f178 173px,#4cf1be 178px,#54f1b6 182px,#77f194 186px,#85f186 195px,#9ef16c 199px,#92f178 201px)"></i><i style="left:116px;top:296px;width:2px;height:202px;background:linear-gradient(#5d0c0b 0px,#650c0b 19px,#8c1012 26px,#b3191b 45px,#cb3623 53px,#e99422 64px,#e89322 68px,#efb521 71px,#df7322 77px,#c93521 81px,#eebb21 89px,#efb221 92px,#df7222 97px,#e07622 102px,#ead125 107px,#c5f146 113px,#e4ec28 122px,#dcef2f 131px,#31e7db 138px,#24d1eb 140px,#2de6df 141px,#81f189 144px,#77f194 149px,#d6ed36 154px,#e5ee26 159px,#bff14b 162px,#f0e120 167px,#e2e52c 172px,#43f0c8 179px,#42f1c8 181px,#8bf180 186px,#a1f169 196px,#acf15f 201px)"></i><i style="left:118px;top:296px;width:2px;height:202px;background:linear-gradient(#630c0b 0px,#750d0d 29px,#901113 38px,#a21417 47px,#d14623 62px,#d45023 69px,#d55423 76px,#b91b1d 81px,#df7222 90px,#d44e23 99px,#e07722 105px,#e07722 108px,#edd823 112px,#efc721 117px,#eee620 119px,#cbef40 122px,#f1da20 130px,#cbed41 135px,#93ef78 140px,#c9ec43 145px,#c1ea4b 149px,#eed623 152px,#e69e22 158px,#e7d828 160px,#c3f148 162px,#ebe123 165px,#eeaa22 171px,#e7e727 175px,#b6e657 180px,#d9ee32 191px,#bbf150 199px,#caf141 201px)"></i><i style="left:120px;top:296px;width:2px;height:202px;background:linear-gradient(#660c0b 0px,#6a0b0b 24px,#6f0c0b 33px,#840f10 37px,#780d0d 43px,#ba1d1d 61px,#bf211e 74px,#c72921 78px,#c0221f 87px,#d24a23 90px,#c42620 95px,#d14823 101px,#d45123 105px,#cd3b23 108px,#eda422 113px,#e99522 117px,#eee120 119px,#adf15d 121px,#ceeb3e 124px,#efca21 128px,#eba122 140px,#f0b721 144px,#e89122 152px,#e27d22 154px,#c93022 157px,#ca3022 158px,#d55223 159px,#f1cb21 161px,#eae624 162px,#f1cb21 164px,#eb9e22 166px,#eda522 173px,#eead21 176px,#e37f22 180px,#eeaf21 187px,#f1cb21 191px,#e6e827 194px,#e5e728 201px)"></i><i style="left:122px;top:296px;width:2px;height:202px;background:linear-gradient(#700c0c 0px,#6b0b0b 38px,#770d0d 45px,#b3171b 60px,#c42921 69px,#cc3823 73px,#be201e 78px,#c42620 83px,#c93322 88px,#ca3423 93px,#ce3d23 101px,#d85c23 112px,#f0b721 119px,#eda822 123px,#e17822 126px,#eca322 131px,#e99622 140px,#f1d121 143px,#f1c721 145px,#e48222 148px,#de7123 154px,#d14723 157px,#d24b23 158px,#f1c821 161px,#f1db20 162px,#efaa22 164px,#da6223 166px,#d95f23 167px,#f0b721 170px,#f1bd21 172px,#e89022 176px,#eeaa22 180px,#d14723 184px,#e07522 187px,#eea722 191px,#f1c521 199px,#eeaa22 201px)"></i><i style="left:124px;top:296px;width:2px;height:202px;background:linear-gradient(#860f10 0px,#931213 11px,#770d0d 21px,#6f0c0b 29px,#660c0b 41px,#b4181c 60px,#d04323 69px,#d65523 72px,#b6181c 77px,#ca3122 110px,#dd6b23 114px,#f1bd21 117px,#f1ba21 118px,#dc6823 121px,#dd6a23 122px,#f0c921 125px,#caec42 131px,#e0e82c 132px,#eca122 134px,#e89222 135px,#f1c021 140px,#f1b421 147px,#e99422 153px,#ead224 156px,#dfe12e 159px,#f1be21 164px,#e37e22 169px,#eda222 175px,#eea822 178px,#e58622 186px,#f1c021 198px,#e68b22 201px)"></i><i style="left:126px;top:296px;width:1px;height:202px;background:linear-gradient(#bb4749 0px,#ba4649 12px,#924040 41px,#d1544f 64px,#df7a51 72px,#c6494c 78px,#d66051 112px,#f0b350 117px,#e69151 120px,#e48a51 122px,#f2e74f 126px,#ddf261 131px,#f4d050 133px,#edaa50 135px,#f4dd4f 140px,#f4c250 146px,#f2bb50 150px,#eba250 153px,#e7ef58 157px,#f4de4f 161px,#eca550 167px,#dd7351 170px,#e58f51 174px,#eeac50 177px,#eba250 181px,#f2bd50 185px,#eba250 191px,#edaa50 195px,#f4c650 198px,#e99a51 201px)"></i><i style="left:129px;top:296px;width:1px;height:202px;background:linear-gradient(#56b4d4 0px,#3d95ef 22px,#3b78f3 39px,#3b47f3 85px,#3b41f3 165px,#3b42f3 201px)"></i><i style="left:130px;top:296px;width:1px;height:202px;background:linear-gradient(#cccf40 0px,#8ef17c 12px,#7aef91 21px,#6fee9b 31px,#2ec0e1 56px,#2065f1 82px,#2066f1 102px,#206af1 116px,#2044f1 144px,#2040f1 149px,#1818e1 151px,#1818e1 159px,#2049f1 162px,#2054f1 187px,#204df1 201px)"></i><i style="left:131px;top:296px;width:1px;height:202px;background:linear-gradient(#d14c22 0px,#e8a122 10px,#e3d72c 16px,#d3eb39 32px,#7df18e 56px,#2fd8de 75px,#24bceb 98px,#30ddde 112px,#2075f1 142px,#2079f1 149px,#2067f1 150px,#1d35ed 151px,#1b32e6 158px,#1e43ef 159px,#2074f1 160px,#208df1 166px,#24bfeb 183px,#2084f1 196px,#2095f1 201px)"></i><i style="left:132px;top:296px;width:1px;height:202px;background:linear-gradient(#a31617 0px,#d04423 10px,#e58722 17px,#eca822 30px,#e8de27 43px,#cbf03f 55px,#98f172 65px,#65f1a6 76px,#47f1c3 98px,#5cf1af 110px,#24dde8 130px,#20c7ef 137px,#20b9f1 143px,#23c8ec 155px,#20ccee 161px,#38eed2 175px,#2be9e0 188px,#28dae5 197px,#2fe6dd 201px)"></i><i style="left:133px;top:296px;width:1px;height:202px;background:linear-gradient(#6a0d0c 0px,#c52b21 12px,#d55423 22px,#efcd21 55px,#cbf140 64px,#c6f144 70px,#81f18a 82px,#7ff18b 90px,#70f19b 102px,#8bf180 109px,#4cf1bf 120px,#2ae8e1 133px,#20c9f1 142px,#33f1d8 153px,#20ccf1 159px,#3bf1cf 165px,#5df1ae 171px,#4df1be 180px,#28e7e2 192px,#43f1c7 201px)"></i><i style="left:134px;top:296px;width:2px;height:202px;background:linear-gradient(#5c0c0b 0px,#810f10 10px,#b71f1d 16px,#cd3e22 31px,#df7222 54px,#edca22 63px,#eeba21 69px,#d1ee3b 77px,#b7f153 82px,#bbf150 91px,#9ff16c 97px,#96f175 101px,#d1ea3c 108px,#71f199 119px,#43f0c8 133px,#27d7e7 142px,#45f1c5 152px,#23d3ec 159px,#3af1d0 163px,#67f1a3 169px,#5af1b1 178px,#58f1b3 184px,#3ef1cc 193px,#5af1b1 201px)"></i><i style="left:136px;top:296px;width:2px;height:202px;background:linear-gradient(#600c0b 0px,#770e0e 21px,#b0191b 35px,#b81f1d 48px,#cb3623 54px,#e27c22 62px,#dc6823 72px,#efbe21 78px,#ece023 88px,#eed322 95px,#cff13c 97px,#acf15f 99px,#d4f036 102px,#eec422 105px,#e38422 109px,#dee92f 115px,#a0f16b 119px,#92f179 124px,#aaf160 131px,#5ef1ac 150px,#49f0c2 167px,#26d8e8 171px,#4ff1bb 177px,#7cf18e 180px,#97f174 189px,#7ef18d 201px)"></i><i style="left:138px;top:296px;width:2px;height:202px;background:linear-gradient(#650c0b 0px,#5f0c0b 16px,#620c0b 27px,#991315 39px,#a51518 48px,#b91b1d 52px,#d75923 61px,#d24b23 65px,#c52c21 71px,#dc6923 79px,#e58722 85px,#efb321 91px,#e89322 94px,#efb321 96px,#e4e42a 98px,#e9db26 101px,#e48322 104px,#cc3822 111px,#d65623 113px,#efbb21 115px,#e2e72b 116px,#b6f154 118px,#d1ef3a 125px,#f1c821 130px,#d9f132 134px,#cef13d 137px,#d5f135 140px,#63f1a8 144px,#8bf180 148px,#55f1b6 153px,#90f17b 159px,#bcf14e 162px,#a7f163 163px,#27e3e4 166px,#30eada 168px,#76f195 171px,#81f189 177px,#9cf16f 181px,#e6df29 184px,#eada26 185px,#e1ec2b 186px,#9ff16b 188px,#91f17a 189px,#bcf14f 191px,#ddf02e 192px,#e9e327 194px,#baf151 198px,#d4f136 201px)"></i><i style="left:140px;top:296px;width:2px;height:202px;background:linear-gradient(#680b0b 0px,#5e0c0b 31px,#951214 38px,#a41417 43px,#d14723 59px,#bf231f 75px,#c73121 84px,#e27e22 92px,#eba022 100px,#cc3923 107px,#c82b21 112px,#df8223 119px,#f1d921 133px,#e1f12a 138px,#d2f139 141px,#a5f166 144px,#bdf14d 149px,#8cf17f 153px,#c7f144 159px,#edda23 162px,#e3e82b 163px,#67f1a4 166px,#76f194 168px,#b9f152 171px,#e2d92d 178px,#f1ce21 186px,#e2d82d 190px,#f1cb21 193px,#e2f129 195px,#a9f161 198px,#8ef17c 201px)"></i><i style="left:142px;top:296px;width:2px;height:202px;background:linear-gradient(#6c0b0b 0px,#600c0b 13px,#640c0b 35px,#a61518 42px,#cd3a23 57px,#c52720 72px,#b7191c 79px,#c1251f 87px,#dc6823 94px,#cc3823 108px,#c82c21 114px,#cd3c23 119px,#cf4123 122px,#e89022 128px,#ede421 133px,#d1f13a 136px,#e8ec24 140px,#c9f141 145px,#cff13c 150px,#b9f152 154px,#eaea22 160px,#f1cd21 162px,#f1db20 163px,#b4f157 165px,#9cf16f 166px,#b1f15a 168px,#eadb25 171px,#de7122 178px,#de7122 182px,#f1b521 190px,#f1dd20 194px,#c4f147 196px,#78f193 201px)"></i><i style="left:144px;top:296px;width:2px;height:202px;background:linear-gradient(#790d0d 0px,#5d0c0b 30px,#6a0c0b 37px,#9d1316 41px,#991315 48px,#a21417 51px,#c22720 55px,#ca3223 61px,#d14623 72px,#b81a1d 80px,#ca3522 88px,#d14823 92px,#d65523 103px,#c82b21 110px,#c92f22 114px,#dc6723 117px,#d24a23 122px,#e89222 131px,#dcdd31 135px,#f1cf21 140px,#e2eb2b 145px,#e7df28 155px,#f1d621 160px,#f1cb21 163px,#dae933 166px,#e9df26 168px,#eca022 171px,#d14623 179px,#da6323 186px,#eacd25 196px,#d2dd3b 201px)"></i><i style="left:146px;top:296px;width:2px;height:202px;background:linear-gradient(#9b1415 0px,#7b0e0e 24px,#881011 48px,#c0221f 60px,#d34c23 64px,#d55323 68px,#e07622 72px,#c52921 80px,#d85c23 91px,#ca3122 94px,#dc6723 102px,#d34d23 104px,#c82b21 105px,#c93022 114px,#dd6c23 117px,#d85d23 119px,#cd3b23 121px,#d65523 123px,#e89122 125px,#e89022 127px,#dd6c23 130px,#df7222 135px,#f1c521 143px,#efb021 146px,#e78d22 149px,#e68b22 154px,#f0ba21 157px,#efc521 163px,#eda522 168px,#e99622 172px,#db6623 175px,#dc6823 181px,#d14823 186px,#d55123 190px,#e17a22 194px,#dc6a23 201px)"></i><i style="left:148px;top:296px;width:1px;height:202px;background:linear-gradient(#f7e4e4 0px,#fcf3e4 138px,#faebe5 201px)"></i><i style="left:150px;top:296px;width:1px;height:202px;background:linear-gradient(#84b2f7 0px,#848af7 89px,#8487f8 201px)"></i><i style="left:151px;top:296px;width:1px;height:202px;background:linear-gradient(#7ce890 0px,#56deb5 18px,#2cb4e3 48px,#204ff1 69px,#2059f1 99px,#2040f1 160px,#2041f1 176px,#2044f1 201px)"></i><i style="left:152px;top:296px;width:1px;height:202px;background:linear-gradient(#e6b326 0px,#e0d02d 12px,#b2f158 26px,#82f188 47px,#34dbd9 60px,#2092f1 73px,#2acce5 89px,#20a0f0 119px,#206bf1 154px,#21a5ef 169px,#206cf1 182px,#208af1 201px)"></i><i style="left:153px;top:296px;width:1px;height:202px;background:linear-gradient(#cf4422 0px,#da6323 11px,#eece22 25px,#d0ef3c 47px,#31e5db 71px,#58f1b3 88px,#49f1c2 103px,#2feadd 125px,#24c1eb 155px,#3eefcd 169px,#24c3eb 184px,#2be2e1 201px)"></i><i style="left:154px;top:296px;width:1px;height:202px;background:linear-gradient(#ab1819 0px,#c72e21 12px,#eca222 30px,#f0cb21 48px,#d1f039 55px,#63f1a8 70px,#68f1a3 76px,#8cf17e 84px,#79f192 95px,#80f18b 102px,#3df1cd 120px,#50f1bb 137px,#41f1c9 154px,#37f1d3 160px,#54f1b6 172px,#3af1d0 181px,#37f1d3 201px)"></i><i style="left:155px;top:296px;width:2px;height:202px;background:linear-gradient(#690d0c 0px,#981315 12px,#cd3c22 22px,#dc6823 36px,#e58622 50px,#edc822 56px,#ccef3f 62px,#93f177 71px,#a4f167 77px,#caef41 82px,#aff15c 92px,#c4f146 103px,#88f182 110px,#50f1bb 127px,#55f1b5 135px,#8cf17e 140px,#52f1b9 154px,#33f1d8 158px,#7ff18c 171px,#49f1c2 179px,#56f1b5 196px,#47f1c4 201px)"></i><i style="left:157px;top:296px;width:2px;height:202px;background:linear-gradient(#580d0b 0px,#630d0b 13px,#ab1719 20px,#cd3c23 38px,#d24923 49px,#d65723 55px,#edbb21 63px,#cef13c 69px,#c8f143 74px,#efd622 79px,#f0bd21 83px,#e9a522 93px,#edaa22 100px,#e0ec2d 106px,#99f172 112px,#d5e039 121px,#b2f159 123px,#47f1c3 126px,#36e9d6 129px,#5af1b1 135px,#8bf180 139px,#4bf1c0 151px,#34efd6 156px,#50f1ba 161px,#ccf13e 169px,#d2f139 171px,#48f1c2 176px,#37ecd4 181px,#78f193 189px,#56f1b5 193px,#a2f169 198px,#8ef17d 200px,#77f194 201px)"></i><i style="left:159px;top:296px;width:2px;height:202px;background:linear-gradient(#580d0b 0px,#6f0c0b 17px,#c0231f 34px,#c52b21 43px,#c72a21 53px,#bb241e 59px,#eeae21 67px,#eed122 70px,#f1d121 77px,#db6623 86px,#c83121 90px,#e48322 95px,#e48222 100px,#f1be21 105px,#f1c621 108px,#d7f133 110px,#a7f164 112px,#d0f13a 114px,#eed623 115px,#e48822 117px,#e48422 119px,#eedc22 123px,#a4f167 126px,#3deecd 128px,#21c1f0 129px,#209bf1 130px,#209bf1 131px,#27e1e5 133px,#76f194 136px,#c2f148 144px,#7af191 148px,#8bf180 158px,#d0e63d 162px,#ebdb24 168px,#b6f155 172px,#2ee5dd 176px,#47f1c4 192px,#8cf17f 195px,#d7f133 197px,#ecde24 199px,#d9ed33 201px)"></i><i style="left:161px;top:296px;width:2px;height:202px;background:linear-gradient(#5d0c0b 0px,#6c0b0b 15px,#7e0e0e 20px,#850f10 27px,#a31517 37px,#a51518 45px,#cc3823 49px,#c62a21 61px,#e78d22 69px,#eeaa22 77px,#d45123 88px,#d04523 92px,#d04623 97px,#d34e23 101px,#da6223 104px,#f1d121 108px,#d6f135 111px,#eed222 114px,#d75923 118px,#d14722 120px,#e07922 123px,#ead925 126px,#a1f169 128px,#65e8a7 130px,#81f18a 133px,#cdf13d 138px,#d2f139 144px,#9ff16b 150px,#a6f165 154px,#d8ed34 158px,#ece222 162px,#dc6a23 167px,#e07e22 170px,#d7c234 174px,#9ff16b 178px,#86f184 181px,#77f193 193px,#ede321 200px,#f1ce21 201px)"></i><i style="left:163px;top:296px;width:2px;height:202px;background:linear-gradient(#670c0b 0px,#6e0c0b 15px,#7f0e0f 20px,#7f0e0f 42px,#a91619 46px,#cd3c23 49px,#d24a23 67px,#e27e22 76px,#d65423 91px,#c2241f 93px,#c72921 103px,#d95f23 105px,#f1c221 107px,#e5ef27 109px,#f1df20 112px,#c82b21 119px,#ca3423 123px,#eddb23 128px,#d5ec37 131px,#ecaf21 140px,#dced30 145px,#bff14b 151px,#ddee2f 155px,#f1cd21 159px,#eed722 161px,#eeae21 163px,#ce3e23 166px,#c92e22 169px,#cf4123 174px,#e78e22 177px,#e7cb28 179px,#d7f134 185px,#acf15e 193px,#ddea2f 199px,#f0b021 201px)"></i><i style="left:165px;top:296px;width:2px;height:202px;background:linear-gradient(#720c0c 0px,#800e0f 24px,#720c0c 29px,#6c0b0b 34px,#670b0b 40px,#c52c21 50px,#cb3623 60px,#d24a23 64px,#ce3e23 69px,#d85c23 73px,#d55423 86px,#c2241f 93px,#c82c21 104px,#eaa722 109px,#eeb421 112px,#c92f22 120px,#cb3422 122px,#f0c921 128px,#eed322 132px,#e79222 139px,#efc022 142px,#f1d921 145px,#eca422 157px,#e68a22 162px,#c92e22 167px,#cd3c23 174px,#edb822 178px,#e5ef25 185px,#d1ef3a 189px,#ecd323 194px,#ede123 199px,#f0b621 201px)"></i><i style="left:167px;top:296px;width:2px;height:202px;background:linear-gradient(#921113 0px,#9d1316 12px,#991315 22px,#760d0d 32px,#7c0e0e 38px,#840f10 45px,#c2241f 56px,#cb3623 61px,#cf4123 66px,#d34d23 73px,#be221f 77px,#c52a21 83px,#cc3823 86px,#bf221f 90px,#ca3322 109px,#db6523 113px,#e27d22 117px,#d24923 121px,#df7122 123px,#eedd21 126px,#bbf150 136px,#dfed2d 140px,#d8f132 144px,#efe320 145px,#dc6723 148px,#db6723 151px,#d96023 157px,#db6623 162px,#c92e22 165px,#cf4023 172px,#dd6c23 175px,#f1d021 177px,#d2f139 178px,#9bf16f 180px,#bbf150 183px,#efdd21 186px,#efb021 190px,#e17922 192px,#de7023 193px,#eda222 195px,#e6ee25 197px,#d4f136 199px,#e6ee26 200px,#f1d321 201px)"></i><i style="left:169px;top:296px;width:1px;height:202px;background:linear-gradient(#dd9799 0px,#d49596 25px,#cd9495 47px,#eaaa9c 62px,#e7a29c 110px,#f0bf9c 118px,#f4ca9c 124px,#f3f69f 136px,#f9ed9b 145px,#eeb89c 149px,#f0be9c 155px,#e9a79c 164px,#e8a79c 173px,#f9ee9b 177px,#dbf9b5 181px,#f9e39b 186px,#f4cd9c 191px,#f4cb9c 194px,#f0f9a1 198px,#f9ef9b 201px)"></i><i style="left:171px;top:296px;width:1px;height:202px;background:linear-gradient(#ced2fc 0px,#cecefc 201px)"></i><i style="left:172px;top:296px;width:1px;height:202px;background:linear-gradient(#45aec9 0px,#237fee 41px,#2031f1 73px,#202df1 201px)"></i><i style="left:173px;top:296px;width:1px;height:202px;background:linear-gradient(#d4d039 0px,#b0ef5c 15px,#6ef19d 32px,#50e7bc 51px,#24adec 62px,#206cf1 72px,#2085f1 102px,#205ef1 119px,#2060f1 135px,#205ef1 155px,#2052f1 188px,#205df1 201px)"></i><i style="left:174px;top:296px;width:1px;height:202px;background:linear-gradient(#d65622 0px,#e48622 11px,#e1e12c 23px,#adf15e 50px,#5ff1ab 61px,#26cce8 70px,#26c7e9 80px,#31e1dc 103px,#209df1 129px,#28cee6 141px,#2096f1 163px,#2090f1 187px,#21b0ef 201px)"></i><i style="left:175px;top:296px;width:1px;height:202px;background:linear-gradient(#b11b1b 0px,#cb3822 11px,#f0c421 30px,#eade25 48px,#c7f143 56px,#47f1c3 72px,#5ef1ad 96px,#58f1b3 104px,#29e3e3 125px,#34efd6 136px,#42f1c8 142px,#33eed8 158px,#22d4eb 177px,#20caef 184px,#2be9e0 201px)"></i><i style="left:176px;top:296px;width:2px;height:202px;background:linear-gradient(#6d0d0d 0px,#a91819 12px,#de7123 29px,#e17a22 37px,#e17822 44px,#eebe21 55px,#d6ed36 61px,#8df17e 72px,#92f179 79px,#91f17a 83px,#7df18e 87px,#89f181 95px,#bbf050 99px,#6cf19e 112px,#3ff1cc 128px,#57f1b3 136px,#7af191 140px,#3cf1cf 152px,#58f1b2 168px,#2decdd 176px,#20c3f1 180px,#30eddb 194px,#3cf1ce 201px)"></i><i style="left:178px;top:296px;width:2px;height:202px;background:linear-gradient(#5d0c0b 0px,#770e0e 14px,#ca3322 28px,#cc3823 39px,#d55223 53px,#edd623 65px,#baf151 76px,#dfd630 94px,#ebab21 100px,#e2e72b 104px,#82f188 108px,#81f189 114px,#6cf19e 118px,#7bf190 122px,#53f1b8 126px,#9cf16f 130px,#86f185 135px,#b4f157 140px,#a0f16b 148px,#a9f062 154px,#80f18a 158px,#bfef4c 161px,#b4f157 163px,#64f1a6 167px,#3df0cd 177px,#43ecc9 181px,#20cef0 184px,#38f1d3 191px,#61f1aa 196px,#6df19e 201px)"></i><i style="left:180px;top:296px;width:2px;height:202px;background:linear-gradient(#5e0c0b 0px,#660c0b 13px,#7c0e0e 22px,#be211e 33px,#ca3423 54px,#e89122 64px,#efb621 70px,#e9dc26 76px,#ebdc24 82px,#eb9c22 86px,#eb9e22 91px,#df7322 96px,#e48422 101px,#f1d821 104px,#d6ee36 106px,#9bf16f 110px,#7af191 118px,#a5f165 124px,#daf130 130px,#dceb30 136px,#eed223 140px,#d5f136 143px,#e2f129 145px,#e8a022 148px,#eda822 152px,#e4e52a 156px,#cff13c 159px,#d7ee35 162px,#5af1b1 168px,#51f1b9 176px,#70f19b 180px,#58efb2 185px,#82f189 191px,#b2f159 195px,#c0f14a 201px)"></i><i style="left:182px;top:296px;width:2px;height:202px;background:linear-gradient(#630c0b 0px,#6b0c0b 14px,#6a0c0b 24px,#a11417 34px,#b71b1c 44px,#c62b21 55px,#d65623 59px,#d34d22 64px,#e58622 71px,#e89122 75px,#e48222 86px,#f0b521 90px,#e07622 95px,#eda222 102px,#f1c321 104px,#eeb321 108px,#dee22f 112px,#d6ce36 119px,#eca422 127px,#f1cc21 135px,#e07822 139px,#e07922 140px,#ecd824 143px,#eee121 145px,#eaa222 148px,#e5e628 156px,#c2f149 164px,#b8ef53 168px,#77f194 178px,#6cf19e 181px,#e3e52a 194px,#bbf14f 199px,#c2f149 201px)"></i><i style="left:184px;top:296px;width:2px;height:202px;background:linear-gradient(#690b0b 0px,#720c0c 15px,#6a0b0b 21px,#6a0c0b 29px,#a61518 39px,#af171a 47px,#b81a1d 52px,#c0231f 56px,#cc3823 59px,#b91b1d 64px,#d95e23 73px,#cf4123 82px,#e07522 86px,#f1c821 89px,#f1cf21 91px,#e89122 96px,#e58722 105px,#d95f23 108px,#df7522 113px,#d75923 118px,#cb3522 121px,#e17822 128px,#dd6d23 131px,#f0af21 134px,#f0af21 135px,#ca3122 139px,#d04423 141px,#eeae21 144px,#e7eb25 148px,#c2f149 162px,#e9e725 164px,#e89722 167px,#e8e727 174px,#a5f165 177px,#6cf19f 180px,#b6f155 185px,#eae125 189px,#f0b221 193px,#f1dc20 195px,#c2f148 197px,#aaf160 200px,#b1f159 201px)"></i><i style="left:186px;top:296px;width:2px;height:202px;background:linear-gradient(#740c0c 0px,#7a0d0e 16px,#670c0b 36px,#b0171a 52px,#bd1f1e 69px,#c1231f 79px,#c22620 85px,#e17922 88px,#eeab22 90px,#eb9d22 95px,#d55223 99px,#d44f23 106px,#d34e23 109px,#c82b21 113px,#d55323 117px,#e17722 123px,#de6f23 126px,#eea622 130px,#eea622 135px,#d14623 139px,#d85b23 144px,#eadc24 148px,#eadb24 150px,#edad21 153px,#e9a922 158px,#d9dd33 161px,#e4da29 163px,#e17a22 165px,#d55223 166px,#d24a23 168px,#e48422 172px,#f0dd20 174px,#bbf150 176px,#abf160 184px,#ece822 187px,#f0b321 190px,#f1b721 193px,#e6e927 196px,#c7f144 199px,#dfeb2e 201px)"></i><i style="left:188px;top:296px;width:2px;height:202px;background:linear-gradient(#8b1011 0px,#8b1011 24px,#580d0b 39px,#770d0d 44px,#9d1316 48px,#c72c21 68px,#ce3e23 74px,#c72c21 83px,#d65723 88px,#e78d22 94px,#dd6d23 100px,#e07422 109px,#cc3723 112px,#d34c23 114px,#e99522 117px,#d95f23 121px,#e88f22 124px,#f0b821 127px,#f0b021 131px,#d04623 135px,#cd3a23 141px,#ca3222 145px,#e07622 151px,#dc6a23 154px,#ce3d23 158px,#d24923 164px,#e17a22 169px,#eda522 174px,#edcb24 177px,#edc223 180px,#e5e629 182px,#c1f149 184px,#e0f02b 186px,#f1ba21 188px,#ea9922 192px,#eca022 194px,#f1d921 196px,#d3f137 198px,#e8eb24 201px)"></i><i style="left:190px;top:296px;width:1px;height:202px;background:linear-gradient(#be4a4c 0px,#af4748 25px,#804240 41px,#c74c4e 52px,#d96854 70px,#db6f54 77px,#d55e53 82px,#e48b53 92px,#e58f53 109px,#d55c53 112px,#e18153 115px,#eaa053 117px,#e17f53 122px,#f0b552 126px,#e69053 132px,#d66053 135px,#d76454 141px,#d76354 147px,#e48953 153px,#d45b52 157px,#d66053 164px,#e79653 169px,#f4c752 177px,#f1b952 180px,#ebf255 183px,#e5f45b 185px,#f0b552 188px,#eca653 191px,#f3c052 195px,#f0ea53 198px,#f4d752 201px)"></i><i style="left:193px;top:296px;width:1px;height:202px;background:linear-gradient(#50b2d8 0px,#398df1 26px,#3845f3 71px,#3434ec 131px,#3131e4 148px,#3841f3 153px,#3840f3 201px)"></i><i style="left:194px;top:296px;width:1px;height:202px;background:linear-gradient(#c6d646 0px,#abed61 15px,#5ee9ae 32px,#2dbfe2 51px,#2075f1 66px,#2051f1 85px,#205cf1 117px,#2046f1 130px,#1a1ae7 132px,#1717db 147px,#1919e4 148px,#204bf1 150px,#2054f1 178px,#204df1 201px)"></i><i style="left:195px;top:296px;width:1px;height:202px;background:linear-gradient(#d65622 0px,#e07a22 11px,#dee230 24px,#85f186 49px,#35e0d8 63px,#2095f1 83px,#20a6f1 102px,#29cbe6 112px,#207bf1 131px,#1a1ae7 133px,#1717dc 147px,#1c1ded 148px,#206cf1 149px,#2095f1 150px,#20a1f1 157px,#2081f1 170px,#23b8ec 183px,#2092f1 197px,#2097f1 201px)"></i><i style="left:196px;top:296px;width:1px;height:202px;background:linear-gradient(#ae1a1a 0px,#c83221 12px,#efbf21 30px,#d3ee39 48px,#74f197 63px,#2ee2df 81px,#36f0d5 105px,#47f1c4 115px,#2ad8e3 131px,#25beea 132px,#1f56f1 133px,#1a20e6 134px,#1919e3 146px,#1d3fec 147px,#21ceec 149px,#2fecdb 154px,#22d1ec 172px,#37f1d3 182px,#31e7db 201px)"></i><i style="left:197px;top:296px;width:1px;height:202px;background:linear-gradient(#790e0e 0px,#a81618 12px,#d95e23 24px,#efb121 41px,#e3e82a 54px,#a6f164 61px,#83f188 73px,#55f1b6 80px,#47f1c4 92px,#45f1c6 97px,#4ef1bd 105px,#62f1a9 110px,#64f1a7 120px,#42e9ca 133px,#1a2ae4 138px,#1717dd 140px,#1922e1 142px,#1c43e1 143px,#2465e1 145px,#2686e8 146px,#24cceb 147px,#34f1d7 152px,#3bf1cf 163px,#35f1d6 181px,#65f1a6 190px,#49f1c2 201px)"></i><i style="left:198px;top:296px;width:2px;height:202px;background:linear-gradient(#670b0b 0px,#6a0d0c 11px,#c72f21 25px,#dd6d23 39px,#e58922 51px,#e1e42c 59px,#c0f04b 73px,#9bf170 80px,#8df17e 88px,#54f1b7 95px,#72f199 100px,#6bf1a0 104px,#8bf180 109px,#84f187 113px,#aaf161 118px,#5bf1b0 130px,#7de48f 138px,#7bcd90 140px,#74f197 144px,#25dfe8 148px,#24dfe8 150px,#56f1b5 155px,#60f1ab 161px,#48f1c3 170px,#31f0d9 181px,#7ef18c 189px,#5cf1ae 201px)"></i><i style="left:200px;top:296px;width:2px;height:202px;background:linear-gradient(#670c0b 0px,#6e0d0c 19px,#c0241f 30px,#cf4123 51px,#f0b921 63px,#f0c921 73px,#e7a623 81px,#d6ee36 90px,#92f178 93px,#72f198 95px,#8ef17d 100px,#b5f156 113px,#ecde23 116px,#ecdf23 118px,#aff15b 121px,#8cf17f 127px,#4df1bd 130px,#61f1aa 132px,#b0f15a 135px,#e0e42d 139px,#c8f142 142px,#4af1c1 148px,#4ef1bc 152px,#b8f152 158px,#9df16d 163px,#64f1a6 167px,#69f1a2 172px,#39f1d2 179px,#32d0dc 190px,#53f1b7 194px,#64f1a6 201px)"></i><i style="left:202px;top:296px;width:2px;height:202px;background:linear-gradient(#640c0b 0px,#650c0b 23px,#951214 29px,#c72921 47px,#c62921 52px,#eda322 70px,#eb9e22 73px,#da6123 77px,#e89122 85px,#f0bd21 89px,#dce931 93px,#aef15d 99px,#dcef2e 104px,#b0f15b 108px,#d9f131 113px,#b6f155 119px,#93f178 123px,#a3f167 132px,#e7eb25 136px,#efae21 139px,#f1bd21 141px,#e1f02a 143px,#70f19b 148px,#74f196 151px,#a2f168 154px,#deec2e 156px,#efd421 159px,#d9f131 163px,#a2f169 167px,#86f184 175px,#7af191 179px,#73f197 181px,#35ead6 183px,#23baed 186px,#2192f0 189px,#25baeb 191px,#46efc5 193px,#baf151 201px)"></i><i style="left:204px;top:296px;width:2px;height:202px;background:linear-gradient(#5b0d0b 0px,#690c0b 16px,#660c0b 22px,#720d0d 32px,#c72a21 42px,#cb3523 47px,#cb3622 62px,#e58822 69px,#db6623 78px,#e17a22 82px,#dc6923 87px,#e17922 91px,#efd221 95px,#e9bf25 99px,#d8f133 103px,#edde22 111px,#d2f138 118px,#8cf17f 122px,#bff14b 126px,#9ff16b 135px,#dde530 139px,#d2f139 145px,#abf160 149px,#e8d727 154px,#f1d921 160px,#cdf13d 165px,#b2f159 172px,#b1f159 179px,#9ff16c 182px,#81f18a 184px,#b7f054 193px,#91f17a 199px,#b9f152 201px)"></i><i style="left:206px;top:296px;width:2px;height:202px;background:linear-gradient(#5d0c0b 0px,#650c0b 15px,#790d0d 20px,#5e0c0b 32px,#a71718 40px,#c52a21 48px,#c52820 59px,#c92e22 63px,#e58522 69px,#d65723 80px,#d04323 88px,#db6723 94px,#e17822 97px,#e48222 100px,#ecce23 103px,#f1c921 114px,#edb421 117px,#c2eb4a 122px,#8bf17f 134px,#b3f158 137px,#daf031 140px,#e5ec27 150px,#e79222 157px,#eba322 159px,#f1df20 161px,#dcf12e 164px,#cdf13d 173px,#c1f149 177px,#e0e12e 183px,#e89622 189px,#f0b821 192px,#ece622 194px,#94f177 198px,#9af170 201px)"></i><i style="left:208px;top:296px;width:2px;height:202px;background:linear-gradient(#770d0d 0px,#640c0b 14px,#800e0f 41px,#aa1619 47px,#c0241f 55px,#ae181a 62px,#df7122 69px,#d85c23 74px,#c0231f 81px,#cd3d22 91px,#ca3322 95px,#de7023 104px,#d55322 109px,#db6722 114px,#d55423 117px,#f0b021 121px,#ddd730 125px,#d3de3a 132px,#d6f134 137px,#ece821 141px,#e17c22 154px,#ce3d23 157px,#d55323 159px,#e7b924 162px,#dfec2d 167px,#ccf13e 170px,#c3f148 173px,#b9f151 176px,#ebde24 179px,#e27b22 187px,#e07622 190px,#f1c721 194px,#d6d636 199px,#cfcc3b 201px)"></i><i style="left:210px;top:296px;width:2px;height:202px;background:linear-gradient(#a21517 0px,#921113 7px,#730d0c 23px,#881011 31px,#760d0d 40px,#b3191b 54px,#9c1315 62px,#c92f22 66px,#dc6823 72px,#cb3623 79px,#bf221f 83px,#c92f22 104px,#c82c21 117px,#da6223 119px,#eea622 121px,#e68a22 124px,#d75823 128px,#d85b23 131px,#f1d121 135px,#eae723 140px,#eea622 144px,#cf4023 149px,#c82d22 156px,#cc3723 162px,#f1cb21 167px,#e1f12a 168px,#a7f164 170px,#c7ed45 176px,#f1d121 178px,#eda322 180px,#f1b721 185px,#e07722 189px,#eea622 193px,#cb3723 201px)"></i><i style="left:212px;top:296px;width:1px;height:202px;background:linear-gradient(#f8e7e6 0px,#fcf2e7 133px,#fbede7 147px,#fcf2e7 165px,#fdf3e7 186px,#f9e8e7 201px)"></i><i style="left:214px;top:296px;width:1px;height:202px;background:linear-gradient(#82adf7 0px,#82aaf7 18px,#8295f7 42px,#7d7dec 134px,#8283f7 201px)"></i><i style="left:215px;top:296px;width:1px;height:202px;background:linear-gradient(#71e59b 0px,#7ce990 14px,#2fbde0 27px,#26a9e8 53px,#2053f1 71px,#2044f1 103px,#203cf1 131px,#1717db 135px,#1818e1 164px,#2030f1 167px,#2036f1 201px)"></i><i style="left:216px;top:296px;width:1px;height:202px;background:linear-gradient(#e3c129 0px,#e7b425 12px,#cfe93e 19px,#80f18a 28px,#7af190 48px,#57efb4 57px,#22b3ee 70px,#2082f1 84px,#207ef1 101px,#21a5ef 113px,#205cf1 133px,#1919e4 135px,#1a20e5 163px,#204df1 166px,#2069f1 186px,#205cf1 201px)"></i><i style="left:217px;top:296px;width:1px;height:202px;background:linear-gradient(#d45223 0px,#d34d23 12px,#e79222 18px,#e3e32b 24px,#c7f143 33px,#c9f041 47px,#a9f161 56px,#34e7d8 75px,#29d5e5 84px,#27cfe8 100px,#40eecb 113px,#21c8ee 126px,#20acf1 133px,#1b40e7 137px,#1717de 140px,#1818e0 159px,#2071f1 163px,#209ef1 176px,#26c5e9 181px,#209af1 194px,#209ff1 201px)"></i><i style="left:218px;top:296px;width:1px;height:202px;background:linear-gradient(#b91f1d 0px,#bd221e 13px,#d85c23 19px,#f0c921 27px,#f0d221 36px,#efcf21 48px,#d7ef34 57px,#4ff1bb 78px,#49f1c1 83px,#61f1aa 90px,#4af1c1 101px,#64f1a7 113px,#2ae9e0 119px,#22ddea 128px,#2ce0e1 136px,#23c5ec 138px,#1b42e4 144px,#1b4be6 147px,#1f66e5 149px,#1e69e6 154px,#1e81ed 157px,#208cf1 159px,#20b7f1 161px,#35e1d8 174px,#3af1d1 183px,#20c2f1 189px,#21d5ec 195px,#2fe6dc 201px)"></i><i style="left:219px;top:296px;width:2px;height:202px;background:linear-gradient(#7b0f0f 0px,#790f0f 11px,#c73021 20px,#e68b22 29px,#e68a22 37px,#e38022 50px,#eec322 58px,#c2f148 67px,#8cf17f 75px,#74f196 82px,#aaf160 88px,#88f183 96px,#6cf19f 100px,#a4f167 112px,#45f0c6 119px,#25dde9 128px,#2ce8df 132px,#4cf1be 135px,#21daec 140px,#40efcb 144px,#30efda 154px,#20d7ef 159px,#4ef1bd 169px,#55f1b6 173px,#62f1a9 176px,#44f0c7 181px,#32f0d9 185px,#20bef1 188px,#20b9f1 192px,#25e2e6 195px,#54f1b7 199px,#4af1c0 201px)"></i><i style="left:221px;top:296px;width:2px;height:202px;background:linear-gradient(#590d0b 0px,#630c0b 15px,#b51a1c 21px,#d34c23 37px,#d14623 50px,#dc6a23 57px,#ede022 67px,#c3f148 74px,#b0f15b 82px,#ebd925 88px,#ecd624 92px,#deee2e 95px,#8af181 99px,#a6f164 106px,#b4f157 109px,#e6de29 112px,#d2df3c 118px,#6af1a1 127px,#5cf1af 132px,#63f1a8 135px,#34eed6 137px,#20b8f1 139px,#20bff1 141px,#3ef1cc 144px,#78f193 149px,#31eeda 153px,#23d5ed 158px,#43f1c8 160px,#69f1a2 162px,#4bf1bf 172px,#2de1e0 175px,#208df0 180px,#20d9ed 186px,#2be1e1 194px,#5ef1ad 199px,#59f1b1 201px)"></i><i style="left:223px;top:296px;width:2px;height:202px;background:linear-gradient(#590d0b 0px,#610c0b 16px,#a81618 24px,#a61518 32px,#c92f22 42px,#cd3b23 56px,#cc3822 59px,#eed022 70px,#d9ef33 82px,#efb521 86px,#e68922 90px,#ebe721 95px,#bcf14e 99px,#d2f138 104px,#ecbf23 108px,#f1d421 121px,#c1f14a 130px,#a1f16a 132px,#44f1c6 135px,#2edddf 138px,#31dadd 141px,#6af1a1 145px,#7cf18f 150px,#54f1b7 154px,#61f1aa 168px,#6ff19b 171px,#38e9d4 175px,#2092f1 178px,#2070f1 180px,#2be9e0 187px,#56f1b5 191px,#84f187 194px,#75f195 201px)"></i><i style="left:225px;top:296px;width:2px;height:202px;background:linear-gradient(#650c0b 0px,#690c0b 16px,#931213 29px,#ca3423 47px,#c62921 57px,#ca3323 61px,#ce4921 68px,#e38222 73px,#eba322 79px,#efb721 82px,#e78f22 87px,#ebab21 97px,#f1c721 105px,#f0b521 115px,#eda922 118px,#e8e825 122px,#e2f129 128px,#eddf22 131px,#96f174 135px,#9bf170 141px,#bfef4d 144px,#9ef16d 154px,#51f1ba 162px,#8df17d 171px,#65f1a5 177px,#48e5c4 180px,#69f1a2 193px,#ccee3f 198px,#b2f159 201px)"></i><i style="left:227px;top:296px;width:2px;height:202px;background:linear-gradient(#700c0c 0px,#820f0f 27px,#c22620 46px,#cd3c23 51px,#b61b1c 70px,#e07522 83px,#e48422 94px,#d95f23 100px,#f1c521 106px,#e9e824 110px,#f1bc21 114px,#df7422 117px,#e38122 119px,#eabf23 122px,#dbf12f 126px,#f1c721 131px,#ebd125 136px,#edac21 143px,#eaeb22 147px,#aef15d 154px,#9aef72 162px,#b8f153 170px,#b8f152 177px,#a7f164 181px,#9cf16e 184px,#86f185 187px,#75f196 190px,#60f1ab 192px,#80f18b 194px,#e3f028 197px,#f1cb21 199px,#ebe225 201px)"></i><i style="left:229px;top:296px;width:2px;height:202px;background:linear-gradient(#760d0d 0px,#790d0e 24px,#760d0d 29px,#a41518 46px,#c32920 51px,#c93022 60px,#b71a1c 64px,#ca3223 68px,#b3181b 72px,#d65623 83px,#db6523 90px,#f1c221 94px,#eca522 97px,#e58922 99px,#eca522 101px,#f1d621 103px,#eddb22 112px,#ec9f22 115px,#dc6a23 118px,#dc6923 121px,#e99422 123px,#f1dd20 125px,#e4ef26 127px,#edaa21 143px,#e5e42a 146px,#a0f16a 150px,#8cf17f 153px,#dee22f 157px,#ea9e22 162px,#e4e929 165px,#cbf140 167px,#e8eb24 172px,#cdf13e 178px,#c9f142 181px,#e0d92d 184px,#cddd3f 193px,#ece820 198px,#efdf21 201px)"></i><i style="left:231px;top:296px;width:2px;height:202px;background:linear-gradient(#961214 0px,#911113 13px,#931213 24px,#790d0d 30px,#8b1011 43px,#b91b1d 61px,#b6191c 64px,#ce3e23 68px,#c72c22 73px,#dd6d23 86px,#ece322 98px,#f1dd20 104px,#e68c22 113px,#f1c221 117px,#e58822 121px,#f1e020 126px,#f0cf21 131px,#d3f138 134px,#e2ec2a 142px,#e4ec28 144px,#72f199 148px,#77f194 150px,#dcee2f 154px,#efb121 156px,#de6e23 159px,#e27b22 162px,#eedc21 166px,#d2f139 170px,#f0dd21 177px,#e6ea26 180px,#f0b621 182px,#db6723 184px,#db6423 186px,#e78f22 189px,#d45023 193px,#e17922 195px,#f1cc21 197px,#e1ed2b 201px)"></i><i style="left:233px;top:296px;width:1px;height:202px;background:linear-gradient(#de999b 0px,#d09797 44px,#eeb79e 83px,#f0f9a3 101px,#f5cd9e 111px,#f6d39e 122px,#f2f8a1 129px,#f5f69f 145px,#cef9c5 149px,#f9ef9d 154px,#f0bd9e 160px,#f5f69e 171px,#f9e89d 181px,#efba9e 185px,#ecb09e 191px,#eaab9e 194px,#f9e69d 198px,#f9ea9d 201px)"></i><i style="left:235px;top:296px;width:1px;height:202px;background:linear-gradient(#ccd0fc 0px,#cbcbfc 201px)"></i><i style="left:236px;top:296px;width:1px;height:202px;background:linear-gradient(#52b7bc 0px,#278de9 34px,#2037f1 72px,#1e29ef 118px,#1616da 123px,#1818df 154px,#2033f1 158px,#1e27ee 174px,#1616da 180px,#202bf1 188px,#202af1 201px)"></i><i style="left:237px;top:296px;width:1px;height:202px;background:linear-gradient(#dbbc2f 0px,#d2d83b 13px,#8cf17f 32px,#55e9b7 44px,#2dc8e1 58px,#2081f1 74px,#2085f1 89px,#208af1 103px,#206cf1 116px,#2051f1 119px,#1919e2 121px,#1919e2 153px,#1e32ee 154px,#206bf1 155px,#2075f1 158px,#205af1 174px,#1818e1 177px,#1b27e7 181px,#2058f1 184px,#2051f1 201px)"></i><i style="left:238px;top:296px;width:1px;height:202px;background:linear-gradient(#cc3e21 0px,#d75b23 11px,#edc623 26px,#bef14d 39px,#84f187 56px,#33dfda 72px,#31e1dc 88px,#37e7d5 103px,#2bd5e3 115px,#209af1 120px,#1c37e9 122px,#1818e0 125px,#191be0 149px,#1b42e5 151px,#2582e8 153px,#29bce5 154px,#2ddbe0 155px,#23b7ed 169px,#22b1ee 175px,#2185ed 177px,#20a8f0 183px,#2096f1 198px,#2094f1 201px)"></i><i style="left:239px;top:296px;width:1px;height:202px;background:linear-gradient(#9e1416 0px,#c73021 14px,#edd722 39px,#cbf140 55px,#84f187 68px,#53f1b7 84px,#70f19b 101px,#33e5d9 121px,#1e69e7 130px,#1a39e4 134px,#1a35e4 138px,#1818e0 141px,#1925e2 144px,#35d7d7 150px,#3ff1cb 153px,#36f1d5 160px,#38efd3 168px,#3defce 176px,#28dde6 192px,#35e6d7 200px,#2fe4dd 201px)"></i><i style="left:240px;top:296px;width:2px;height:202px;background:linear-gradient(#650c0b 0px,#881011 12px,#be261f 22px,#e89422 43px,#edbd22 55px,#dfe62e 60px,#b2f159 74px,#85f186 82px,#9cf16f 95px,#c4ef47 99px,#94f176 109px,#65f1a6 113px,#65f1a6 122px,#2beadf 126px,#24c9e9 140px,#43f1c7 148px,#5af1b1 158px,#46f1c4 163px,#73f197 171px,#63f1a8 178px,#63f1a7 181px,#34f0d7 186px,#3cf0ce 191px,#6cf19e 198px,#53f1b8 201px)"></i><i style="left:242px;top:296px;width:2px;height:202px;background:linear-gradient(#600c0b 0px,#6a0d0c 17px,#c22920 34px,#d34e23 42px,#d85b23 55px,#e38422 61px,#e9dc26 75px,#c4f147 82px,#c9f141 86px,#97f173 90px,#bbf150 94px,#e2eb2b 96px,#eeb021 99px,#edd123 103px,#d1f13a 106px,#63f1a8 112px,#74f196 118px,#53f1b7 123px,#30f0db 127px,#45f1c6 131px,#2ee9dd 135px,#79f192 145px,#6ff19b 150px,#4cf1bf 153px,#99f171 157px,#aaf161 167px,#caed42 171px,#62f1a8 177px,#5df1ae 182px,#6cf19f 191px,#9df16d 200px,#96f175 201px)"></i><i style="left:244px;top:296px;width:2px;height:202px;background:linear-gradient(#620c0b 0px,#600c0b 27px,#c72b21 38px,#c62a21 43px,#c93123 47px,#cc3923 51px,#b11a1b 55px,#ca3821 65px,#e89022 75px,#edaf21 79px,#efc021 83px,#eae823 86px,#b7f154 90px,#e5df29 94px,#e68822 99px,#e68b22 102px,#f1d821 105px,#c8f143 107px,#57f1b4 112px,#80f18b 115px,#97f174 118px,#79f191 123px,#42f1c9 128px,#2bdfe2 131px,#72f199 136px,#b9f152 144px,#91f179 152px,#c8f143 160px,#eae824 164px,#e99a22 170px,#f0bf21 172px,#e6e527 173px,#43f1c8 177px,#27dee7 178px,#24baec 180px,#26d6e9 183px,#4ef1bd 185px,#aef15c 189px,#e0ed2b 199px,#c6f144 201px)"></i><i style="left:246px;top:296px;width:2px;height:202px;background:linear-gradient(#6b0c0b 0px,#5b0d0b 29px,#991315 35px,#ba1d1d 42px,#c52720 47px,#ca3423 51px,#ac1619 56px,#9f1416 63px,#cb3623 69px,#cb3922 73px,#dc6823 77px,#db6723 82px,#e9a322 88px,#e9a622 91px,#db6823 96px,#df7322 103px,#dfc52d 109px,#bbe851 113px,#dfeb2d 120px,#baf151 123px,#41e7cb 130px,#5bf1b0 133px,#a4f167 138px,#bff14c 141px,#e8da27 144px,#e4e02a 151px,#e3e12b 155px,#d1eb3b 159px,#e6ee25 163px,#e78f22 169px,#e78d22 171px,#f1cf21 173px,#dbf12f 174px,#5defae 178px,#48e4c4 182px,#63f1a8 185px,#a5f166 189px,#c4f047 198px,#adf15e 201px)"></i><i style="left:248px;top:296px;width:2px;height:202px;background:linear-gradient(#770d0d 0px,#600c0b 15px,#660c0b 31px,#7e0e0f 36px,#c2251f 49px,#b2171b 56px,#a01417 63px,#c93023 66px,#cd3c23 69px,#ba1e1d 73px,#cb3522 87px,#ca3222 98px,#d34e23 105px,#d24b23 109px,#e58b22 114px,#ecd023 117px,#f1c921 121px,#d3f137 123px,#72f199 126px,#73f197 129px,#8bf180 135px,#c8f043 139px,#deee2e 141px,#f1c021 143px,#eeac21 146px,#e89422 152px,#f1bd21 158px,#ece521 162px,#f1ba21 168px,#eca022 171px,#ebe123 174px,#bdf14e 178px,#88f182 191px,#8bf180 201px)"></i><i style="left:250px;top:296px;width:2px;height:202px;background:linear-gradient(#760d0d 0px,#670c0b 24px,#710c0c 32px,#780d0d 38px,#c2251f 48px,#af171a 56px,#ab1619 61px,#cc3a23 70px,#ba1d1d 82px,#cf4123 86px,#c32520 95px,#c92e22 105px,#d45023 109px,#cb3422 113px,#f1c621 119px,#ebe721 120px,#aff15b 124px,#8af181 130px,#b4f156 135px,#e1e82c 137px,#efbb21 139px,#f1ca21 141px,#e5ed26 143px,#f1cd21 146px,#d85d23 152px,#dd6d23 154px,#f1cb21 158px,#eeaf21 163px,#eda322 168px,#eca522 175px,#e5ea28 178px,#c6f145 180px,#e5dd2a 185px,#b8f153 198px,#99f171 201px)"></i><i style="left:252px;top:296px;width:2px;height:202px;background:linear-gradient(#8b1011 0px,#7e0e0e 19px,#730c0c 29px,#8b1011 41px,#c32520 46px,#bd201e 60px,#ca3423 71px,#cb3523 88px,#c62a21 96px,#c92f22 109px,#eca022 118px,#e4ed27 121px,#eeb321 136px,#d85d23 139px,#d95f23 140px,#f1d121 143px,#f1d621 144px,#d24a23 148px,#cf4223 150px,#e07622 155px,#e89122 159px,#de7023 167px,#efde20 177px,#e2ed29 181px,#eca322 184px,#eda522 186px,#eae723 192px,#d5f135 195px,#d3f037 201px)"></i><i style="left:254px;top:296px;width:1px;height:202px;background:linear-gradient(#be4b4e 0px,#b2494b 16px,#a34748 29px,#b3494b 42px,#d55c54 48px,#d76556 88px,#da6c56 95px,#d35a54 99px,#d86756 110px,#eda855 118px,#f4dc54 121px,#f4d354 126px,#f1b755 134px,#ea9e55 137px,#e18055 140px,#f4c754 143px,#f0b555 145px,#d96956 148px,#da6c56 151px,#e69355 160px,#df7b56 167px,#f2bd54 171px,#f4d354 181px,#eaa055 185px,#f4c654 190px,#f2e054 195px,#f3e154 201px)"></i><i style="left:257px;top:296px;width:1px;height:202px;background:linear-gradient(#4aaddc 0px,#3667f3 48px,#3641f3 77px,#363df3 121px,#2e2edf 128px,#3030e7 169px,#363df3 182px,#363ef3 201px)"></i><i style="left:258px;top:296px;width:1px;height:202px;background:linear-gradient(#c0dd4d 0px,#a2ef69 14px,#62eaaa 34px,#45dac9 47px,#2089f1 61px,#205df1 76px,#2061f1 92px,#2055f1 121px,#1818e0 124px,#1818e1 168px,#2049f1 170px,#204ef1 201px)"></i><i style="left:259px;top:296px;width:1px;height:202px;background:linear-gradient(#da6322 0px,#e58d22 11px,#e1de2d 23px,#adf15d 46px,#36e1d7 63px,#22b6ee 76px,#28cae7 89px,#25bcea 117px,#22a8ee 122px,#208ff1 123px,#1e45f0 124px,#1a1ae5 125px,#191ce0 165px,#209cf1 170px,#2091f1 188px,#2098f1 201px)"></i><i style="left:260px;top:296px;width:1px;height:202px;background:linear-gradient(#b41d1c 0px,#cd3c22 12px,#eeb321 29px,#e6e128 47px,#62f1a8 66px,#4af0c1 78px,#53f1b7 88px,#43f1c8 114px,#3febcd 123px,#3ad8d3 124px,#339cdc 125px,#191ee1 131px,#191ce0 140px,#1a3ce4 143px,#1a37e4 147px,#1819e0 149px,#191de1 160px,#30dedc 166px,#31e7db 175px,#2be5e1 201px)"></i><i style="left:261px;top:296px;width:1px;height:202px;background:linear-gradient(#7e0f0f 0px,#c0251f 15px,#e48222 34px,#ea9b22 46px,#e1eb2b 55px,#97f174 66px,#7ff18b 78px,#84f186 85px,#60f1ab 103px,#6cf19f 115px,#76f195 122px,#58eeb2 129px,#3b9ecd 134px,#43c5c9 138px,#41d9cb 141px,#30e9dc 145px,#30e2dc 147px,#2dc0e0 149px,#36c0d7 154px,#2a97df 157px,#28a3e4 159px,#28e6e3 162px,#4af1c0 168px,#42f1c9 183px,#4bf1c0 194px,#30efdb 199px,#3bf1cf 201px)"></i><i style="left:262px;top:296px;width:2px;height:202px;background:linear-gradient(#5e0c0b 0px,#7c0f0f 13px,#b9201d 21px,#d24923 42px,#e27c22 51px,#e7e027 60px,#b5f156 77px,#adf15e 90px,#85f185 100px,#b0f15a 121px,#6df19d 137px,#64f1a7 141px,#3af1d0 144px,#49f1c2 158px,#2febdc 162px,#68f1a3 167px,#5df1ae 173px,#5ff1ab 186px,#57f1b3 193px,#36f0d4 199px,#49f1c2 201px)"></i><i style="left:264px;top:296px;width:2px;height:202px;background:linear-gradient(#580d0b 0px,#6b0c0b 11px,#720c0c 17px,#b41a1c 34px,#cf4023 51px,#efb321 64px,#f1c721 69px,#e4ed27 75px,#d4f136 82px,#d1f13a 91px,#b7f153 96px,#d9f032 105px,#d3eb39 109px,#e9c925 113px,#d2f139 117px,#73f198 132px,#49f0c2 141px,#25dae9 144px,#58f1b3 148px,#49f1c1 150px,#23d6ec 153px,#4ef1bd 158px,#49f1c2 162px,#8ff17c 169px,#9bf16f 173px,#b2f159 176px,#8bf17f 182px,#56f1b5 185px,#59f1b2 190px,#2fe9dc 193px,#4ef1bd 200px,#4df1be 201px)"></i><i style="left:266px;top:296px;width:2px;height:202px;background:linear-gradient(#5b0d0b 0px,#700c0c 16px,#710d0c 25px,#951214 35px,#c82d22 51px,#ea9822 69px,#f0c521 74px,#e7df27 81px,#e68d22 85px,#eca822 87px,#e8e924 89px,#9df16d 94px,#9ff16c 95px,#ddf12d 97px,#f1bb21 99px,#efe321 101px,#c2f149 103px,#d6f134 105px,#f1cc21 107px,#e89022 110px,#da6223 112px,#e27d22 114px,#f0bf21 116px,#d3ef39 122px,#c3ed48 128px,#caec42 131px,#76f194 136px,#3af0d1 139px,#55f1b5 149px,#34e9d7 153px,#52f1b8 159px,#4ef1bc 162px,#aaf161 167px,#86f184 176px,#dcf12f 179px,#e8ea24 180px,#d7f134 181px,#57f1b3 184px,#3df1ce 187px,#4af1c0 191px,#76f194 196px,#71f19a 200px,#66f1a4 201px)"></i><i style="left:268px;top:296px;width:2px;height:202px;background:linear-gradient(#5f0c0b 0px,#680b0b 21px,#6d0c0b 30px,#af171a 42px,#b91c1d 51px,#ca3222 59px,#c73221 64px,#de7023 72px,#db6622 80px,#d55423 85px,#f0c721 90px,#daf130 96px,#e5e528 100px,#e3ea2a 103px,#e99422 108px,#e27b22 114px,#d65822 117px,#de7222 119px,#eca922 121px,#e9a022 123px,#db6c22 126px,#e9d526 134px,#c5f046 136px,#62f1a8 139px,#6ef19d 141px,#9ef16d 144px,#66f1a4 153px,#cde140 157px,#cce241 162px,#daef31 167px,#9bf16f 171px,#9ff16c 176px,#ebe921 180px,#b3f158 182px,#6cf19e 184px,#8ef17c 187px,#aaf161 190px,#6af1a0 201px)"></i><i style="left:270px;top:296px;width:2px;height:202px;background:linear-gradient(#680c0b 0px,#730c0c 34px,#b1171b 41px,#951214 46px,#ba1d1d 60px,#bd1f1e 65px,#cc3723 73px,#bd201e 84px,#d44f23 87px,#efe320 94px,#dfe82d 101px,#efad21 107px,#db6423 114px,#c82d22 117px,#d34e23 120px,#da6123 122px,#cc3722 127px,#da6123 132px,#f1d821 136px,#c6f045 138px,#b2f159 140px,#cbf140 144px,#a9f162 152px,#c5f146 154px,#e2ea2a 155px,#efab22 157px,#e68a22 160px,#f1ba21 164px,#e1ef2a 167px,#92f179 176px,#caf141 180px,#bce950 184px,#efde21 190px,#b5f156 196px,#93f178 200px,#94f177 201px)"></i><i style="left:272px;top:296px;width:2px;height:202px;background:linear-gradient(#7a0d0e 0px,#6f0c0b 30px,#7b0e0e 38px,#830f10 42px,#780d0d 46px,#a61518 50px,#c2251f 65px,#c83022 74px,#c93122 86px,#e38022 92px,#eba622 94px,#e79822 96px,#da6622 99px,#d65822 105px,#e27c22 108px,#c92f22 118px,#e17a22 128px,#e68e22 132px,#f1be21 135px,#e8a522 140px,#dfee2c 146px,#d4f137 151px,#f1d221 156px,#e89122 161px,#eb9b22 163px,#e8e126 167px,#e9e624 172px,#b4f157 175px,#e7ec25 182px,#efb321 186px,#efae21 190px,#eda822 193px,#e5ed26 196px,#b8f152 199px,#c8f143 201px)"></i><i style="left:274px;top:296px;width:2px;height:202px;background:linear-gradient(#9f1516 0px,#7b0e0e 24px,#891011 30px,#770d0d 38px,#6b0c0b 44px,#a91519 52px,#c72c21 61px,#d04323 74px,#d34c23 78px,#cc3723 82px,#d04323 88px,#d44e23 92px,#d75823 94px,#c62920 97px,#cc3822 109px,#d75b23 113px,#ca3223 117px,#cf4223 122px,#f1db20 130px,#f1c221 133px,#cb3422 139px,#ce3e23 141px,#f1d221 146px,#d4f037 148px,#d1f13a 150px,#f0da21 153px,#f1cb21 158px,#e99322 162px,#f0cc21 175px,#dee52f 184px,#eca222 188px,#dc6823 192px,#e38022 194px,#f1d821 196px,#d7f134 197px,#bcf14f 199px,#dcf12f 201px)"></i><i style="left:276px;top:296px;width:1px;height:202px;background:linear-gradient(#f9e9e9 0px,#fdf4e9 127px,#fdf7e9 145px,#fef9e9 196px,#fafeec 201px)"></i><i style="left:278px;top:296px;width:1px;height:202px;background:linear-gradient(#85c1f1 0px,#8082f7 84px,#7c7cee 152px,#8082f7 201px)"></i><i style="left:279px;top:296px;width:1px;height:202px;background:linear-gradient(#a9e563 0px,#4ed9be 38px,#2ab0e5 52px,#2061f1 68px,#2047f1 92px,#2054f1 116px,#2033f1 124px,#1717dd 126px,#1a1ae6 152px,#2042f1 154px,#2044f1 201px)"></i><i style="left:280px;top:296px;width:1px;height:202px;background:linear-gradient(#dc6c22 0px,#e69c22 11px,#dfdc2f 22px,#a5f165 46px,#38dfd5 62px,#2097f1 79px,#208bf1 90px,#22acee 103px,#29c7e5 113px,#2099f1 120px,#2072f1 124px,#2057f1 125px,#1c1feb 126px,#1616da 132px,#1717dc 151px,#1d1def 152px,#2071f1 153px,#2086f1 155px,#2076f1 187px,#2087f1 201px)"></i><i style="left:281px;top:296px;width:1px;height:202px;background:linear-gradient(#b31d1c 0px,#cc3b22 11px,#efbd21 32px,#dfe92e 48px,#5af1b0 69px,#2ddbe0 85px,#41eec9 102px,#5bf1af 113px,#2fdfde 122px,#25c0e9 125px,#2085f0 126px,#1d27ed 127px,#1616da 131px,#1818e0 151px,#202ff1 152px,#23caeb 153px,#2fe0de 155px,#23c5eb 184px,#27dde6 197px,#24d7ea 201px)"></i><i style="left:282px;top:296px;width:1px;height:202px;background:linear-gradient(#7c0e0e 0px,#c32720 15px,#e58622 35px,#eda722 46px,#e1ea2c 55px,#5bf1b0 82px,#64f1a7 101px,#9cf16f 112px,#4ff1bc 122px,#3aebd1 126px,#205cec 128px,#1b2fe5 129px,#1717dc 131px,#1a1ee5 150px,#2465e9 151px,#3cc8d2 152px,#53f1b8 153px,#27e5e4 166px,#41f1ca 190px,#43f1c8 195px,#22ddea 201px)"></i><i style="left:283px;top:296px;width:2px;height:202px;background:linear-gradient(#650c0b 0px,#770d0d 11px,#c72f21 26px,#da6323 46px,#ebda25 62px,#b0f15b 76px,#a2f169 85px,#99f171 103px,#deed2e 110px,#cbf140 114px,#6ef19c 123px,#4ef0bd 128px,#35b0d4 132px,#2a48d1 137px,#3877cb 144px,#419cc3 146px,#53b5b6 149px,#75f196 151px,#84f186 154px,#5bf1b0 163px,#2ae2e2 168px,#51f1ba 181px,#38f1d3 185px,#67f1a4 193px,#25e2e6 200px,#23ddea 201px)"></i><i style="left:285px;top:296px;width:2px;height:202px;background:linear-gradient(#610c0b 0px,#7a0e0e 19px,#9b1315 25px,#c72e21 46px,#f0c521 68px,#efc921 73px,#d5ef36 77px,#deea2f 88px,#c0f14b 105px,#e4ea29 117px,#aef15d 121px,#37f0d4 128px,#23d2ed 130px,#32eed8 132px,#8ef17d 135px,#c1f14a 140px,#80f18a 146px,#5cf1af 149px,#d1e73b 157px,#c6e547 162px,#7cf18f 169px,#6ef19c 173px,#61f1aa 176px,#90f17a 180px,#49f1c2 186px,#53f1b8 195px,#3df1ce 199px,#49f1c2 201px)"></i><i style="left:287px;top:296px;width:2px;height:202px;background:linear-gradient(#5f0c0b 0px,#6f0c0b 24px,#730d0d 32px,#a01416 38px,#be211e 47px,#d34b23 56px,#df7222 61px,#e38022 70px,#eee221 82px,#efaf21 90px,#e7ed25 96px,#e1e42d 105px,#e7ca27 108px,#dee62f 113px,#f0c421 118px,#d7ec35 121px,#65f1a6 128px,#69f1a2 132px,#ddf12d 139px,#deee2d 144px,#75f195 148px,#80f18b 150px,#e0ed2b 154px,#eea722 157px,#df7322 160px,#e27b22 162px,#eee222 165px,#b4f156 168px,#85f186 182px,#3cf1cf 186px,#21bfef 188px,#20b1f1 189px,#27dbe7 191px,#5bf1b0 193px,#79f191 201px)"></i><i style="left:289px;top:296px;width:2px;height:202px;background:linear-gradient(#690c0b 0px,#6e0c0b 17px,#690b0b 25px,#690d0c 35px,#7a0e0e 42px,#a61618 49px,#ca3622 58px,#e07522 75px,#ea9722 78px,#f1cb21 81px,#f1b521 87px,#e68a22 90px,#f0bf21 96px,#e9eb24 99px,#e99722 105px,#e89122 110px,#ea9a22 113px,#e17b22 119px,#ddd031 127px,#dccc31 131px,#b7f154 135px,#dcf12f 142px,#e9eb23 145px,#b7f154 148px,#bff14b 154px,#ead825 157px,#e9c224 162px,#e4f027 166px,#e8d727 171px,#b6f155 176px,#90f17b 181px,#b2e55b 191px,#c8ec44 196px,#acf15f 201px)"></i><i style="left:291px;top:296px;width:2px;height:202px;background:linear-gradient(#6f0c0b 0px,#620c0b 15px,#660c0b 24px,#830f10 28px,#580d0b 39px,#981215 52px,#c32720 62px,#d65623 71px,#d75923 77px,#eca522 81px,#eb9c22 87px,#e48422 91px,#e99422 95px,#e4f026 99px,#f1cf21 101px,#dc6923 104px,#ce3e22 110px,#cc3622 122px,#df7123 131px,#efd021 134px,#d1f03a 137px,#d3f138 142px,#f0d821 146px,#e7c626 150px,#cce341 154px,#dee62f 158px,#d0f13b 162px,#eddd22 165px,#ea9922 170px,#f1b321 172px,#e3ee28 174px,#b3f158 176px,#c7ef44 183px,#edd323 186px,#e89122 189px,#eb9b22 191px,#f1c121 194px,#e3de2b 201px)"></i><i style="left:293px;top:296px;width:2px;height:202px;background:linear-gradient(#730c0c 0px,#7d0e0e 25px,#650c0b 44px,#ba1d1d 61px,#cf4322 73px,#d34f23 81px,#eca122 95px,#eae124 99px,#f1c321 101px,#dd6b23 104px,#c72a21 112px,#ca3322 127px,#e07622 132px,#efc021 137px,#ebcf24 143px,#edaf21 145px,#d65723 148px,#d45023 151px,#da6422 158px,#e6a723 162px,#e88f22 167px,#f1cc21 172px,#ebe922 173px,#abf160 176px,#d9f132 178px,#f0cd21 180px,#f1c121 184px,#e68b22 189px,#e79022 200px,#e58822 201px)"></i><i style="left:295px;top:296px;width:2px;height:202px;background:linear-gradient(#901113 0px,#961214 24px,#790d0d 32px,#8c1012 37px,#6a0c0b 45px,#c0231f 55px,#c1231f 66px,#b81c1d 74px,#ce3d23 77px,#ba1c1d 81px,#bc1f1e 82px,#e27b22 85px,#e37e22 88px,#e38022 94px,#ea9722 100px,#d75a23 104px,#eb9e22 108px,#d96023 110px,#cc3a23 111px,#c72a21 114px,#c92e22 118px,#db6723 121px,#d55323 123px,#c82a21 125px,#cb3423 129px,#d55123 132px,#e48422 140px,#cf4223 147px,#c82d22 154px,#ce3e23 164px,#f1d021 170px,#e6ee25 173px,#c5f145 176px,#ece722 182px,#efaa22 186px,#efb021 189px,#d04423 192px,#ca3423 195px,#d85c23 200px,#de7023 201px)"></i><i style="left:297px;top:296px;width:1px;height:202px;background:linear-gradient(#df9c9d 0px,#d69a9b 26px,#d09999 48px,#e8a8a1 61px,#e7a4a0 75px,#e9a9a1 83px,#f2c5a0 87px,#f3c7a0 101px,#f0bda0 105px,#f8dba0 108px,#e7a4a0 113px,#edb6a0 120px,#ebafa0 124px,#e9a9a1 129px,#f0bfa0 141px,#e8a7a1 146px,#e8a8a0 165px,#f9f19f 171px,#f9e5a0 184px,#efbca0 191px,#e8a7a0 195px,#eeb8a0 201px)"></i><i style="left:299px;top:296px;width:1px;height:202px;background:linear-gradient(#cacffc 0px,#c9c9fc 201px)"></i><i style="left:300px;top:296px;width:1px;height:202px;background:linear-gradient(#5fbbae 0px,#2790e9 23px,#2032f1 86px,#2029f1 127px,#1717db 133px,#1919e2 149px,#2029f1 153px,#202cf1 201px)"></i><i style="left:301px;top:296px;width:1px;height:202px;background:linear-gradient(#dfa529 0px,#c1e64b 11px,#6ef19d 31px,#37d5d6 57px,#21a0ef 74px,#206df1 83px,#207df1 115px,#204cf1 128px,#1a1ae6 130px,#1717dc 148px,#1b1bea 149px,#2044f1 150px,#2055f1 193px,#2057f1 201px)"></i><i style="left:302px;top:296px;width:1px;height:202px;background:linear-gradient(#c12c1f 0px,#e07822 10px,#ebc524 17px,#caef41 31px,#96f175 55px,#5af1b0 69px,#2bd3e3 80px,#29d1e5 87px,#2fdcdf 117px,#21adef 123px,#2089f1 129px,#1c28eb 131px,#1616da 134px,#1818e2 148px,#202cf1 149px,#207bf1 150px,#209cf1 164px,#20a5f0 201px)"></i><i style="left:303px;top:296px;width:1px;height:202px;background:linear-gradient(#871011 0px,#c62f21 10px,#eeaf21 26px,#ecd923 42px,#d3ef37 55px,#9ef16c 66px,#69f1a2 78px,#50f1ba 85px,#51f1ba 107px,#33e3d9 129px,#32dedc 130px,#26b7e8 131px,#1f40f0 132px,#1919e3 133px,#1616db 147px,#1a1ae8 148px,#204df1 149px,#20bdf1 150px,#23d2eb 152px,#2fe7dd 164px,#2ae5e2 172px,#37ecd5 195px,#33edd8 201px)"></i><i style="left:304px;top:296px;width:2px;height:202px;background:linear-gradient(#5d0c0b 0px,#760e0e 7px,#bf261f 15px,#e27e22 36px,#eaa122 53px,#e6e128 60px,#b4f157 77px,#88f183 84px,#84f186 92px,#8ff17c 97px,#92f179 104px,#57f1b4 113px,#69f1a1 121px,#53e5b9 132px,#42beca 133px,#1e48e4 135px,#191ce1 136px,#191ae1 146px,#1d3eeb 147px,#29d4e3 149px,#29e7e2 151px,#52f1b9 159px,#70f19b 162px,#32ecd8 167px,#48f1c2 179px,#6af1a1 187px,#71f19a 191px,#41f1c9 200px,#41f1ca 201px)"></i><i style="left:306px;top:296px;width:2px;height:202px;background:linear-gradient(#600c0b 0px,#660d0c 12px,#bf231f 23px,#c93521 39px,#d24b23 52px,#eda822 62px,#eba522 70px,#dde630 81px,#c4f147 87px,#abf160 91px,#d9ea34 96px,#dbeb31 103px,#89f182 110px,#91f17a 114px,#b2f158 117px,#8cf17f 122px,#41efca 126px,#81f18a 131px,#76f195 135px,#54a6b7 137px,#446ac2 138px,#3d56c1 139px,#518db4 143px,#43c4ca 146px,#36ebd5 147px,#24e1e7 151px,#69f1a2 158px,#8af181 165px,#8ef17c 172px,#70f19b 176px,#79f191 181px,#65f1a5 184px,#b9f151 191px,#a9f161 194px,#39f0d1 201px)"></i><i style="left:308px;top:296px;width:2px;height:202px;background:linear-gradient(#620c0b 0px,#640c0b 15px,#ae181a 27px,#c1231f 45px,#d65823 64px,#cd3f22 70px,#d95f23 77px,#efb521 83px,#e9eb23 86px,#d3eb39 91px,#efd721 94px,#e69222 99px,#eca522 102px,#ebdd24 105px,#b3f157 112px,#d6f134 118px,#98f173 123px,#65f1a6 126px,#7ef18c 128px,#aef15c 131px,#98f173 134px,#bff14c 136px,#e0ec2d 137px,#edb822 139px,#efc122 141px,#d7f133 143px,#27e5e3 148px,#22d3ee 150px,#4df1be 153px,#a7f163 161px,#e1ee29 167px,#b3f157 177px,#9bf170 181px,#bef14d 185px,#e9d327 188px,#f0cf21 191px,#d9f132 193px,#4af1c0 199px,#44efc6 201px)"></i><i style="left:310px;top:296px;width:2px;height:202px;background:linear-gradient(#620c0b 0px,#640c0b 16px,#730d0d 25px,#c32520 44px,#cb3523 64px,#b91b1d 69px,#c83021 76px,#e99b22 85px,#e79122 93px,#dc6923 99px,#e68a22 102px,#eed722 106px,#dbf12f 110px,#eec121 119px,#d9ed32 128px,#e4ee27 132px,#d5ec37 135px,#f1ca21 138px,#efb921 140px,#e5ef26 143px,#82ef89 149px,#78f193 153px,#b8f153 160px,#cbf13f 163px,#bdf14e 168px,#c5f146 176px,#b3f158 181px,#e1f02a 185px,#cbeb41 191px,#8ff17c 199px,#a2f168 201px)"></i><i style="left:312px;top:296px;width:2px;height:202px;background:linear-gradient(#640c0b 0px,#620c0b 29px,#c1251f 45px,#c0221f 65px,#bd1f1e 69px,#e17822 82px,#cd3b23 87px,#cd3d22 93px,#d34d23 96px,#e27e22 100px,#eead21 104px,#e6e627 106px,#bdf14d 108px,#d6f135 110px,#f1d921 111px,#eda222 113px,#eda722 117px,#df7222 120px,#f0d621 131px,#f1c321 135px,#e4f027 141px,#def12c 145px,#f1c921 148px,#ece024 150px,#aff15c 153px,#a2f169 158px,#ece820 162px,#e0f12b 163px,#7ef18c 166px,#a4f167 169px,#b9f151 172px,#bef14d 178px,#e0ed2c 184px,#bdf14e 186px,#74f197 189px,#b0f15b 194px,#e9e026 199px,#edd423 201px)"></i><i style="left:314px;top:296px;width:2px;height:202px;background:linear-gradient(#6a0c0b 0px,#6d0c0c 21px,#5f0c0b 34px,#9d1316 42px,#a81519 47px,#b91b1d 51px,#b0171a 56px,#c62a21 73px,#d24a23 78px,#cb3723 91px,#c52b20 95px,#dd6b23 99px,#db6623 103px,#e78f22 105px,#ece323 108px,#f0db21 110px,#ec9f22 113px,#ece322 116px,#ece322 117px,#e17822 120px,#dd6c23 121px,#f0dc20 128px,#e7ea26 131px,#f1b721 135px,#ebe822 141px,#cdf13e 145px,#def02d 150px,#f0d021 153px,#d0f03b 156px,#c2f149 158px,#f1d021 162px,#c4f147 167px,#eae923 171px,#eeda22 176px,#ccf13e 179px,#c2f149 191px,#ccf03f 194px,#f1c721 198px,#f0b321 201px)"></i><i style="left:316px;top:296px;width:2px;height:202px;background:linear-gradient(#8e1112 0px,#8a1011 24px,#700c0c 34px,#8b1011 39px,#941214 42px,#8c1012 46px,#b91b1d 51px,#af171a 56px,#981315 59px,#c72b21 73px,#bb1d1d 82px,#c72d21 87px,#dd6c23 93px,#e78f22 96px,#f0af21 106px,#f1b821 110px,#e88f22 113px,#eca422 117px,#d34d23 120px,#d55423 122px,#f1c621 126px,#e2f029 130px,#f1dc20 132px,#e99622 135px,#f1c521 141px,#e1ef2a 146px,#bef14d 149px,#dff12c 151px,#f1cd21 153px,#f0bd21 160px,#f1cc21 163px,#eeb521 166px,#def12d 170px,#efd221 186px,#e7eb25 189px,#efaf21 196px,#e89022 201px)"></i><i style="left:318px;top:296px;width:1px;height:202px;background:linear-gradient(#c65152 0px,#ba4d4f 24px,#a6494a 37px,#b14b4d 42px,#ac4a4c 46px,#ce5654 54px,#b64c4e 60px,#d76458 73px,#ca5253 81px,#e28558 92px,#efb157 96px,#f4c257 109px,#e79657 114px,#ea9f57 117px,#db7058 120px,#e58e58 123px,#f5d456 127px,#f4dd56 131px,#efb057 136px,#f5d256 140px,#f5d056 145px,#e2f363 148px,#f5e556 152px,#eba357 159px,#f3c157 167px,#edf05a 171px,#f5dd56 182px,#f3bf57 186px,#efb157 200px,#eda957 201px)"></i><i style="left:321px;top:296px;width:1px;height:202px;background:linear-gradient(#5fbac4 0px,#3fa3e6 21px,#3892ed 36px,#3441f3 68px,#3133ed 144px,#2c2cdf 154px,#343bf3 166px,#343af3 201px)"></i><i style="left:322px;top:296px;width:1px;height:202px;background:linear-gradient(#d6b232 0px,#a2f069 17px,#9ff16b 30px,#3dd4d0 51px,#2073f1 65px,#204ff1 81px,#206af1 103px,#2053f1 134px,#204af1 144px,#1919e4 146px,#1818df 156px,#2049f1 159px,#2049f1 201px)"></i><i style="left:323px;top:296px;width:1px;height:202px;background:linear-gradient(#c02d1f 0px,#dc6b23 10px,#eaac21 16px,#ecc323 30px,#cbee41 42px,#61f1aa 58px,#24c0eb 68px,#2091f1 81px,#2bd6e2 100px,#20a0f0 130px,#20a9f0 141px,#2095f1 145px,#1c3cea 147px,#1818e0 154px,#1a1ce4 155px,#1e3fef 156px,#207cf1 157px,#2091f1 160px,#208af1 201px)"></i><i style="left:324px;top:296px;width:1px;height:202px;background:linear-gradient(#810f10 0px,#c52c20 11px,#d85d23 20px,#df7122 30px,#f0c521 43px,#caf040 54px,#46efc5 70px,#2ddee0 82px,#4ff1bc 99px,#2feedc 137px,#26e2e6 142px,#32dcda 150px,#2ebbe0 153px,#30bfde 155px,#33e4d9 158px,#2ce4e0 174px,#2ee2df 183px,#20c2f1 191px,#27dce6 201px)"></i><i style="left:325px;top:296px;width:1px;height:202px;background:linear-gradient(#600c0b 0px,#881011 9px,#c1251f 15px,#cc3922 30px,#e38122 40px,#efb321 49px,#dced30 58px,#7df18e 70px,#57f1b3 82px,#76f195 103px,#6ff19c 113px,#4cf1bf 118px,#5cf1af 123px,#46f1c5 136px,#20d9ed 140px,#47f1c3 145px,#57f1b4 150px,#54f1b7 156px,#5bf1af 163px,#23dfe8 171px,#55f1b5 176px,#59f1b2 182px,#2beadf 186px,#20bdf1 190px,#24e1e7 200px,#2be9e0 201px)"></i><i style="left:326px;top:296px;width:2px;height:202px;background:linear-gradient(#600c0b 0px,#6a0d0c 11px,#9e1416 18px,#b11a1b 31px,#d14823 43px,#ea9d22 56px,#e2e62c 63px,#8ff17c 82px,#96f174 91px,#abf15f 99px,#acf15e 112px,#77f193 117px,#8bf17f 122px,#6df19e 132px,#72f199 135px,#35e8d6 140px,#64f1a7 147px,#6ff19b 155px,#93f177 162px,#2fe8db 170px,#4bf1c0 173px,#7bf190 176px,#70f19b 183px,#27e3e4 187px,#20aef1 191px,#20aff1 194px,#34ebd7 200px,#3fefcc 201px)"></i><i style="left:328px;top:296px;width:2px;height:202px;background:linear-gradient(#5f0c0b 0px,#670c0b 15px,#770d0d 22px,#800e0f 30px,#c22820 47px,#cb3722 52px,#d45123 56px,#eeac21 64px,#efb621 70px,#d7ef34 77px,#c3f148 85px,#e8d227 93px,#ecbe23 97px,#edb622 103px,#d7f134 109px,#e6e129 118px,#a2f168 125px,#acf15e 135px,#86f185 142px,#54f1b7 146px,#2ce7df 148px,#3df1cd 151px,#aff15c 159px,#bdf14e 163px,#88f183 170px,#8df17e 176px,#52f1b8 180px,#7af190 184px,#2fe4dd 190px,#23b5ed 193px,#3be8d1 196px,#96f175 201px)"></i><i style="left:330px;top:296px;width:2px;height:202px;background:linear-gradient(#640c0b 0px,#680c0b 18px,#740d0c 24px,#750d0d 31px,#991315 46px,#be201e 51px,#d45123 60px,#e27b22 64px,#dd6d23 68px,#f0b521 74px,#eed422 80px,#f1cc21 86px,#e68922 91px,#db6723 98px,#df7322 102px,#ece622 109px,#f0b621 118px,#e9df26 124px,#e9e726 128px,#edde23 135px,#c7f144 141px,#bdf14e 144px,#59f1b2 148px,#56f1b4 151px,#c4f147 159px,#ece124 168px,#ebd725 171px,#c7f144 174px,#8ef17c 178px,#86f185 186px,#79f192 193px,#caf140 199px,#c7f144 201px)"></i><i style="left:332px;top:296px;width:2px;height:202px;background:linear-gradient(#740d0c 0px,#700c0c 12px,#6a0c0b 30px,#660c0b 37px,#9a1315 41px,#8d1112 46px,#b71a1c 52px,#cb3723 57px,#d55323 69px,#e89222 77px,#eca022 91px,#db6723 97px,#df7123 102px,#f1de20 109px,#d85d23 121px,#e48322 123px,#f1da20 126px,#dbf12f 143px,#a1f16a 149px,#bbf150 154px,#a8f162 158px,#e4ec27 161px,#ddf12d 165px,#ebe822 168px,#f1bd21 171px,#e1ef2a 174px,#c2f149 177px,#dae733 185px,#83f187 189px,#d8f133 199px,#caf141 201px)"></i><i style="left:334px;top:296px;width:2px;height:202px;background:linear-gradient(#7a0d0e 0px,#6f0c0b 16px,#6a0c0b 26px,#7b0e0e 39px,#991315 51px,#cb3723 57px,#cb3523 63px,#bd231e 68px,#d75823 73px,#dc6823 79px,#e38122 88px,#db6723 97px,#dd6c23 100px,#d65823 103px,#ecab21 109px,#cc3923 120px,#db6623 123px,#f0dd20 127px,#e6ee25 131px,#f1cf21 140px,#d6f134 146px,#c3f148 149px,#eddf22 153px,#c0f04b 158px,#eae823 162px,#f1cf21 169px,#f1ca21 172px,#cef13c 179px,#e5e329 185px,#87f183 189px,#d5ef36 194px,#d4f137 201px)"></i><i style="left:336px;top:296px;width:2px;height:202px;background:linear-gradient(#760d0d 0px,#790d0d 13px,#6a0c0b 26px,#891011 48px,#b81b1c 55px,#cf4023 59px,#b61b1c 69px,#cf4023 72px,#c92f22 77px,#e07522 86px,#d14823 91px,#d34e23 100px,#c72a21 103px,#d75923 109px,#c82c21 119px,#e07722 124px,#f1ce21 128px,#f1ce21 132px,#e17b22 139px,#e99622 142px,#e6da28 147px,#e3e32b 150px,#edab21 155px,#e69e22 161px,#e99522 168px,#f1cd21 175px,#d3f037 178px,#c4f047 181px,#cff03b 186px,#acf15e 189px,#f1dc20 193px,#dff12b 201px)"></i><i style="left:338px;top:296px;width:2px;height:202px;background:linear-gradient(#8f1112 0px,#921113 14px,#650c0b 26px,#690c0b 34px,#991315 41px,#961214 50px,#c93023 56px,#ca3423 64px,#c72a21 69px,#d24823 73px,#cb3523 78px,#d34d23 84px,#e78d22 90px,#c72b21 99px,#ca3323 107px,#cb3523 109px,#ca3123 120px,#f1bd21 128px,#eea922 133px,#d14623 139px,#d75923 142px,#e99322 146px,#eea822 152px,#ca3222 157px,#ce3f23 166px,#de6e23 172px,#f1d321 176px,#ece122 184px,#f1ce21 194px,#eae824 199px,#ebe223 201px)"></i><i style="left:340px;top:296px;width:1px;height:202px;background:linear-gradient(#f8eaea 0px,#fef8eb 128px,#fef8eb 148px,#fdf4eb 174px,#fef9eb 201px)"></i><i style="left:342px;top:296px;width:1px;height:202px;background:linear-gradient(#84c1f0 0px,#7ea4f7 37px,#7e82f7 85px,#7d80f7 201px)"></i><i style="left:343px;top:296px;width:1px;height:202px;background:linear-gradient(#aee25f 0px,#74e898 17px,#4dd9c0 32px,#5be0b1 44px,#208ef0 59px,#2062f1 70px,#2058f1 89px,#205ff1 113px,#2045f1 140px,#1717de 143px,#1a1ae6 161px,#2048f1 163px,#2046f1 201px)"></i><i style="left:344px;top:296px;width:1px;height:202px;background:linear-gradient(#da6422 0px,#e69e22 11px,#d1e93b 23px,#bef04d 33px,#cfeb3d 44px,#44e8c8 61px,#27c4e8 74px,#21acef 85px,#2dd4e0 98px,#25bcea 131px,#2093f1 141px,#207bf1 142px,#1e3eed 143px,#1919e3 144px,#1818e1 159px,#1c32eb 160px,#2099f0 162px,#209df1 174px,#208ff1 196px,#208ff1 201px)"></i><i style="left:345px;top:296px;width:1px;height:202px;background:linear-gradient(#ad1b1a 0px,#cc3c22 11px,#eec421 28px,#efbb21 36px,#ecaa21 43px,#dce931 52px,#68f1a2 67px,#42eec8 85px,#5cf1af 103px,#33e8d9 142px,#31d5dc 143px,#2c9fe1 144px,#2a91df 147px,#2473e0 148px,#2369e0 154px,#1c43e2 157px,#1e49e4 158px,#2673e9 159px,#31cddc 160px,#3eeace 161px,#25dde7 187px,#2ce4e0 201px)"></i><i style="left:346px;top:296px;width:1px;height:202px;background:linear-gradient(#720d0d 0px,#c12620 14px,#e58522 30px,#de6e23 45px,#eadd25 56px,#9ef16d 67px,#77f194 87px,#88f183 104px,#41f1ca 128px,#38f1d3 134px,#4eefbc 156px,#5bf1b0 164px,#5bf1b0 173px,#61f1aa 177px,#34f1d7 186px,#20d6ef 190px,#43f1c7 196px,#48f1c3 200px,#40f1cb 201px)"></i><i style="left:347px;top:296px;width:2px;height:202px;background:linear-gradient(#5f0c0b 0px,#7f0f0f 12px,#c32a20 21px,#d04523 34px,#cb3522 46px,#e68c22 56px,#e1e92c 65px,#adf15e 88px,#c8f143 100px,#b7f154 113px,#87f184 119px,#6ef19c 127px,#47f1c4 131px,#59f1b2 141px,#58f1b3 145px,#77f194 149px,#7bf18f 164px,#7af191 171px,#95f176 176px,#66f1a5 180px,#5bf1b0 185px,#29dce5 189px,#45f1c5 194px,#6df19e 199px,#54f1b7 201px)"></i><i style="left:349px;top:296px;width:2px;height:202px;background:linear-gradient(#660c0b 0px,#750d0d 17px,#b91d1d 30px,#9e1416 42px,#d24923 56px,#f0d821 68px,#f0cf21 76px,#efce22 82px,#deef2d 86px,#eed622 95px,#efbf21 101px,#e79422 104px,#ebac21 108px,#e89822 111px,#dfec2e 116px,#bdf14d 119px,#e0d82f 125px,#dfca2e 127px,#bce951 131px,#dad334 135px,#a3f168 139px,#7bf18f 145px,#a4f167 154px,#84f186 158px,#b1f15a 164px,#c3f147 171px,#61f1aa 180px,#8df17e 187px,#79f191 191px,#52f1b8 194px,#7cf18f 198px,#59f1b1 201px)"></i><i style="left:351px;top:296px;width:2px;height:202px;background:linear-gradient(#690b0a 0px,#750d0d 24px,#911113 30px,#810e0f 42px,#c0221f 51px,#d14623 61px,#ea9a22 69px,#eb9b22 79px,#f0cb21 86px,#e79622 91px,#da6423 99px,#e99522 103px,#dd6d23 105px,#cb3522 107px,#cb3522 110px,#f1c921 115px,#dbf12f 117px,#e4ea28 119px,#eca722 122px,#efa922 125px,#e78c22 128px,#eda622 131px,#e17a22 134px,#e89122 136px,#e5e428 139px,#dee130 144px,#94f177 149px,#7df18d 155px,#93f177 162px,#e7e328 165px,#edb622 167px,#e4e32b 174px,#c4f147 176px,#5df1ae 179px,#4ff1bc 180px,#79f192 182px,#bef14d 184px,#d1f13a 186px,#c9f141 193px,#74f196 201px)"></i><i style="left:353px;top:296px;width:2px;height:202px;background:linear-gradient(#620c0b 0px,#680b0b 17px,#760d0d 27px,#850f10 39px,#8c1112 50px,#c0231f 56px,#d85b23 69px,#d75823 73px,#f0b221 81px,#cb3b22 89px,#ca3422 99px,#da6223 104px,#d85e22 109px,#efae21 113px,#efbe21 118px,#e68822 122px,#eca122 126px,#f0b421 131px,#e07622 135px,#e48522 142px,#ece023 146px,#b9f151 149px,#e1df2d 163px,#f0c421 168px,#daea33 173px,#bef14d 178px,#cff13c 193px,#a9f161 200px,#aef15c 201px)"></i><i style="left:355px;top:296px;width:2px;height:202px;background:linear-gradient(#5f0c0b 0px,#610c0b 12px,#911113 41px,#6b0b0b 46px,#881011 53px,#c93122 58px,#cf4123 70px,#d04323 73px,#eda322 81px,#dc6723 83px,#c0241f 85px,#ca3222 104px,#ea9922 109px,#f0b621 113px,#e48522 122px,#f1bd21 131px,#d55223 137px,#d55223 142px,#eb9a22 145px,#e7ea26 148px,#d9f032 152px,#f1d521 155px,#ea9a22 159px,#ea9a22 163px,#ebe224 166px,#dce031 174px,#dee52f 177px,#f1cb21 180px,#d7eb35 185px,#b2f159 199px,#c7f144 201px)"></i><i style="left:357px;top:296px;width:2px;height:202px;background:linear-gradient(#6b0c0b 0px,#710c0c 24px,#850f10 33px,#740d0c 38px,#750d0d 49px,#c32620 61px,#c0251f 73px,#e89022 81px,#d96023 83px,#c22a1f 85px,#ca3322 106px,#d96123 110px,#d75a22 118px,#cf4222 122px,#d95f23 127px,#e68922 131px,#d24b23 137px,#d45023 143px,#f1d921 149px,#dbec31 153px,#f1d021 155px,#e68c22 158px,#da6123 162px,#df7222 163px,#f1c821 165px,#e3e32a 167px,#eca122 171px,#e48a22 182px,#e89f22 187px,#d2e33a 199px,#e3db2b 201px)"></i><i style="left:359px;top:296px;width:2px;height:202px;background:linear-gradient(#8c1012 0px,#8e1112 15px,#700c0c 24px,#8a1011 32px,#690c0b 38px,#730c0c 48px,#b4181b 56px,#b5191c 74px,#e17a22 80px,#de7123 86px,#cc3823 90px,#d14723 95px,#c52820 98px,#c82c22 125px,#e27b22 130px,#dc6923 135px,#c82c21 138px,#c93022 142px,#f1d621 148px,#f0dc20 150px,#e17822 158px,#e78d22 167px,#f1cd21 170px,#f1b821 174px,#e78c22 176px,#ca3222 178px,#cf4123 193px,#e38122 200px,#e38122 201px)"></i><i style="left:361px;top:296px;width:1px;height:202px;background:linear-gradient(#dc9d9f 0px,#ca9a9a 35px,#ca9a9a 49px,#e2a0a0 62px,#e6a4a1 75px,#f2c4a2 82px,#e7a5a2 104px,#ebb1a3 128px,#efbda3 134px,#e8a6a2 140px,#eebaa3 145px,#f9e9a2 149px,#f0bfa2 160px,#f9e3a2 172px,#e8a7a2 179px,#ecb3a3 194px,#f1c3a2 200px,#efbda3 201px)"></i><i style="left:363px;top:296px;width:1px;height:202px;background:linear-gradient(#c7cdfc 0px,#c7c7fc 201px)"></i><i style="left:364px;top:296px;width:1px;height:202px;background:linear-gradient(#70dc9c 0px,#31b7dd 33px,#2045f1 65px,#203ef1 92px,#1f27ef 134px,#1717dc 138px,#1f22f0 151px,#2037f1 155px,#2037f1 201px)"></i><i style="left:365px;top:296px;width:1px;height:202px;background:linear-gradient(#e48e22 0px,#e7b625 12px,#ceec3f 24px,#3ee6ce 55px,#2098f1 68px,#207cf1 79px,#2094f1 95px,#204ff1 135px,#1d28ec 136px,#1616db 140px,#1b1fe7 149px,#206af1 151px,#207bf1 156px,#205ef1 170px,#207df1 191px,#207cf1 201px)"></i><i style="left:366px;top:296px;width:1px;height:202px;background:linear-gradient(#bb221e 0px,#cf4223 12px,#ecdb23 34px,#adf15e 51px,#32e5da 71px,#2adae4 79px,#3dedce 95px,#28d4e6 120px,#20a9f1 136px,#2092f1 137px,#29ade5 148px,#2cdbe2 150px,#29d8e5 159px,#20adf1 169px,#2ce1e0 183px,#2ee3de 201px)"></i><i style="left:367px;top:296px;width:1px;height:202px;background:linear-gradient(#800f0f 0px,#c42820 16px,#f1c321 43px,#d7f034 54px,#84f186 66px,#56f1b5 78px,#7ef18d 92px,#5ef1ad 106px,#2eeddd 137px,#4df1be 153px,#2cebdf 173px,#4af1c1 190px,#47f1c3 201px)"></i><i style="left:368px;top:296px;width:2px;height:202px;background:linear-gradient(#670b0b 0px,#720d0d 12px,#c1271f 26px,#ecaa21 53px,#dfe72f 60px,#8df17e 77px,#c9f042 89px,#b6f154 95px,#9af170 102px,#8af180 111px,#77f194 119px,#6ff19b 123px,#3af1d1 131px,#46f1c5 141px,#89f182 150px,#5af1b1 161px,#55f1b5 167px,#2decde 169px,#20cef0 171px,#3cf1cf 176px,#5bf1b0 182px,#61f1aa 201px)"></i><i style="left:370px;top:296px;width:2px;height:202px;background:linear-gradient(#670c0b 0px,#6b0d0c 20px,#c82f22 40px,#cd4221 53px,#efbb21 65px,#e0ef2b 69px,#cef03d 77px,#ede022 85px,#f1c821 94px,#d9f132 99px,#b2f159 103px,#d9ec34 110px,#ceeb3e 122px,#6af1a1 130px,#b7ec55 140px,#adf15e 145px,#d7ea35 149px,#a8f163 157px,#48f1c3 163px,#27dbe7 168px,#20cbf1 171px,#30f0da 174px,#a0f16b 180px,#8cf17f 190px,#9af170 193px,#62f1a8 201px)"></i><i style="left:372px;top:296px;width:2px;height:202px;background:linear-gradient(#690b0b 0px,#680b0b 12px,#610c0b 28px,#981214 35px,#b51a1c 42px,#a01416 48px,#c32620 56px,#de6d23 64px,#efd321 70px,#f0c721 76px,#e68a22 81px,#f1bf21 87px,#ede321 90px,#f1ca21 94px,#daf130 99px,#d7ec35 103px,#edae21 108px,#f0b721 114px,#e89422 121px,#e7cf28 128px,#dde132 131px,#e79322 137px,#e38922 144px,#f1c521 149px,#f0bd21 153px,#daf130 156px,#48f1c3 165px,#23cfed 168px,#23cded 171px,#50f1bb 174px,#d6ef35 179px,#d4f037 182px,#cff13b 185px,#e8c927 190px,#e7a823 192px,#e3c229 194px,#bff04c 196px,#78f193 199px,#7cf18e 201px)"></i><i style="left:374px;top:296px;width:2px;height:202px;background:linear-gradient(#690b0b 0px,#650c0b 30px,#a21417 42px,#971214 47px,#c52820 57px,#d95f23 68px,#e37f22 76px,#d85c23 83px,#e27e22 87px,#eba822 91px,#f0cf21 101px,#e89022 110px,#e68922 119px,#e68a22 122px,#f1c321 128px,#eab022 141px,#e99f22 145px,#f1be21 149px,#e99622 152px,#efac22 154px,#def02d 157px,#89f182 164px,#5bf1b0 167px,#68f1a3 171px,#cee83e 175px,#f1c121 179px,#f1d021 186px,#efbc21 190px,#e89722 193px,#e7e727 197px,#cff13c 201px)"></i><i style="left:376px;top:296px;width:2px;height:202px;background:linear-gradient(#670c0b 0px,#710c0c 20px,#720d0d 37px,#901113 43px,#c52820 60px,#bf241f 66px,#c63121 74px,#d45023 77px,#ca3522 85px,#d24a23 91px,#e89322 95px,#e99522 104px,#e78e22 109px,#e07622 113px,#e58622 121px,#f1d421 124px,#d3f137 126px,#eedc22 129px,#f1c921 131px,#e1ea2b 135px,#d3f138 141px,#f0bf21 147px,#e78c22 152px,#f1e020 157px,#c3f147 160px,#a1f16a 167px,#c8f143 172px,#e6eb26 173px,#ec9f22 175px,#e17a22 177px,#e78e22 185px,#eee121 189px,#e89b22 196px,#e38722 198px,#e9a622 201px)"></i><i style="left:378px;top:296px;width:2px;height:202px;background:linear-gradient(#6d0c0b 0px,#780d0d 16px,#770d0d 24px,#660c0b 29px,#6d0c0b 39px,#b71a1c 57px,#ad161a 66px,#bd211e 74px,#cd3c23 77px,#c32620 87px,#cb3723 92px,#db6623 100px,#d55423 107px,#e78e22 118px,#f0be21 122px,#d9f031 124px,#b0f15b 126px,#eee620 132px,#eea922 135px,#f1cd21 137px,#d6ef35 139px,#e4ea28 141px,#eb9c22 144px,#d65723 149px,#eb9c22 154px,#e5ca28 163px,#ebb422 167px,#dbde32 171px,#efc721 173px,#e37f22 176px,#d55323 181px,#d34c23 185px,#eb9e22 188px,#edaa22 189px,#d45023 193px,#c93023 198px,#ca3423 201px)"></i><i style="left:380px;top:296px;width:2px;height:202px;background:linear-gradient(#8f1112 0px,#7e0e0f 17px,#730c0c 35px,#780d0d 43px,#a41517 51px,#ad161a 57px,#cc3923 64px,#c42720 68px,#d14823 78px,#cc3723 88px,#ca3323 104px,#e78f22 109px,#eea822 114px,#ea9722 117px,#e6ea27 120px,#b9f152 126px,#c1f14a 131px,#def12d 132px,#f1c721 133px,#e07622 135px,#e78d22 137px,#f0ba21 139px,#eca122 144px,#ca3022 148px,#cb3623 150px,#dc6923 152px,#db6623 154px,#cd3922 161px,#d45023 173px,#e48422 176px,#dc6a23 184px,#d45023 187px,#cb3423 194px,#ce3e23 199px,#c93023 201px)"></i><i style="left:382px;top:296px;width:1px;height:202px;background:linear-gradient(#c75354 0px,#b44e50 26px,#a74c4d 44px,#d45e58 60px,#da6d5a 65px,#de785a 83px,#d55e58 101px,#d96b5a 105px,#eca559 109px,#f5cc59 117px,#e9f060 122px,#d9f56e 131px,#ebf45d 132px,#eba359 135px,#efaf59 144px,#d66159 148px,#dd755a 153px,#d66159 159px,#d7635a 172px,#eda959 176px,#de7a5a 184px,#d6635a 190px,#d7645a 201px)"></i><i style="left:385px;top:296px;width:1px;height:202px;background:linear-gradient(#3c9de7 0px,#327cf2 33px,#3246f2 65px,#2c2cea 140px,#2b2be6 159px,#3239f2 183px,#3237f3 201px)"></i><i style="left:386px;top:296px;width:1px;height:202px;background:linear-gradient(#a8ec64 0px,#8df17e 14px,#57e7b4 34px,#2dbfe1 53px,#2085f1 66px,#205bf1 87px,#2060f1 109px,#203df1 139px,#1818e0 141px,#1818e0 158px,#2044f1 161px,#2044f1 201px)"></i><i style="left:387px;top:296px;width:1px;height:202px;background:linear-gradient(#e58f22 0px,#e9ab22 11px,#e2dc2d 21px,#c2f149 33px,#89f182 47px,#5ef1ad 57px,#3be5d0 66px,#21b0ef 86px,#28cce6 101px,#20a4f0 118px,#207ef1 128px,#206ef1 139px,#1a1ae8 141px,#1616da 152px,#1717dd 157px,#1c1fec 158px,#205ef1 159px,#2079f1 161px,#2095f1 185px,#2078f1 201px)"></i><i style="left:388px;top:296px;width:1px;height:202px;background:linear-gradient(#c63021 0px,#d55423 12px,#e89322 23px,#e2e82b 38px,#b0f15b 55px,#7cf18f 65px,#3eeecc 85px,#4bf1c0 98px,#30eeda 115px,#24c4eb 139px,#209ef1 140px,#1f20f1 141px,#1616da 143px,#1717db 156px,#1b1bea 157px,#24beec 159px,#26d1e8 164px,#2ee3de 186px,#26cbe9 201px)"></i><i style="left:389px;top:296px;width:1px;height:202px;background:linear-gradient(#9f1416 0px,#c83022 14px,#e78d22 32px,#f0ce21 43px,#dced30 56px,#adf15e 65px,#67f1a4 86px,#6bf19f 98px,#3cf1cf 114px,#45f1c6 121px,#4df1be 135px,#36e6d6 140px,#329ddd 141px,#1a2fe4 145px,#1717dc 148px,#1924e2 151px,#339ddb 157px,#3cd8d1 158px,#46f1c5 159px,#3ef1cd 172px,#55f1b5 177px,#43f1c8 187px,#3ff1cc 191px,#44f1c7 201px)"></i><i style="left:390px;top:296px;width:2px;height:202px;background:linear-gradient(#660d0c 0px,#941214 12px,#bb231e 22px,#e68d22 45px,#ea9d22 54px,#e6e128 62px,#caed42 75px,#93f178 87px,#9cf16f 92px,#92f179 100px,#65f1a5 104px,#60f1aa 114px,#73f198 118px,#66f1a5 125px,#6cf19e 133px,#6cf19f 141px,#6ef19c 144px,#32c1d8 148px,#41decb 151px,#5ef1ad 154px,#52f1b9 164px,#64f1a7 173px,#77f193 180px,#4af1c0 190px,#5ff1ac 194px,#4bf1c0 201px)"></i><i style="left:392px;top:296px;width:2px;height:202px;background:linear-gradient(#590d0b 0px,#8e1112 24px,#c52a21 33px,#c63121 42px,#d24b23 47px,#de6e23 58px,#e79122 64px,#e48422 72px,#e6e628 83px,#a6f165 88px,#9cf16f 94px,#ddea30 99px,#9af171 104px,#b3f158 112px,#c2f049 118px,#4cf1bf 126px,#3cf0cf 131px,#99f172 135px,#97f174 142px,#93f177 150px,#aaf160 153px,#73f198 155px,#2febdc 157px,#3af0d1 160px,#b1f159 167px,#6ef19d 176px,#9cf16e 180px,#47f1c4 184px,#5df1ad 187px,#74f196 192px,#48f1c2 195px,#24c5eb 197px,#21acef 199px,#22b8ee 201px)"></i><i style="left:394px;top:296px;width:2px;height:202px;background:linear-gradient(#5b0d0b 0px,#670c0b 25px,#ab1619 34px,#bd201e 45px,#c92f22 53px,#d04523 65px,#d34d23 71px,#d95f23 77px,#f1bd21 82px,#e4e729 85px,#91f17a 90px,#c5ef46 94px,#efd621 97px,#ebb022 103px,#eedc22 112px,#edac21 117px,#dce831 120px,#a4f167 124px,#64f1a7 130px,#86f185 133px,#b0f15b 136px,#87f184 140px,#a5f166 146px,#b0f15b 150px,#bff14b 153px,#50f1bb 157px,#47f1c3 160px,#c5f145 168px,#8ff17b 178px,#93f177 181px,#6bf1a0 185px,#a7f164 189px,#5cf1ae 194px,#2dd9e1 196px,#23a3ed 199px,#25afeb 201px)"></i><i style="left:396px;top:296px;width:2px;height:202px;background:linear-gradient(#6d0c0b 0px,#580d0b 23px,#830f10 33px,#be211e 42px,#c82d22 55px,#cc3923 66px,#d14723 74px,#cf4223 77px,#eacc25 88px,#e8c025 92px,#e38222 97px,#e68a22 104px,#f0b621 112px,#f0c321 117px,#df7b22 121px,#e1e22c 126px,#ddc930 131px,#e8dd27 135px,#e2ce2c 141px,#e7d628 145px,#e9bb24 150px,#dde130 155px,#b6f055 159px,#8cf17f 161px,#e6e827 169px,#e8cd27 173px,#e3b028 176px,#e8db27 190px,#96f175 194px,#badd53 198px,#b4e559 201px)"></i><i style="left:398px;top:296px;width:2px;height:202px;background:linear-gradient(#770d0d 0px,#580d0b 23px,#6c0c0b 30px,#7b0e0e 35px,#ac181a 42px,#c72e22 57px,#cd3b23 67px,#cd3c23 74px,#cc3a22 80px,#de6f23 87px,#d24923 95px,#df7322 100px,#e07522 104px,#efb221 108px,#eea822 111px,#e78d22 114px,#e79122 117px,#d65523 121px,#eda422 127px,#e68b22 131px,#ecd424 134px,#edcf23 136px,#e89122 139px,#eea822 144px,#e38022 151px,#f1b621 156px,#eee420 159px,#d0e93c 162px,#eecc22 167px,#ea9822 172px,#d85c23 185px,#eca322 191px,#e5d72a 194px,#efb221 198px,#efae21 201px)"></i><i style="left:400px;top:296px;width:2px;height:202px;background:linear-gradient(#7a0d0e 0px,#670c0b 16px,#610c0b 24px,#750d0d 34px,#b61a1c 55px,#bc211e 61px,#ce3f23 73px,#bc1e1e 82px,#cc3723 86px,#c52921 95px,#db6623 100px,#dc6823 104px,#f1c221 108px,#eca022 111px,#e68b22 113px,#efb621 123px,#e38022 130px,#eda522 132px,#e6e627 134px,#e2ec2a 136px,#f1b921 139px,#f1b821 145px,#e78c22 153px,#eda422 168px,#e78d22 172px,#efa922 176px,#e07622 182px,#d55223 185px,#ea9722 193px,#edd823 196px,#d9e834 199px,#ecd324 201px)"></i><i style="left:402px;top:296px;width:2px;height:202px;background:linear-gradient(#971214 0px,#891011 14px,#760d0d 23px,#911113 33px,#8a1011 41px,#b2181b 55px,#a01416 60px,#cc3a23 68px,#d65723 72px,#b5181c 76px,#cc3923 100px,#efaa22 108px,#e17a22 112px,#ea9722 114px,#f0df20 117px,#ebe722 122px,#df7322 128px,#df7222 131px,#f1c521 136px,#f1c721 144px,#e48422 149px,#e68b22 153px,#d24b23 159px,#e07722 164px,#f0b021 168px,#eda222 176px,#f1bb21 180px,#dc6723 187px,#de7023 191px,#eea722 194px,#f1cf21 195px,#d9f032 196px,#a0f16b 198px,#b8f153 200px,#cff13c 201px)"></i><i style="left:404px;top:296px;width:1px;height:202px;background:linear-gradient(#f9eded 0px,#fefbed 116px,#fef9ed 194px,#fdfeee 201px)"></i><i style="left:406px;top:296px;width:1px;height:202px;background:linear-gradient(#80bef1 0px,#7c9ef7 36px,#7b82f7 95px,#7676ec 137px,#7777ef 185px,#7b7ff7 201px)"></i><i style="left:407px;top:296px;width:1px;height:202px;background:linear-gradient(#a4e868 0px,#72e79a 20px,#6fe89d 30px,#3ac8d4 44px,#249fec 57px,#2061f1 86px,#203af1 136px,#1717dd 139px,#1b22e7 156px,#2040f1 160px,#1f42f1 185px,#1818df 189px,#2045f1 194px,#2048f1 201px)"></i><i style="left:408px;top:296px;width:1px;height:202px;background:linear-gradient(#dd7322 0px,#e7ab23 11px,#e2d32c 19px,#dce332 31px,#9af170 45px,#6df19e 56px,#4decbf 63px,#2bcde4 88px,#25bbea 105px,#207bf1 134px,#2062f1 138px,#1b2fe6 140px,#1c39ea 154px,#206df1 156px,#209bf1 177px,#2094f1 187px,#1f7cf1 189px,#2090f1 193px,#2098f1 201px)"></i><i style="left:409px;top:296px;width:1px;height:202px;background:linear-gradient(#b6201d 0px,#d14623 11px,#e07822 19px,#e68b22 29px,#e9dd26 40px,#c3f148 55px,#98f172 62px,#7ef18c 75px,#5ff1ab 85px,#29e2e3 130px,#25c2ea 142px,#24d3e9 161px,#2decde 181px,#31eadb 201px)"></i><i style="left:410px;top:296px;width:1px;height:202px;background:linear-gradient(#7e0f0f 0px,#c62c21 14px,#d45123 29px,#eca622 42px,#f0c621 54px,#d2f038 59px,#bcf14e 75px,#97f174 88px,#7bf190 105px,#73f198 110px,#73f197 114px,#54f1b7 124px,#34efd6 133px,#30efdb 152px,#39f1d1 164px,#45f1c5 174px,#2beadf 181px,#4df1be 186px,#4df1bd 196px,#43f1c7 201px)"></i><i style="left:411px;top:296px;width:2px;height:202px;background:linear-gradient(#610c0b 0px,#7f0f10 11px,#aa1819 18px,#c73021 31px,#d95e23 43px,#df7322 54px,#eec222 60px,#eec622 74px,#d3f138 86px,#c3f147 102px,#a4f166 109px,#baf151 113px,#85f185 119px,#7bf190 124px,#62f1a9 128px,#50f1ba 132px,#5bf1af 137px,#46f1c5 146px,#45f1c6 150px,#27e5e3 154px,#42f1c8 158px,#4cf1bf 164px,#6af1a1 174px,#53f1b8 177px,#22dceb 180px,#64f1a7 184px,#6ff19b 196px,#5ff1ab 201px)"></i><i style="left:413px;top:296px;width:2px;height:202px;background:linear-gradient(#650c0b 0px,#650c0b 15px,#780d0d 23px,#840f10 29px,#c93122 41px,#c82b21 46px,#d95f23 61px,#dd6b23 70px,#efad21 78px,#eede21 84px,#ea9f22 96px,#eeae21 100px,#e5e928 103px,#dbf130 110px,#caf141 114px,#d0f13b 118px,#99f171 128px,#8ef17d 133px,#5cf1af 142px,#44f1c7 150px,#20d3ef 153px,#30ecdb 159px,#6af1a1 162px,#59f1b1 167px,#7ef18d 173px,#98f173 175px,#65f1a5 178px,#47f1c4 180px,#95f175 185px,#d4e939 188px,#d5e637 190px,#8ff17b 193px,#8bf17f 194px,#daeb33 197px,#daea32 199px,#b1f15a 201px)"></i><i style="left:415px;top:296px;width:2px;height:202px;background:linear-gradient(#650c0b 0px,#6c0c0b 16px,#6a0c0b 26px,#6b0c0c 32px,#ac1619 39px,#c82f22 52px,#c22520 65px,#bc231e 69px,#e48622 82px,#df7123 92px,#d85b23 96px,#e27d22 101px,#e8ec24 108px,#cdf13e 113px,#f0d921 117px,#c7f143 124px,#aef15d 128px,#93f177 131px,#b4f156 135px,#b3f157 140px,#67f1a3 144px,#97f174 148px,#5ef0ac 153px,#9af170 165px,#dbe632 173px,#e4df2b 176px,#8ef17c 180px,#bff14c 184px,#f1dc20 187px,#f1c121 190px,#d5f136 196px,#c4f047 199px,#daf131 201px)"></i><i style="left:417px;top:296px;width:2px;height:202px;background:linear-gradient(#5e0c0b 0px,#780d0d 28px,#770d0d 34px,#951214 39px,#c2241f 51px,#c72b21 58px,#c93123 64px,#a91619 67px,#c93122 78px,#c73220 84px,#d65523 87px,#eb9c22 90px,#e07422 93px,#d45123 96px,#d85c23 101px,#eade25 112px,#e69122 120px,#eac124 127px,#d5e738 131px,#e2ec2a 136px,#b8f152 140px,#e8d027 149px,#a8f162 157px,#aef15d 162px,#eee221 173px,#f1ca21 176px,#d5f036 179px,#daf130 186px,#caed42 190px,#e2ea2b 194px,#b7f154 198px,#dbf130 201px)"></i><i style="left:419px;top:296px;width:2px;height:202px;background:linear-gradient(#5d0c0b 0px,#850f10 30px,#870f10 41px,#b51a1c 51px,#c32520 56px,#cc3a23 63px,#a91619 67px,#c62921 85px,#e07522 88px,#eda722 90px,#e17922 93px,#c93221 97px,#cb3522 101px,#e07522 104px,#df7322 108px,#f0b521 111px,#efac21 113px,#ce3e23 120px,#d14722 126px,#eea822 130px,#f1c621 136px,#d6e437 139px,#f0d021 142px,#eb9c22 146px,#e89122 150px,#ede422 155px,#bdf14d 160px,#e2eb2b 169px,#e4ef27 172px,#f1ba21 175px,#efbe21 181px,#ddf02e 184px,#a6f165 190px,#e4e728 201px)"></i><i style="left:421px;top:296px;width:2px;height:202px;background:linear-gradient(#6f0c0c 0px,#860f10 20px,#850f10 30px,#660c0b 40px,#8e1112 47px,#a11417 55px,#c32920 61px,#a91619 67px,#c52821 73px,#b81a1d 78px,#cc3923 87px,#d34e22 92px,#c52720 97px,#cc3923 102px,#dc6923 104px,#d45123 108px,#eeb421 112px,#d55323 118px,#db6623 122px,#ce3d22 126px,#db6623 128px,#eea622 130px,#eda322 135px,#e27f22 140px,#e68b22 147px,#e99622 150px,#f1d921 155px,#d8f032 162px,#f0d221 164px,#ea9b22 166px,#eca422 168px,#eedd22 171px,#eca022 176px,#e17722 180px,#eea922 182px,#e1e42c 184px,#e5e728 194px,#e48522 198px,#e99822 201px)"></i><i style="left:423px;top:296px;width:2px;height:202px;background:linear-gradient(#921213 0px,#881011 14px,#9f1416 24px,#680c0b 42px,#b81b1d 73px,#c93123 86px,#bf221f 90px,#cb3723 100px,#e07622 104px,#dd6c23 108px,#f0b321 110px,#eedd21 111px,#dfea2d 113px,#f1d121 114px,#dc6a23 116px,#d55323 117px,#eb9b22 123px,#f1ba21 131px,#cb3322 138px,#cc3823 143px,#cf4223 147px,#d14823 149px,#f1c821 152px,#eede21 154px,#f0d921 160px,#f0db20 162px,#eda622 164px,#d96023 166px,#de6f23 168px,#f0b421 171px,#eb9e22 176px,#e99622 185px,#f1cf21 193px,#e78d22 196px,#d85a23 199px,#d85c23 201px)"></i><i style="left:425px;top:296px;width:1px;height:202px;background:linear-gradient(#e1a1a2 0px,#cf9d9e 36px,#cd9d9d 54px,#e4a4a3 88px,#f1c1a5 105px,#f9e3a4 113px,#eeb9a5 117px,#f9dda4 128px,#f0c1a5 135px,#e9a8a4 140px,#f0bea5 150px,#f9e0a4 155px,#f9e6a4 163px,#edb5a5 167px,#f6d4a4 173px,#f6d2a4 190px,#f9e1a4 194px,#efbda5 200px,#f0bea5 201px)"></i><i style="left:427px;top:296px;width:1px;height:202px;background:linear-gradient(#c5d7fb 0px,#c5c6fb 201px)"></i><i style="left:428px;top:296px;width:1px;height:202px;background:linear-gradient(#85dc88 0px,#6adaa2 16px,#51cdbd 32px,#2ca9e2 45px,#2187ef 57px,#2045f1 71px,#203bf1 91px,#203df1 136px,#1717dc 140px,#1818e0 152px,#203bf1 155px,#2040f1 201px)"></i><i style="left:429px;top:296px;width:1px;height:202px;background:linear-gradient(#e18622 0px,#e49f23 11px,#e1ce2d 21px,#cdea3f 32px,#8bf180 43px,#6ff19c 55px,#27bfe8 66px,#2067f1 81px,#2081f1 92px,#21a1ef 103px,#2097f1 117px,#24afec 128px,#2075f1 138px,#1f3bf0 139px,#1919e4 140px,#1818e0 151px,#1d2bee 152px,#206cf1 153px,#2082f1 156px,#219eef 172px,#208bf1 198px,#2093f1 201px)"></i><i style="left:430px;top:296px;width:1px;height:202px;background:linear-gradient(#b9221d 0px,#cc3c22 12px,#e17922 25px,#eeb421 33px,#dfe72e 41px,#c5f046 55px,#3deacf 71px,#20adf1 83px,#3dedcd 99px,#3df1ce 121px,#2edee0 138px,#2ac9e3 139px,#268ce8 140px,#1924e2 143px,#1819e0 146px,#288ce4 151px,#32dadb 153px,#35ebd7 177px,#35ebd7 201px)"></i><i style="left:431px;top:296px;width:1px;height:202px;background:linear-gradient(#7e0f0f 0px,#af1a1a 13px,#d55323 30px,#eeb121 42px,#efcc21 55px,#c3f147 62px,#4bf1c0 77px,#3cedcf 85px,#61f1a9 92px,#64f1a7 103px,#4ef1bd 115px,#4df1bd 131px,#37e8d5 142px,#2ba1df 145px,#39e8d3 148px,#60f1ab 159px,#42f1c9 173px,#5df1ae 196px,#53f1b7 201px)"></i><i style="left:432px;top:296px;width:2px;height:202px;background:linear-gradient(#5f0c0b 0px,#6f0d0d 13px,#ab1919 24px,#ca3522 33px,#db6523 43px,#de7023 55px,#e9d726 64px,#b4f156 70px,#7af191 83px,#90f17a 87px,#bcf14e 90px,#9af170 95px,#b1f15a 100px,#5cf1ae 113px,#7cf18f 119px,#66f1a4 131px,#51f1b9 136px,#56f1b5 147px,#70f19b 153px,#9ff16b 159px,#56f1b4 171px,#6ef19c 186px,#a2f168 198px,#88f183 201px)"></i><i style="left:434px;top:296px;width:2px;height:202px;background:linear-gradient(#5f0c0b 0px,#6f0c0b 21px,#850f10 30px,#c92e22 36px,#c0241f 47px,#b5251c 57px,#d95f23 62px,#ebe423 69px,#d3f138 73px,#e4de2b 77px,#cbf13f 83px,#edcf23 92px,#e2e82b 102px,#d0f13b 105px,#90f17b 109px,#81f18a 113px,#bbf14f 118px,#b9f151 122px,#50f1bb 130px,#68f1a3 134px,#b1f05a 139px,#d1e63c 144px,#87f184 149px,#98f172 154px,#e5e12a 160px,#e5d42a 162px,#c5f146 164px,#85f185 166px,#72f198 170px,#84f186 176px,#58f1b3 182px,#48f1c3 185px,#8ff17c 193px,#e1e12d 198px,#dddb30 201px)"></i><i style="left:436px;top:296px;width:2px;height:202px;background:linear-gradient(#610c0b 0px,#630c0b 25px,#670c0b 31px,#c52820 37px,#b5191c 46px,#8f1112 57px,#a71919 62px,#d55223 65px,#f1c221 69px,#ede022 73px,#f1b621 77px,#e7ee24 81px,#e99422 91px,#efac22 95px,#e38522 99px,#e9dc26 106px,#bef14d 112px,#e5dd2a 115px,#ecb622 117px,#e0f02a 122px,#67f1a4 128px,#61f1a9 131px,#a0f16a 134px,#dee72f 136px,#edac21 140px,#eedd21 143px,#d1f13a 146px,#bcf14f 153px,#efd221 158px,#f0ad21 162px,#efde21 164px,#bdf14d 166px,#aaf160 174px,#63f1a8 180px,#62f1a9 185px,#9af170 191px,#e1da2e 194px,#e99522 198px,#e17822 200px,#e27d22 201px)"></i><i style="left:438px;top:296px;width:2px;height:202px;background:linear-gradient(#6a0c0b 0px,#650c0b 16px,#700c0c 33px,#ac1719 39px,#a21417 47px,#9f1416 60px,#c72f21 64px,#eca022 70px,#f1c821 78px,#e2f129 81px,#f1be21 86px,#e17922 91px,#d65523 100px,#efb521 114px,#f0b821 118px,#e7ed23 122px,#a4f167 129px,#aff15c 132px,#e0ea2c 134px,#efb021 136px,#d75b23 139px,#dc6b23 141px,#ebc523 144px,#efb821 149px,#eedd21 157px,#f1b421 162px,#e0ee2c 166px,#bdf14d 174px,#b5f155 177px,#d8de35 186px,#dee92f 190px,#eea722 194px,#dd6c23 200px,#df7123 201px)"></i><i style="left:440px;top:296px;width:2px;height:202px;background:linear-gradient(#750d0d 0px,#630c0b 15px,#5e0c0b 24px,#730c0c 30px,#780d0d 37px,#a11417 42px,#a61518 57px,#ca3223 62px,#eb9b22 74px,#e7e726 81px,#efba21 85px,#da6223 90px,#cf4023 97px,#cd3a22 106px,#d75723 112px,#efe120 118px,#e5eb27 123px,#dee82f 129px,#e5e629 132px,#ea9722 135px,#ca3222 138px,#c92f22 141px,#db6523 145px,#de6e23 150px,#f1d821 156px,#e9e924 159px,#f0b121 162px,#ebe922 167px,#e6d928 172px,#dee72f 176px,#eba022 179px,#e28222 188px,#dd6c23 193px,#de6d23 199px,#e48222 201px)"></i><i style="left:442px;top:296px;width:2px;height:202px;background:linear-gradient(#790d0d 0px,#630c0b 17px,#640c0b 25px,#6c0c0b 31px,#860f10 44px,#871011 52px,#901113 55px,#c1231f 59px,#d45123 69px,#df7422 73px,#e79022 79px,#e38222 83px,#c52b21 90px,#d55323 95px,#c72b21 100px,#cb3722 106px,#edac21 117px,#e48a22 123px,#eca022 127px,#f1d421 130px,#f1c321 133px,#e07722 136px,#ca3122 138px,#ce3e23 144px,#de6e23 150px,#f0ae21 153px,#eca722 159px,#e07822 162px,#edd522 166px,#f1ca21 168px,#e58722 171px,#efb221 175px,#da6323 180px,#efad21 184px,#efaa22 185px,#d34e23 188px,#d55223 194px,#ea9822 200px,#f0af21 201px)"></i><i style="left:444px;top:296px;width:2px;height:202px;background:linear-gradient(#931213 0px,#840f10 13px,#6b0c0b 20px,#770d0d 26px,#7e0e0f 43px,#7e0e0f 52px,#b3181b 60px,#bb1d1d 65px,#d24923 77px,#c83421 82px,#db6623 95px,#cb3623 99px,#e07522 104px,#f0c721 108px,#f0bd21 110px,#dd6b23 113px,#dc6923 116px,#c92d21 119px,#ca3222 124px,#ec9f22 127px,#f1b121 134px,#db6523 139px,#e89022 147px,#e89122 154px,#da6323 159px,#cf4323 162px,#e17a22 167px,#f1d321 170px,#f1cc21 172px,#dc6823 175px,#d14823 180px,#e99322 185px,#efcf21 189px,#e78d22 198px,#eb9b22 201px)"></i><i style="left:446px;top:296px;width:1px;height:202px;background:linear-gradient(#c75557 0px,#ad4f50 16px,#9d4c4d 46px,#b25051 55px,#da6d5c 69px,#d96a5d 78px,#cc5758 82px,#e48b5c 95px,#d7665c 99px,#f5e15a 109px,#d6615b 117px,#d6625b 124px,#efb05b 127px,#f2bd5b 134px,#e6935c 140px,#f4c35b 152px,#eba25c 155px,#de795c 158px,#e2855c 166px,#f5da5b 171px,#e2845c 176px,#e48b5c 182px,#f5d95b 189px,#f1b75b 196px,#eeac5b 200px,#efb15b 201px)"></i><i style="left:449px;top:296px;width:1px;height:202px;background:linear-gradient(#399ae7 0px,#3798e9 29px,#2f3af2 72px,#2d2fed 150px,#2727de 159px,#2f36f2 176px,#2f38f2 201px)"></i><i style="left:450px;top:296px;width:1px;height:202px;background:linear-gradient(#a6ed66 0px,#abed61 14px,#7af190 33px,#30c4de 55px,#205ef1 70px,#2050f1 98px,#2064f1 117px,#2047f1 150px,#1924e2 153px,#1a27e6 163px,#2054f1 166px,#2049f1 189px,#2051f1 201px)"></i><i style="left:451px;top:296px;width:1px;height:202px;background:linear-gradient(#e69422 0px,#e38722 11px,#ebbf23 21px,#cfed3d 37px,#82f189 55px,#30d9dd 65px,#2090f1 80px,#21a8ef 102px,#2ad0e4 111px,#2092f1 157px,#21acef 170px,#2073f1 182px,#20a6f0 197px,#20a4f0 201px)"></i><i style="left:452px;top:296px;width:1px;height:202px;background:linear-gradient(#c73321 0px,#cb3822 12px,#df7422 25px,#eed222 43px,#c6f145 55px,#4cf0be 70px,#2adbe3 82px,#49f1c1 115px,#3bf1d0 125px,#31e5da 155px,#29e7e2 171px,#22c1ee 184px,#3becd0 192px,#37edd4 201px)"></i><i style="left:453px;top:296px;width:1px;height:202px;background:linear-gradient(#9f1416 0px,#ac181a 12px,#ce4023 25px,#ea9b22 44px,#e5e728 57px,#9cf16f 65px,#70f19b 74px,#4ef1bd 79px,#5bf1b0 92px,#6af1a0 98px,#6af1a1 110px,#71f19a 120px,#51f1ba 125px,#33f1d7 142px,#58f1b3 150px,#29e8e1 182px,#43f1c8 186px,#67f1a3 190px,#4bf1bf 199px,#59f1b1 201px)"></i><i style="left:454px;top:296px;width:2px;height:202px;background:linear-gradient(#630d0c 0px,#7c0e0f 13px,#b41d1c 23px,#de6f23 49px,#e78e22 55px,#e9dc26 61px,#b4f157 73px,#7af190 78px,#84f187 89px,#9ff16b 95px,#88f183 108px,#a4f166 113px,#8ff17c 118px,#a2f169 122px,#6df19e 129px,#4bf1c0 142px,#76f194 150px,#67f1a4 155px,#66f1a4 159px,#57f1b3 163px,#6bf19f 167px,#43f1c7 183px,#59f1b1 186px,#88f182 189px,#6ff19b 194px,#7af191 201px)"></i><i style="left:456px;top:296px;width:2px;height:202px;background:linear-gradient(#5b0d0b 0px,#8a1011 28px,#b51c1c 37px,#c82e22 44px,#d75a23 56px,#f1c421 67px,#dfef2c 71px,#96f174 81px,#bbf150 92px,#9df16d 95px,#69f1a2 100px,#82f188 103px,#dfed2d 109px,#dbef30 113px,#a7f163 118px,#dde730 125px,#dfce2f 130px,#c2ee4a 134px,#7df18d 139px,#a6f164 144px,#63f1a8 148px,#8af181 155px,#a5f166 158px,#80f18b 162px,#cdeb40 167px,#cde740 173px,#d4e03a 177px,#a3f168 182px,#64f1a7 185px,#67f1a4 191px,#b9f152 198px,#a3f167 200px,#88f183 201px)"></i><i style="left:458px;top:296px;width:2px;height:202px;background:linear-gradient(#6a0b0b 0px,#6a0c0b 29px,#ab1619 40px,#c62a21 47px,#ca3423 52px,#d45023 60px,#e99422 65px,#e2e72b 76px,#d1f03a 86px,#e8ea24 92px,#c2f148 95px,#74f197 100px,#76f195 103px,#ebdd23 108px,#f0bf21 111px,#ebe323 114px,#b6f155 117px,#e9eb23 123px,#eb9c22 128px,#efae21 132px,#e5ed26 136px,#e9d727 140px,#e5eb28 144px,#a9f161 146px,#5ff1ac 148px,#7df18e 154px,#b1f159 158px,#aaf161 162px,#e6ec26 165px,#efac21 169px,#f1bf21 173px,#f1cf21 176px,#e68c22 180px,#eca322 181px,#f0d421 182px,#cdf13e 183px,#87f184 185px,#72f198 192px,#e1e82c 200px,#e3df2c 201px)"></i><i style="left:460px;top:296px;width:2px;height:202px;background:linear-gradient(#690b0b 0px,#6f0c0b 25px,#b71a1c 47px,#cc3823 60px,#eba222 77px,#f0c021 87px,#f1d821 91px,#edba22 95px,#dedf30 99px,#e3b027 104px,#d45222 108px,#d85c23 110px,#f1c521 115px,#e5e529 118px,#f1d621 123px,#e3ee28 137px,#ece322 140px,#b2f158 144px,#9cf16e 154px,#b6f155 158px,#b2f159 162px,#eaea22 165px,#f1bb21 168px,#f1bf21 173px,#f0b821 176px,#daf130 183px,#caef41 186px,#e6d329 195px,#ece223 198px,#efb021 201px)"></i><i style="left:462px;top:296px;width:2px;height:202px;background:linear-gradient(#6d0c0b 0px,#740d0c 16px,#840f10 26px,#951214 34px,#981214 42px,#a11417 55px,#c82f22 62px,#d14623 73px,#de6e23 78px,#da6223 85px,#edad21 90px,#e68822 97px,#e79222 103px,#db6423 105px,#c72921 107px,#cc3622 111px,#efb521 118px,#eca122 122px,#e9ea23 126px,#e4e829 137px,#ece122 140px,#a1f169 143px,#aef15c 145px,#e9e625 148px,#d6ee36 155px,#cfef3c 159px,#c1f14a 162px,#e6e927 164px,#eda722 167px,#eda722 170px,#f1b721 176px,#e4f126 179px,#e9eb22 185px,#e68a22 194px,#f0b721 198px,#eb9a22 201px)"></i><i style="left:464px;top:296px;width:2px;height:202px;background:linear-gradient(#780d0d 0px,#7f0e0f 16px,#7e0e0f 34px,#6a0c0c 42px,#911113 55px,#bc1e1e 61px,#d45023 78px,#c62c21 86px,#d24c23 92px,#f1c521 102px,#f0b221 104px,#d24b23 106px,#c72921 107px,#c82b21 114px,#d75823 117px,#cf4122 122px,#e99d22 126px,#e27c22 131px,#e79322 136px,#e27d22 140px,#dccc30 143px,#e0f12b 147px,#d0f03b 153px,#ede521 155px,#efb521 157px,#efbd21 159px,#e9de26 162px,#e37f22 167px,#e89022 172px,#e4ef27 183px,#cef13d 188px,#e3e62a 191px,#e89122 195px,#dc6923 201px)"></i><i style="left:466px;top:296px;width:2px;height:202px;background:linear-gradient(#971214 0px,#8e1112 20px,#7d0e0e 24px,#790d0e 30px,#5e0c0b 41px,#9d1316 56px,#cc3823 68px,#dc6923 72px,#be201e 81px,#c62c21 93px,#f1cc21 98px,#ede222 100px,#e68a22 104px,#c72921 107px,#c82c21 124px,#d04423 127px,#cc3723 138px,#cd3c23 142px,#d96023 144px,#f1c221 146px,#deef2d 147px,#abf160 149px,#a8f163 153px,#e8e924 155px,#e58522 157px,#e07522 158px,#efae21 162px,#e58722 169px,#e78c22 172px,#de6e23 175px,#e27b22 180px,#f0b321 182px,#f0db20 183px,#c7f144 185px,#b5f156 190px,#efe120 193px,#d55123 198px,#c93023 201px)"></i><i style="left:468px;top:296px;width:1px;height:202px;background:linear-gradient(#faefef 0px,#fefaef 146px,#fcf3f0 198px,#fbf1f0 201px)"></i><i style="left:470px;top:296px;width:1px;height:202px;background:linear-gradient(#80bfef 0px,#798cf7 53px,#7676f2 147px,#7575ed 169px,#797bf7 201px)"></i><i style="left:471px;top:296px;width:1px;height:202px;background:linear-gradient(#afe15f 0px,#81eb8b 15px,#42d1cb 29px,#26a8e8 56px,#206af1 68px,#206af1 95px,#2041f1 146px,#1717dc 149px,#1717de 168px,#2045f1 171px,#2040f1 201px)"></i><i style="left:472px;top:296px;width:1px;height:202px;background:linear-gradient(#d96222 0px,#e69722 11px,#ceea3f 22px,#8ef17d 40px,#78f192 55px,#2fd5de 67px,#2cd1e2 90px,#2acfe3 105px,#21a3ef 131px,#21a1ef 142px,#2079f1 147px,#1a1ae6 149px,#1717db 167px,#1b1be9 168px,#2084f1 170px,#207cf1 201px)"></i><i style="left:473px;top:296px;width:1px;height:202px;background:linear-gradient(#ac1a1a 0px,#ca3722 11px,#ecd423 27px,#cfef3c 49px,#bef14d 56px,#6df19e 68px,#61f1aa 81px,#42f1c9 110px,#3eefcd 124px,#2fe2de 146px,#25bfea 148px,#2179ee 149px,#1a25e4 151px,#1616da 159px,#1a1be5 167px,#1f51f2 168px,#29c3e6 169px,#32e2da 170px,#27d5e6 201px)"></i><i style="left:474px;top:296px;width:1px;height:202px;background:linear-gradient(#710d0d 0px,#c42a20 16px,#eda822 31px,#f0cf21 47px,#f0c921 54px,#ccf13f 61px,#a1f169 68px,#8cf17e 84px,#60f1aa 113px,#74f197 121px,#4ff1bb 128px,#40f1ca 132px,#4bf1c0 145px,#2be6e1 150px,#289ee6 152px,#1b38e6 154px,#191be1 155px,#1818df 165px,#1d2dec 166px,#40e3cc 168px,#56f1b4 170px,#42f1c9 179px,#39f1d1 201px)"></i><i style="left:475px;top:296px;width:2px;height:202px;background:linear-gradient(#5e0c0b 0px,#780e0e 12px,#c83121 23px,#e27e22 38px,#e17a22 51px,#e38022 55px,#e8e127 64px,#dcee30 71px,#cdef3e 83px,#96f174 102px,#76f195 110px,#bbf14f 120px,#8af181 127px,#4ef1bd 130px,#74f197 136px,#5cf1ae 145px,#30eddb 149px,#4af1c1 153px,#41c6c8 157px,#2ec1dc 162px,#48cac3 165px,#65f1a6 167px,#7df18e 171px,#3ff1cb 176px,#4bf1bf 191px,#4bf1c0 201px)"></i><i style="left:477px;top:296px;width:2px;height:202px;background:linear-gradient(#600c0b 0px,#650d0c 18px,#b61b1c 26px,#cb3822 40px,#d24a23 57px,#e99722 63px,#f0dd20 68px,#ea9b22 81px,#e7e127 87px,#dcea30 92px,#d4f037 96px,#b3f158 100px,#cff13c 104px,#85f185 108px,#7df18e 112px,#deeb2e 117px,#edc122 121px,#d1ef3a 124px,#93f177 128px,#8df17d 131px,#d6e937 134px,#d5e439 138px,#acf15e 142px,#4cf1be 148px,#51f1ba 150px,#79f191 153px,#4ff1bc 160px,#64f1a6 167px,#9bf170 171px,#49f1c1 174px,#25d2ea 176px,#219fef 180px,#30ecda 185px,#72f198 189px,#47f1c4 194px,#86f185 198px,#55f1b6 201px)"></i><i style="left:479px;top:296px;width:2px;height:202px;background:linear-gradient(#5c0c0b 0px,#660c0b 21px,#a51518 29px,#c72d22 53px,#ca3423 60px,#eba322 68px,#e79022 72px,#d65523 78px,#efaf21 94px,#e0eb2c 97px,#b9f152 99px,#e4e629 102px,#eed422 104px,#bcf14f 110px,#a7f164 112px,#e3eb29 115px,#eda722 118px,#dd6d23 120px,#de6e23 122px,#f1cb21 124px,#e0f12b 125px,#c9f142 127px,#e9d727 131px,#f1da20 135px,#ea9b22 139px,#ebaa22 142px,#d9e535 145px,#6ff19c 149px,#54f1b7 159px,#b2f159 171px,#5ef1ad 174px,#30d9dd 176px,#2073f1 179px,#2065f1 180px,#2091f1 182px,#36ebd5 185px,#69f1a1 190px,#91f179 201px)"></i><i style="left:481px;top:296px;width:2px;height:202px;background:linear-gradient(#630c0b 0px,#5f0c0b 12px,#650c0b 25px,#9e1416 33px,#b2171b 39px,#b0181b 43px,#9b1415 51px,#c0281f 63px,#db6523 69px,#cd3d23 79px,#df7322 89px,#dd7e22 100px,#d85d22 103px,#e07622 105px,#f1c121 108px,#eed722 117px,#edac21 119px,#e17a22 121px,#eca022 123px,#eede21 125px,#d9ef32 129px,#f1db20 133px,#e58622 137px,#dc6823 143px,#e27c22 144px,#eede22 146px,#a2f168 148px,#91f17a 150px,#b1f05a 154px,#a6f165 158px,#d2e23b 162px,#bef14d 167px,#ead625 171px,#9ef06d 177px,#79e893 180px,#6af1a1 185px,#a1f16a 189px,#88f183 194px,#abf15f 201px)"></i><i style="left:483px;top:296px;width:2px;height:202px;background:linear-gradient(#6a0b0a 0px,#6c0c0b 12px,#5d0c0b 25px,#8f1112 33px,#8d1012 37px,#aa1619 41px,#760d0d 49px,#a91519 63px,#d24923 68px,#d24923 78px,#ce3f23 82px,#de6e23 89px,#da6323 94px,#c72b21 97px,#cb3423 105px,#e68b22 108px,#e38122 113px,#f0df20 116px,#e6ee25 118px,#efad21 121px,#ede720 127px,#aff15c 130px,#cdf13e 132px,#eee221 133px,#e68922 135px,#d75a23 138px,#d34e23 143px,#e78c22 145px,#e7e626 147px,#bbf14f 149px,#ebe623 154px,#e0f02a 157px,#eea822 162px,#e8dc27 167px,#eea822 172px,#eaa122 177px,#e9d527 182px,#bcf04f 186px,#c3f147 189px,#90f17b 193px,#caf140 201px)"></i><i style="left:485px;top:296px;width:2px;height:202px;background:linear-gradient(#6c0b0b 0px,#680c0b 20px,#760d0d 29px,#860f10 32px,#6c0c0b 36px,#941214 44px,#931213 56px,#c82b21 66px,#d14623 74px,#d85d23 77px,#c62d21 81px,#cb3623 96px,#ca3123 105px,#d85b23 109px,#ce3f23 112px,#da6223 114px,#f0ba21 116px,#f1cf21 118px,#f1b821 122px,#f1c521 127px,#c6ee45 130px,#dce531 132px,#eb9f22 134px,#db6623 136px,#d44f23 142px,#e68b22 145px,#e8eb23 149px,#d2f138 152px,#f0cd21 159px,#eb9d22 169px,#e17922 174px,#dd6d23 176px,#eda822 180px,#eca322 185px,#dbc830 191px,#d3ea39 196px,#d7f134 201px)"></i><i style="left:487px;top:296px;width:2px;height:202px;background:linear-gradient(#860f10 0px,#850f10 15px,#8c1012 23px,#850f10 40px,#c32620 60px,#b71a1c 64px,#cc3823 68px,#d04423 78px,#d55223 83px,#c92e22 87px,#c0221f 91px,#ce3e23 97px,#c82d22 106px,#cf4123 113px,#e89022 117px,#efac21 123px,#ea9722 127px,#eca622 131px,#ca3122 135px,#d14723 138px,#d65623 140px,#cc3823 143px,#da6323 145px,#efe120 148px,#e5ec27 152px,#f0dd21 154px,#e48322 157px,#de7023 163px,#e89222 166px,#da6223 171px,#eea922 176px,#da6123 180px,#e07522 184px,#ce3e23 189px,#cd3a23 193px,#d04623 194px,#f1cc21 197px,#d3f138 199px,#a7f164 201px)"></i><i style="left:489px;top:296px;width:1px;height:202px;background:linear-gradient(#dea2a3 0px,#d9a1a2 45px,#ebb2a7 86px,#eaaea7 93px,#ebb1a7 105px,#f3c8a7 120px,#f1c2a7 132px,#e9aaa6 136px,#edb5a7 144px,#f9efa6 149px,#f9dfa6 155px,#f2c5a7 159px,#f2c6a7 168px,#f0c1a7 173px,#f1c3a7 179px,#e9aca7 192px,#f0bfa7 195px,#f8f5a6 199px,#e3f9ba 201px)"></i></div>
<svg width="539" height="550" viewBox="0 0 539 550">
<defs>
<linearGradient id="cbar" x1="0" y1="1" x2="0" y2="0">
<stop offset="0" stop-color="#000080"/><stop offset=".11" stop-color="#0000ff"/><stop offset=".125" stop-color="#0000ff"/>
<stop offset=".34" stop-color="#00e8ff"/><stop offset=".375" stop-color="#10ffef"/><stop offset=".5" stop-color="#80ff80"/>
<stop offset=".615" stop-color="#ffff00"/><stop offset=".635" stop-color="#fff000"/><stop offset=".89" stop-color="#ff1200"/>
<stop offset=".91" stop-color="#f00000"/><stop offset="1" stop-color="#800000"/>
</linearGradient>
<clipPath id="tclip"><rect x="46" y="27" width="425" height="179"/></clipPath>
</defs>
<!-- top field -->
<g clip-path="url(#tclip)"><path d="M46.0 164.5C46.4 163.1 47.2 164.3 48.5 164.7C49.8 165.1 52.9 166.3 53.6 167.0C54.3 167.7 53.0 168.4 52.5 169.0C52.0 169.6 51.6 170.0 50.7 170.6C49.8 171.2 47.8 172.4 47.0 172.8C46.2 173.2 46.2 174.4 46.0 173.0C45.8 171.6 45.6 165.9 46.0 164.5Z" fill="none" stroke="#fff" stroke-width="1.1"/><path d="M57.0 171.0C57.2 170.0 58.5 167.7 60.0 166.0C61.5 164.3 64.3 162.6 66.0 161.0C67.7 159.4 69.0 157.9 70.0 156.5C71.0 155.1 71.2 153.4 72.0 152.5C72.8 151.6 74.2 151.1 75.0 151.3C75.8 151.5 76.4 152.5 76.5 153.5C76.6 154.5 75.3 156.4 75.5 157.5C75.7 158.6 77.1 159.2 77.5 160.0C77.9 160.8 78.9 161.2 78.0 162.0C77.1 162.8 74.3 163.8 72.0 165.0C69.7 166.2 66.2 168.4 64.0 169.5C61.8 170.6 60.2 171.6 59.0 171.8C57.8 172.1 56.8 172.0 57.0 171.0Z" fill="none" stroke="#fff" stroke-width="1.1"/><path d="M86.0 162.0C85.5 161.2 84.5 158.8 85.0 157.5C85.5 156.2 87.2 155.1 89.0 154.3C90.8 153.5 93.8 152.8 96.0 152.6C98.2 152.4 100.5 152.6 102.0 153.0C103.5 153.4 105.3 154.2 105.3 155.0C105.3 155.8 103.7 157.2 102.0 158.0C100.3 158.8 97.3 159.3 95.0 160.0C92.7 160.7 89.5 161.7 88.0 162.0C86.5 162.3 86.5 162.8 86.0 162.0Z" fill="none" stroke="#fff" stroke-width="1.1"/><path d="M127.4 166.8C126.8 166.6 126.2 165.8 126.6 164.8C127.0 163.8 128.4 162.4 130.0 161.0C131.6 159.6 134.4 157.6 136.0 156.5C137.6 155.4 138.3 154.8 139.5 154.5C140.7 154.2 142.3 154.2 143.0 154.5C143.7 154.8 144.0 155.6 143.5 156.2C143.0 156.8 141.4 157.0 140.0 158.0C138.6 159.0 136.7 160.7 135.0 162.0C133.3 163.3 131.3 165.2 130.0 166.0C128.7 166.8 128.0 167.0 127.4 166.8Z" fill="none" stroke="#fff" stroke-width="1.1"/><path d="M190.5 154.0C190.0 153.1 190.9 151.0 192.0 149.5C193.1 148.0 195.2 146.1 197.0 145.0C198.8 143.9 201.1 143.2 203.0 143.0C204.9 142.8 207.3 143.1 208.5 143.5C209.7 143.9 210.5 144.6 210.4 145.5C210.3 146.4 209.4 147.8 208.0 149.0C206.6 150.2 204.2 151.5 202.0 152.5C199.8 153.5 196.9 154.8 195.0 155.0C193.1 155.2 191.0 154.9 190.5 154.0Z" fill="none" stroke="#fff" stroke-width="1.1"/><path d="M212.6 164.5C212.7 163.2 213.6 161.2 214.5 160.0C215.4 158.8 217.2 157.9 218.0 157.0C218.8 156.1 218.7 154.8 219.5 154.5C220.3 154.2 220.9 154.9 223.0 154.9C225.1 154.9 229.3 154.8 232.0 154.5C234.7 154.2 237.3 154.2 239.3 153.4C241.3 152.6 242.3 150.9 243.8 149.7C245.3 148.5 246.7 146.5 248.2 146.0C249.7 145.5 250.9 146.9 252.7 146.7C254.5 146.4 256.4 145.5 258.9 144.5C261.4 143.5 264.6 141.3 267.8 140.8C271.0 140.3 276.2 140.9 278.2 141.5C280.2 142.1 279.6 143.7 279.7 144.5C279.8 145.3 277.8 146.6 278.5 146.5C279.2 146.4 280.5 144.2 284.1 143.7C287.8 143.2 296.6 143.2 300.4 143.7C304.2 144.2 306.2 145.4 307.1 146.7C308.0 147.9 307.0 149.6 305.6 151.2C304.2 152.8 300.9 154.9 299.0 156.4C297.1 157.9 297.7 159.2 294.5 160.0C291.3 160.8 283.2 161.0 279.7 161.5C276.2 162.0 276.7 162.8 273.7 163.0C270.7 163.2 264.0 163.5 261.9 163.0C259.8 162.5 260.5 161.2 261.1 160.0C261.7 158.8 265.2 156.9 265.6 155.6C266.0 154.3 265.0 152.4 263.4 152.0C261.8 151.6 258.4 152.4 256.0 153.0C253.6 153.6 251.3 154.4 249.0 155.5C246.7 156.6 245.5 157.9 242.3 159.3C239.1 160.7 233.0 162.6 230.0 164.0C227.0 165.4 226.4 166.6 224.5 167.5C222.6 168.4 220.3 169.6 218.6 169.7C216.8 169.8 215.0 168.9 214.0 168.0C213.0 167.1 212.5 165.8 212.6 164.5Z" fill="none" stroke="#fff" stroke-width="1.1"/><path d="M370.0 167.8C370.2 166.8 373.0 163.9 374.5 162.6C376.0 161.2 377.9 160.8 379.0 159.7C380.1 158.6 380.0 157.0 381.2 156.0C382.4 155.0 384.5 153.9 386.4 153.7C388.2 153.4 390.8 153.9 392.3 154.5C393.8 155.1 394.4 156.5 395.3 157.4C396.2 158.3 398.0 158.7 397.5 159.7C397.0 160.7 394.2 162.3 392.3 163.4C390.4 164.5 388.6 165.9 386.4 166.4C384.2 166.9 381.2 166.0 379.0 166.4C376.8 166.8 374.5 168.4 373.0 168.6C371.5 168.8 369.8 168.8 370.0 167.8Z" fill="none" stroke="#fff" stroke-width="1.1"/><path d="M427.0 154.5C427.3 153.8 428.5 153.2 430.0 153.0C431.5 152.8 434.1 152.8 436.0 153.2C437.9 153.6 440.7 154.7 441.5 155.5C442.3 156.3 442.2 157.2 441.0 157.8C439.8 158.4 436.2 158.9 434.0 158.8C431.8 158.8 429.2 158.2 428.0 157.5C426.8 156.8 426.7 155.2 427.0 154.5Z" fill="none" stroke="#fff" stroke-width="1.1"/><path d="M447.5 179.5C445.9 179.1 449.2 175.6 450.0 174.0C450.8 172.4 450.9 171.5 452.0 170.0C453.1 168.5 454.4 166.2 456.4 164.9C458.4 163.6 461.6 162.8 463.8 161.9C466.0 161.0 468.4 160.2 469.7 159.7C471.0 159.2 471.2 156.8 471.5 159.0C471.8 161.2 472.6 170.3 471.5 173.0C470.4 175.7 467.0 174.4 465.0 175.0C463.0 175.6 462.2 175.8 459.3 176.5C456.4 177.2 449.1 179.9 447.5 179.5Z" fill="none" stroke="#fff" stroke-width="1.1"/><ellipse cx="246.8" cy="140.8" rx="2.2" ry="1.5" transform="rotate(0 246.8 140.8)" fill="none" stroke="#fff" stroke-width="1"/><ellipse cx="243" cy="169.7" rx="1.2" ry="1.2" transform="rotate(0 243 169.7)" fill="none" stroke="#fff" stroke-width="1"/><ellipse cx="252.7" cy="175.2" rx="3" ry="1.5" transform="rotate(-25 252.7 175.2)" fill="none" stroke="#fff" stroke-width="1"/><ellipse cx="243.8" cy="180" rx="4" ry="1.6" transform="rotate(-30 243.8 180)" fill="none" stroke="#fff" stroke-width="1"/><ellipse cx="258.4" cy="172" rx="1.6" ry="1.4" transform="rotate(0 258.4 172)" fill="none" stroke="#fff" stroke-width="1"/><ellipse cx="254" cy="176.2" rx="3.5" ry="1.5" transform="rotate(-20 254 176.2)" fill="none" stroke="#fff" stroke-width="1"/><ellipse cx="344.8" cy="167.8" rx="1.6" ry="1.4" transform="rotate(0 344.8 167.8)" fill="none" stroke="#fff" stroke-width="1"/><circle cx="445.3" cy="163.4" r="1.6" fill="#fff"/><path d="M46.0 161.7C47.5 161.8 52.1 162.2 55.0 162.3C57.9 162.4 60.2 163.0 63.3 162.5C66.4 162.0 71.2 160.8 73.7 159.5C76.2 158.2 76.4 156.0 78.1 155.0C79.8 154.0 82.3 153.4 84.0 153.5C85.7 153.6 86.0 155.6 88.0 155.8C90.0 156.1 93.3 155.2 96.0 155.0C98.7 154.8 101.5 154.9 104.0 154.5C106.5 154.1 108.5 153.4 110.8 152.8C113.1 152.2 115.5 151.6 118.0 151.0C120.5 150.4 122.7 149.5 125.9 149.1C129.1 148.7 135.0 147.5 137.0 148.4C139.0 149.3 137.0 153.2 137.7 154.3C138.4 155.4 138.7 155.5 141.4 155.0C144.1 154.5 149.4 151.4 154.0 151.3C158.6 151.2 164.2 153.7 168.9 154.3C173.6 154.9 178.3 154.7 182.2 155.0C186.1 155.3 189.2 156.6 192.2 156.4C195.2 156.2 197.1 154.9 200.0 154.0C202.9 153.1 206.9 151.5 209.7 151.2C212.5 150.8 215.2 151.2 217.0 151.9C218.8 152.6 219.3 154.8 220.8 155.6C222.3 156.3 222.4 156.7 226.0 156.4C229.6 156.2 238.3 155.0 242.3 154.1C246.3 153.2 246.2 151.8 250.0 151.2C253.8 150.6 259.9 150.3 264.8 150.4C269.8 150.5 276.5 151.2 279.7 151.9C282.9 152.7 281.4 154.4 284.1 154.9C286.8 155.4 292.5 155.7 296.0 154.9C299.5 154.2 301.9 151.8 304.9 150.4C307.9 149.0 311.3 147.2 313.8 146.7C316.3 146.2 317.0 146.9 319.7 147.4C322.4 147.9 325.8 149.2 330.0 149.5C334.2 149.8 340.4 149.8 344.8 149.3C349.2 148.8 352.7 147.2 356.7 146.3C360.7 145.4 365.9 144.2 368.6 144.1C371.3 144.0 372.5 144.9 373.0 145.6C373.5 146.3 372.7 147.3 371.5 148.5C370.3 149.7 365.9 151.8 365.6 153.0C365.4 154.2 367.8 154.8 370.0 156.0C372.2 157.2 376.3 159.5 379.0 160.4C381.7 161.3 383.7 161.4 386.4 161.2C389.1 160.9 393.0 159.5 395.3 158.9C397.6 158.3 397.7 157.8 400.0 157.4C402.3 157.0 405.7 156.9 408.9 156.7C412.1 156.5 416.3 155.6 419.3 156.0C422.3 156.4 423.7 158.2 426.7 158.9C429.7 159.6 433.4 160.2 437.1 160.4C440.8 160.7 445.3 160.5 449.0 160.4C452.7 160.3 456.6 159.6 459.3 159.7C462.0 159.8 463.4 161.1 465.3 161.2C467.2 161.3 470.1 160.5 471.0 160.4" fill="none" stroke="#000" stroke-width="1.3"/><circle cx="413.4" cy="153" r="2.4" fill="none" stroke="#000" stroke-width="1.1"/><ellipse cx="72" cy="160.5" rx="41" ry="15.5" transform="rotate(-18 72 160.5)" fill="none" stroke="#f2b640" stroke-width="2.6" stroke-linecap="round" stroke-dasharray="0 4.6"/><ellipse cx="140.6" cy="156.8" rx="23" ry="15.8" transform="rotate(-8 140.6 156.8)" fill="none" stroke="#f2b640" stroke-width="2.6" stroke-linecap="round" stroke-dasharray="0 4.6"/><ellipse cx="373.4" cy="160.7" rx="35.6" ry="13.2" transform="rotate(-9 373.4 160.7)" fill="none" stroke="#f2b640" stroke-width="2.6" stroke-linecap="round" stroke-dasharray="0 4.6"/><ellipse cx="462" cy="163" rx="32" ry="16" transform="rotate(-25 462 163)" fill="none" stroke="#f2b640" stroke-width="2.6" stroke-linecap="round" stroke-dasharray="0 4.6"/><ellipse cx="246" cy="155" rx="65" ry="28.5" transform="rotate(-6 246 155)" fill="none" stroke="#e0452f" stroke-width="2.6" stroke-linecap="round" stroke-dasharray="0 4.6"/></g>
<rect x="46" y="26.7" width="425" height="179.3" fill="none" stroke="#444" stroke-width="0.8"/>
<!-- colorbar -->
<rect x="473.5" y="26.5" width="10.5" height="179.5" fill="url(#cbar)" stroke="#222" stroke-width="0.6"/>
<g stroke="#999" stroke-width="1">
<path d="M484 26.5h6M484 56.5h6M484 86.5h6M484 116h6M484 146h6M484 176h6M484 205.5h6"/>
</g>
<g class="cb">
<text x="495" y="29.8">5</text><text x="495" y="59.8">4</text><text x="495" y="89.8">3</text><text x="495" y="119.5">2</text>
<text x="495" y="149.5">1</text><text x="495" y="179.5">0</text><text x="495.5" y="209.5">-1</text>
</g>
<text transform="translate(522.5,104.5) rotate(-90)" text-anchor="middle" font-family="Liberation Serif,serif" font-size="13.5" fill="#222"><tspan font-style="italic">U</tspan><tspan font-size="8" dy="3">z</tspan><tspan dy="-3">[m/s]</tspan></text>
<path d="M535.5 200v7" stroke="#ccc" stroke-width="1"/>
<!-- top axes -->
<path d="M45.3 206.5V12" stroke="#000" stroke-width="2.4"/>
<path d="M40.5 13.5L45.5 3.5L50.5 13.5Z" fill="#000"/>
<path d="M36.5 27h8M36.5 71.5h8M36.5 116h8M36.5 160.5h8M36.5 205.5h8" stroke="#000" stroke-width="1.3"/>
<g class="tk" text-anchor="end">
<text x="31" y="30.5">0</text><text x="34" y="74.8">−20</text><text x="34" y="119.5">−40</text><text x="34" y="164.2">−60</text><text x="35" y="208.7">−80</text>
</g>
<text transform="translate(12.8,104) rotate(-90)" text-anchor="middle" font-family="Liberation Serif,serif" font-size="11.8" fill="#000" stroke="#000" stroke-width="0.35">z (mm)</text>
<g font-family="Liberation Serif,serif" fill="#111">
<text x="38.8" y="216.3" text-anchor="middle" font-size="13.5" font-style="italic" font-weight="bold">−π</text>
<text x="266.7" y="216" text-anchor="middle" font-size="10" font-weight="bold">0</text>
<text x="265.3" y="229.8" text-anchor="middle" font-size="15.5" font-style="italic">θ</text>
<text x="467.5" y="216" text-anchor="middle" font-size="12" font-style="italic" font-weight="bold">π</text>
</g>
<!-- arrows -->
<g fill="#eeb43c">
<path d="M136.4 177h6.3v51.1h5.5L139.6 234.3L131 228.1h5.4Z"/>
<path d="M367.7 177.7h5.9v48.5h5.2L370.6 232.7L362.5 226.2h5.2Z"/>
<path d="M445.6 188h6.4v38.2h5.3L448.8 232.7L440.4 226.2h5.2Z"/>
</g>
<path d="M240 191h6v36.5h5L242.8 234L234.5 227.5h5.5Z" fill="#df4330"/>
<path d="M192.6 156v57.6" stroke="#000" stroke-width="1.2"/>
<circle cx="192.6" cy="156.3" r="2.3" fill="#000"/>
<!-- labels -->
<g class="lb" text-anchor="middle">
<text x="139" y="242.8">flame bulge</text>
<text x="192.3" y="228.6">flame</text>
<text x="192.3" y="242.8">base</text>
<text x="251.8" y="242.8">flame tongue</text>
<text x="368" y="243.2">flame bulge</text>
<text x="471.8" y="243.2">secondary flame tongue</text>
</g>
<!-- shapes -->
<path d="M129.2 275.8V264.5L151.2 248.2L173.1 264.5V275.8Z" fill="#eeb43c"/>
<path d="M174.5 275.8V263.5L247.8 248.3L319.9 265.2V275.8Z" fill="#df4330"/>
<path d="M340.3 275.8V264.5L372.8 248.3L406.1 264.5V275.8Z" fill="#eeb43c"/>
<path d="M427.1 275.8V263.7L468.3 248.5L510.1 265.8V275.8Z" fill="#eeb43c"/>
<rect x="45.5" y="277.8" width="127.6" height="16.8" fill="#eeb43c"/>
<rect x="174.5" y="277.8" width="144" height="16.8" fill="#df4330"/>
<rect x="321" y="277.8" width="168" height="16.8" fill="#eeb43c"/>
<g class="wl" text-anchor="middle">
<text x="109.5" y="289.8">trailing side</text>
<text x="246.6" y="289.8">leading side</text>
<text x="405" y="289.8">trailing side</text>
</g>
<!-- bottom field -->
<path d="M44.0 444.0C44.6 444.3 46.8 444.2 47.5 446.0C48.2 447.8 48.6 451.8 48.5 455.0C48.4 458.2 47.8 463.0 47.0 465.0C46.2 467.0 44.5 466.7 44.0 467.0" fill="none" stroke="#fff" stroke-width="1"/><path d="M65.5 440.0C66.4 440.4 69.8 441.0 70.8 442.3C71.8 443.6 71.8 445.7 71.7 447.9C71.6 450.1 70.9 453.8 69.9 455.3C68.9 456.8 66.2 456.7 65.5 457.0" fill="none" stroke="#fff" stroke-width="1"/><path d="M86.5 432.0C87.1 432.6 89.5 434.1 90.2 435.8C90.9 437.5 91.4 440.9 90.8 442.3C90.2 443.7 87.2 443.7 86.5 444.0" fill="none" stroke="#fff" stroke-width="1"/><path d="M107.8 425.0C108.3 425.8 110.2 427.7 111.0 430.0C111.8 432.3 112.6 436.4 112.4 438.6C112.2 440.8 110.8 442.3 110.0 443.0C109.2 443.7 108.2 443.0 107.8 443.0" fill="none" stroke="#fff" stroke-width="1"/><path d="M129.5 446.0C129.9 446.2 131.3 445.4 131.7 447.0C132.1 448.6 132.1 453.6 131.7 455.3C131.3 457.0 129.9 456.7 129.5 457.0" fill="none" stroke="#fff" stroke-width="1"/><path d="M193.1 427.0C193.7 427.4 195.7 427.8 196.5 429.3C197.3 430.8 197.8 433.6 198.0 435.8C198.2 438.0 197.8 440.8 197.4 442.3C197.0 443.8 196.3 444.6 195.6 445.0C194.9 445.4 193.5 445.0 193.1 445.0" fill="none" stroke="#fff" stroke-width="1"/><path d="M214.4 429.0C214.8 429.3 216.3 429.2 217.0 431.0C217.7 432.8 218.3 436.0 218.5 440.0C218.7 444.0 218.4 451.5 218.0 455.0C217.6 458.5 216.6 460.0 216.0 461.0C215.4 462.0 214.7 461.0 214.4 461.0" fill="none" stroke="#fff" stroke-width="1"/><path d="M235.7 414.0C236.2 414.7 237.9 415.3 238.5 418.0C239.1 420.7 239.3 426.3 239.5 430.0C239.7 433.7 240.2 436.7 239.9 440.0C239.7 443.3 238.7 448.0 238.0 450.0C237.3 452.0 236.1 451.7 235.7 452.0" fill="none" stroke="#fff" stroke-width="1"/><path d="M235.7 470.0C236.1 470.5 237.7 471.7 238.0 473.0C238.3 474.3 237.9 476.8 237.5 478.0C237.1 479.2 236.0 479.7 235.7 480.0" fill="none" stroke="#fff" stroke-width="1"/><path d="M257.1 418.0C257.6 418.5 259.4 419.0 260.0 421.0C260.6 423.0 260.9 426.8 261.0 430.0C261.1 433.2 260.5 435.8 260.5 440.0C260.5 444.2 261.2 450.8 261.0 455.0C260.8 459.2 259.6 463.2 259.0 465.0C258.4 466.8 257.4 465.8 257.1 466.0" fill="none" stroke="#fff" stroke-width="1"/><path d="M278.4 420.0C279.1 420.6 281.4 421.6 282.4 423.8C283.4 426.0 284.1 429.3 284.3 433.0C284.5 436.7 283.9 443.4 283.4 446.0C282.9 448.6 282.3 448.4 281.5 448.9C280.7 449.4 278.9 449.0 278.4 449.0" fill="none" stroke="#fff" stroke-width="1"/><path d="M299.8 424.0C300.4 424.7 302.4 426.6 303.6 428.4C304.9 430.2 306.9 432.6 307.3 434.9C307.8 437.2 306.9 440.5 306.3 442.3C305.7 444.1 304.7 445.0 303.6 445.6C302.5 446.2 300.4 445.9 299.8 446.0" fill="none" stroke="#fff" stroke-width="1"/><path d="M321.1 440.0C321.5 440.5 323.1 441.0 323.5 443.0C323.9 445.0 324.2 450.0 323.8 452.0C323.4 454.0 321.6 454.5 321.1 455.0" fill="none" stroke="#fff" stroke-width="1"/><path d="M342.5 437.0C342.9 437.5 344.5 437.0 345.0 440.0C345.5 443.0 345.8 452.0 345.5 455.0C345.2 458.0 344.0 457.5 343.5 458.0C343.0 458.5 342.7 458.0 342.5 458.0" fill="none" stroke="#fff" stroke-width="1"/><path d="M363.8 430.0C364.2 430.5 365.6 430.5 366.0 433.0C366.4 435.5 366.4 442.5 366.2 445.0C365.9 447.5 364.8 447.5 364.5 448.0" fill="none" stroke="#fff" stroke-width="1"/><path d="M385.1 436.0C385.8 436.2 388.2 435.7 389.0 437.0C389.8 438.3 390.0 441.2 390.0 444.0C390.0 446.8 389.8 452.0 389.0 454.0C388.2 456.0 385.8 455.7 385.1 456.0" fill="none" stroke="#fff" stroke-width="1"/><path d="M406.4 432.0C406.8 432.7 408.1 433.0 408.5 436.0C408.9 439.0 408.9 446.8 408.5 450.0C408.1 453.2 406.8 454.2 406.4 455.0" fill="none" stroke="#fff" stroke-width="1"/><path d="M406.4 480.0C406.7 480.8 408.0 483.3 408.0 485.0C408.0 486.7 406.7 489.2 406.4 490.0" fill="none" stroke="#fff" stroke-width="1"/><path d="M427.8 434.0C428.2 434.3 429.6 434.8 430.1 436.0C430.7 437.2 431.1 439.0 431.1 441.0C431.1 443.0 430.7 446.5 430.1 448.0C429.6 449.5 428.2 449.7 427.8 450.0" fill="none" stroke="#fff" stroke-width="1"/><path d="M449.1 446.0C449.3 446.3 450.3 445.7 450.5 448.0C450.7 450.3 450.7 457.7 450.5 460.0C450.3 462.3 449.3 461.7 449.1 462.0" fill="none" stroke="#fff" stroke-width="1"/><path d="M470.4 443.0C470.9 443.3 472.4 443.5 473.2 445.0C474.0 446.5 474.9 449.2 475.2 452.0C475.5 454.8 475.5 459.8 475.2 462.0C474.9 464.2 474.0 464.3 473.2 465.0C472.4 465.7 470.9 465.8 470.4 466.0" fill="none" stroke="#fff" stroke-width="1"/><path d="M61.5 310.0C61.1 310.6 59.7 312.1 59.3 313.6C58.9 315.1 58.8 317.7 59.3 319.0C59.8 320.3 61.9 321.1 62.4 321.5" fill="none" stroke="#142014" stroke-width="1.05"/><path d="M62.6 327.5C62.1 328.4 60.4 330.2 59.7 333.0C59.1 335.8 59.2 340.0 58.7 344.0C58.2 348.0 57.8 353.3 56.9 357.0C56.0 360.7 53.8 362.7 53.2 366.4C52.6 370.1 52.7 374.1 53.2 379.3C53.7 384.5 55.5 393.8 56.0 397.8C56.5 401.8 56.3 400.9 56.0 403.4C55.7 405.9 54.7 409.3 54.1 412.7C53.5 416.1 53.1 419.5 52.3 423.8C51.5 428.1 50.4 435.1 49.5 438.6C48.6 442.1 47.5 443.9 47.1 445.0" fill="none" stroke="#142014" stroke-width="1.05"/><path d="M84.1 346.0C83.4 347.2 81.1 350.9 80.0 353.4C78.9 355.9 77.9 358.0 77.3 360.8C76.7 363.6 76.8 366.6 76.3 370.0C75.8 373.4 75.1 376.4 74.5 381.0C73.9 385.6 73.1 393.5 72.6 397.8C72.1 402.1 72.0 403.3 71.7 407.0C71.4 410.7 71.1 415.7 70.8 420.0C70.5 424.3 70.2 429.6 69.9 433.0C69.6 436.4 69.2 438.9 68.9 440.4C68.6 441.9 68.2 441.7 68.0 442.0" fill="none" stroke="#142014" stroke-width="1.05"/><path d="M105.0 314.5C104.5 316.1 103.5 320.9 102.3 323.8C101.1 326.7 98.7 329.4 97.6 332.0C96.5 334.6 95.6 337.2 95.8 339.5C96.0 341.8 97.4 344.1 98.6 346.0C99.8 347.9 102.1 348.8 103.2 350.6C104.3 352.4 104.8 353.8 105.0 357.0C105.2 360.2 104.7 365.4 104.1 370.0C103.5 374.6 102.1 380.3 101.3 384.9C100.5 389.5 100.3 394.1 99.5 397.8C98.7 401.5 97.6 403.3 96.7 407.0C95.8 410.7 94.8 416.6 93.9 420.0C93.0 423.4 91.9 425.3 91.1 427.5C90.3 429.7 89.8 431.4 89.3 433.0C88.8 434.6 88.2 436.3 88.0 437.0" fill="none" stroke="#142014" stroke-width="1.05"/><path d="M124.5 303.4C124.2 304.6 123.0 307.4 123.0 310.8C123.0 314.2 124.4 320.1 124.5 323.8C124.6 327.5 123.4 329.6 123.6 333.0C123.8 336.4 125.9 340.9 125.4 344.0C124.9 347.1 122.0 349.4 120.8 351.6C119.6 353.8 118.3 354.5 118.0 357.0C117.7 359.5 119.1 362.7 118.9 366.4C118.7 370.1 117.5 374.1 117.0 379.3C116.5 384.5 116.2 393.2 116.1 397.8C115.9 402.4 116.4 403.0 116.1 407.0C115.8 411.0 114.9 417.7 114.3 422.0C113.7 426.3 113.2 430.1 112.4 433.0C111.6 435.9 110.2 438.4 109.7 439.5" fill="none" stroke="#142014" stroke-width="1.05"/><path d="M147.4 296.5C147.2 297.0 146.7 299.2 146.5 299.7" fill="none" stroke="#142014" stroke-width="1.05"/><path d="M147.8 323.8C147.4 324.6 146.1 325.3 145.6 328.4C145.1 331.5 145.2 338.1 145.0 342.3C144.8 346.5 145.1 350.0 144.7 353.4C144.3 356.8 143.3 359.3 142.8 362.7C142.3 366.1 142.2 370.4 141.9 373.8C141.6 377.2 141.5 379.0 141.0 383.0C140.5 387.0 139.9 394.4 139.1 397.8C138.3 401.2 137.1 400.6 136.3 403.4C135.5 406.2 135.0 410.8 134.5 414.5C134.0 418.2 133.5 421.9 133.2 425.6C132.9 429.3 133.0 434.3 132.6 436.7C132.2 439.1 131.3 439.4 131.0 440.0" fill="none" stroke="#142014" stroke-width="1.05"/><path d="M167.8 321.9C167.7 323.8 167.3 329.3 167.3 333.0C167.3 336.7 168.0 340.0 167.8 344.0C167.6 348.0 166.8 353.3 166.0 357.0C165.2 360.7 164.1 363.3 163.2 366.4C162.3 369.5 161.2 372.5 160.4 375.6C159.6 378.7 159.2 381.2 158.6 384.9C158.0 388.6 157.2 394.1 156.7 397.8C156.2 401.5 156.0 402.7 155.8 407.0C155.7 411.3 156.1 419.5 155.8 423.8C155.5 428.1 154.5 430.2 153.9 433.0C153.3 435.8 152.5 438.5 152.0 440.5C151.5 442.5 151.2 444.2 151.0 445.0" fill="none" stroke="#142014" stroke-width="1.05"/><path d="M189.1 320.0C188.8 321.2 187.6 324.4 187.3 327.5C187.1 330.6 187.6 335.2 187.6 338.6C187.6 342.0 187.8 344.8 187.3 347.9C186.8 351.0 185.1 353.3 184.5 357.0C183.9 360.7 183.9 366.3 183.6 370.0C183.3 373.7 183.1 374.7 182.6 379.3C182.1 383.9 181.4 393.5 180.8 397.8C180.2 402.1 179.5 401.9 178.9 405.3C178.3 408.7 177.6 414.8 177.1 418.2C176.6 421.6 176.4 423.1 176.1 425.6C175.8 428.1 175.6 431.3 175.2 433.0C174.8 434.7 173.8 435.5 173.5 436.0" fill="none" stroke="#142014" stroke-width="1.05"/><path d="M210.4 318.2C210.1 319.1 209.0 320.7 208.6 323.8C208.2 326.9 208.2 332.1 208.0 336.7C207.8 341.3 207.8 346.7 207.6 351.6C207.4 356.6 207.0 361.8 206.7 366.4C206.4 371.0 206.3 374.1 205.8 379.3C205.3 384.5 204.4 393.5 203.9 397.8C203.4 402.1 203.5 402.5 203.0 405.3C202.5 408.1 201.7 411.4 201.1 414.5C200.5 417.6 199.9 420.7 199.3 423.8C198.7 426.9 197.7 431.5 197.4 433.0" fill="none" stroke="#142014" stroke-width="1.05"/><path d="M231.5 318.2C231.7 320.1 232.4 325.9 232.4 329.3C232.4 332.7 231.9 335.5 231.5 338.6C231.1 341.7 230.3 344.8 229.7 347.9C229.1 351.0 228.1 353.3 227.8 357.0C227.5 360.7 227.7 366.6 227.8 370.0C228.0 373.4 229.0 374.7 228.7 377.5C228.4 380.3 226.8 383.3 226.0 386.7C225.2 390.1 224.6 394.4 224.1 397.8C223.6 401.2 223.7 403.6 223.2 407.0C222.7 410.4 221.9 414.8 221.3 418.2C220.7 421.6 220.1 424.7 219.5 427.5C218.9 430.3 218.1 433.2 217.6 435.0C217.1 436.8 216.7 437.5 216.5 438.0" fill="none" stroke="#142014" stroke-width="1.05"/><path d="M253.7 327.5C253.4 328.7 252.5 331.8 251.9 334.9C251.3 338.0 250.6 342.3 250.0 346.0C249.4 349.7 248.6 353.6 248.2 357.0C247.8 360.4 247.6 363.6 247.3 366.4C247.0 369.2 246.8 370.7 246.3 373.8C245.8 376.9 244.9 380.9 244.5 384.9C244.1 388.9 244.1 394.1 243.6 397.8C243.1 401.5 242.2 404.2 241.7 407.0C241.2 409.8 241.4 412.3 240.8 414.5C240.2 416.7 238.5 419.1 238.0 420.0" fill="none" stroke="#142014" stroke-width="1.05"/><path d="M275.0 329.3C274.7 330.9 273.6 334.9 273.2 338.6C272.8 342.3 272.8 347.6 272.3 351.6C271.8 355.6 270.6 359.0 270.4 362.7C270.1 366.4 271.1 370.4 270.8 373.8C270.5 377.2 269.4 379.0 268.6 383.0C267.8 387.0 266.4 394.1 265.8 397.8C265.2 401.5 265.4 402.5 264.9 405.3C264.4 408.1 263.8 411.7 263.0 414.5C262.2 417.3 260.9 420.2 260.2 422.0C259.5 423.8 259.2 424.5 259.0 425.0" fill="none" stroke="#142014" stroke-width="1.05"/><path d="M296.3 321.9C296.0 323.8 294.9 329.0 294.5 333.0C294.1 337.0 294.2 342.3 293.6 346.0C293.0 349.7 291.6 351.9 290.8 355.3C290.0 358.7 289.2 362.7 288.9 366.4C288.6 370.1 288.9 373.8 288.9 377.5C288.9 381.2 289.0 385.2 288.9 388.6C288.8 392.0 288.3 394.7 288.0 397.8C287.7 400.9 287.4 403.9 287.1 407.0C286.8 410.1 286.7 413.9 286.1 416.4C285.5 418.9 284.1 420.6 283.4 422.0C282.7 423.4 282.2 424.5 282.0 425.0" fill="none" stroke="#142014" stroke-width="1.05"/><path d="M317.4 314.5C317.1 316.1 316.1 320.7 315.6 323.8C315.2 326.9 314.9 329.0 314.7 333.0C314.5 337.0 314.5 343.9 314.3 347.9C314.1 351.9 314.2 354.5 313.7 357.0C313.1 359.5 311.8 359.9 311.0 362.7C310.2 365.5 309.7 370.1 309.1 373.8C308.5 377.5 307.8 380.9 307.3 384.9C306.8 388.9 306.2 394.1 306.3 397.8C306.4 401.5 308.0 403.9 308.2 407.0C308.4 410.1 307.9 413.6 307.3 416.4C306.7 419.2 305.4 422.2 304.5 423.8C303.6 425.4 302.4 425.6 302.0 426.0" fill="none" stroke="#142014" stroke-width="1.05"/><path d="M336.0 303.4C336.1 304.9 336.9 309.3 336.9 312.7C336.9 316.1 336.3 319.5 336.0 323.8C335.7 328.1 335.3 334.0 335.0 338.6C334.7 343.2 334.2 347.0 334.1 351.6C334.0 356.2 334.1 362.1 334.1 366.4C334.1 370.7 334.4 373.8 334.1 377.5C333.8 381.2 332.8 385.2 332.3 388.6C331.8 392.0 331.5 395.6 331.3 397.8C331.1 400.0 331.8 400.1 331.3 401.6C330.9 403.1 329.4 404.9 328.6 407.0C327.8 409.1 327.3 411.1 326.7 414.5C326.1 417.9 325.5 423.5 324.9 427.5C324.3 431.5 323.5 436.0 323.0 438.6C322.5 441.2 322.2 442.3 322.0 443.0" fill="none" stroke="#142014" stroke-width="1.05"/><path d="M359.1 334.9C358.8 335.8 358.1 338.5 357.3 340.4C356.5 342.2 355.3 343.2 354.5 346.0C353.7 348.8 353.1 353.0 352.6 357.0C352.1 361.0 352.0 366.0 351.7 370.0C351.4 374.0 351.1 376.6 350.8 381.2C350.5 385.8 350.2 394.1 349.9 397.8C349.6 401.5 348.6 401.5 348.9 403.4C349.2 405.3 351.2 406.8 351.7 409.0C352.2 411.2 352.0 413.9 351.7 416.4C351.4 418.9 350.7 421.3 349.9 423.8C349.1 426.3 347.9 429.4 347.1 431.2C346.3 433.0 345.8 433.9 345.2 434.9C344.6 435.9 343.8 436.6 343.5 437.0" fill="none" stroke="#142014" stroke-width="1.05"/><path d="M379.5 303.4C379.6 306.8 380.2 317.3 380.4 323.8C380.5 330.3 380.5 336.8 380.4 342.3C380.2 347.8 380.0 352.4 379.5 357.0C379.0 361.6 378.5 366.0 377.6 370.0C376.7 374.0 375.0 377.5 373.9 381.2C372.8 384.9 371.6 388.0 371.1 392.3C370.6 396.6 371.4 402.7 371.1 407.0C370.8 411.3 369.9 415.1 369.3 418.2C368.7 421.3 368.0 423.6 367.4 425.6C366.8 427.6 366.1 429.1 365.6 430.3C365.1 431.5 364.7 432.6 364.5 433.0" fill="none" stroke="#142014" stroke-width="1.05"/><path d="M403.0 298.0C402.8 299.7 402.3 304.7 402.0 308.0C401.7 311.3 401.7 314.7 401.4 318.0C401.1 321.3 400.6 324.3 400.0 328.0C399.4 331.7 398.8 336.0 398.0 340.0C397.2 344.0 395.7 348.0 395.0 352.0C394.3 356.0 393.9 360.7 394.0 364.0C394.1 367.3 395.1 369.0 395.4 372.0C395.7 375.0 395.6 378.0 396.0 382.0C396.4 386.0 398.0 392.7 398.0 396.0C398.0 399.3 396.7 400.0 396.0 402.0C395.3 404.0 394.7 405.7 394.0 408.0C393.3 410.3 392.5 413.0 392.0 416.0C391.5 419.0 391.5 423.2 391.0 426.0C390.5 428.8 389.7 431.3 389.0 433.0C388.3 434.7 387.3 435.5 387.0 436.0" fill="none" stroke="#142014" stroke-width="1.05"/><path d="M424.1 316.0C423.6 317.3 422.1 320.7 421.1 324.0C420.1 327.3 419.0 332.0 418.1 336.0C417.2 340.0 416.7 343.7 416.0 348.0C415.3 352.3 414.3 357.3 414.0 362.0C413.7 366.7 414.2 371.7 414.0 376.0C413.8 380.3 413.3 384.3 413.0 388.0C412.7 391.7 412.3 395.0 412.0 398.0C411.7 401.0 411.3 403.0 411.0 406.0C410.7 409.0 410.3 412.3 410.0 416.0C409.7 419.7 409.3 424.7 409.0 428.0C408.7 431.3 408.2 434.7 408.0 436.0" fill="none" stroke="#142014" stroke-width="1.05"/><path d="M443.1 298.0C442.9 299.7 442.3 304.0 442.1 308.0C441.9 312.0 441.6 318.3 442.1 322.0C442.6 325.7 444.9 327.3 445.1 330.0C445.3 332.7 443.6 334.3 443.1 338.0C442.6 341.7 442.4 347.3 442.1 352.0C441.8 356.7 441.4 361.3 441.1 366.0C440.8 370.7 440.6 374.7 440.1 380.0C439.6 385.3 438.8 393.3 438.1 398.0C437.4 402.7 436.8 404.3 436.1 408.0C435.4 411.7 434.8 416.0 434.1 420.0C433.4 424.0 432.8 428.3 432.1 432.0C431.4 435.7 430.4 440.3 430.1 442.0" fill="none" stroke="#142014" stroke-width="1.05"/><path d="M465.2 298.0C464.9 300.3 463.7 308.0 463.2 312.0C462.7 316.0 462.2 319.0 462.2 322.0C462.2 325.0 462.5 327.7 463.2 330.0C463.9 332.3 465.8 333.7 466.2 336.0C466.6 338.3 465.9 341.0 465.6 344.0C465.3 347.0 464.8 349.3 464.2 354.0C463.6 358.7 462.7 367.0 462.2 372.0C461.7 377.0 461.5 379.7 461.2 384.0C460.9 388.3 460.7 394.0 460.2 398.0C459.7 402.0 458.9 404.3 458.2 408.0C457.5 411.7 456.8 416.0 456.1 420.0C455.4 424.0 454.8 428.3 454.1 432.0C453.4 435.7 452.8 439.3 452.1 442.0C451.4 444.7 450.4 447.0 450.1 448.0" fill="none" stroke="#142014" stroke-width="1.05"/><path d="M488.2 306.0C487.9 307.0 486.5 310.0 486.2 312.0C485.9 314.0 485.9 316.5 486.2 318.0C486.5 319.5 487.9 320.5 488.2 321.0" fill="none" stroke="#142014" stroke-width="1.05"/><path d="M487.2 330.0C486.9 331.0 485.5 333.7 485.2 336.0C484.9 338.3 485.5 341.0 485.2 344.0C484.9 347.0 484.0 350.7 483.2 354.0C482.4 357.3 481.0 361.0 480.2 364.0C479.4 367.0 478.5 368.7 478.2 372.0C477.9 375.3 478.0 379.7 478.2 384.0C478.4 388.3 478.5 394.0 479.2 398.0C479.9 402.0 481.9 404.3 482.2 408.0C482.5 411.7 481.9 416.0 481.2 420.0C480.5 424.0 479.4 428.7 478.2 432.0C477.0 435.3 475.2 437.8 474.2 440.0C473.2 442.2 472.5 444.2 472.2 445.0" fill="none" stroke="#142014" stroke-width="1.05"/>
<!-- bottom axes -->
<path d="M45.3 499.5V275" stroke="#000" stroke-width="2.4"/>
<path d="M40.5 275.5L45.5 266L50.5 275.5Z" fill="#000"/>
<path d="M36.5 297.8h8M36.5 348h8M36.5 398.2h8M36.5 448.3h8M36.5 498.5h8" stroke="#000" stroke-width="1.3"/>
<g class="tk" text-anchor="end">
<text x="31" y="301.3">0</text><text x="34" y="351.6">−20</text><text x="34" y="401.7">−40</text><text x="34" y="451.8">−60</text><text x="34.5" y="502">−80</text>
</g>
<text transform="translate(12.8,397) rotate(-90)" text-anchor="middle" font-family="Liberation Serif,serif" font-size="11.8" fill="#000" stroke="#000" stroke-width="0.35">z (mm)</text>
<path d="M45 498.5H67" stroke="#000" stroke-width="1.8"/>
<path d="M66 495.2L72 498.5L66 501.8Z" fill="#000"/>
<g font-family="Liberation Serif,serif" fill="#111">
<text x="44" y="509" text-anchor="middle" font-size="9">0</text>
<text x="79.5" y="509" text-anchor="middle" font-size="9">7.3</text>
<text x="58.5" y="516" text-anchor="middle" font-size="11"><tspan font-style="italic">r</tspan> (mm)</text>
</g>
<path d="M45.7 521.5H502" stroke="#000" stroke-width="1.2"/>
<path d="M501 517.9L508.5 521.5L501 525.1Z" fill="#000"/>
<g font-family="Liberation Serif,serif" fill="#111">
<text x="44.5" y="533.5" text-anchor="middle" font-size="12" font-style="italic" font-weight="bold">−π</text>
<text x="267.9" y="530.5" text-anchor="middle" font-size="9.5">0</text>
<text x="267.8" y="546" text-anchor="middle" font-size="15.5" font-style="italic">θ</text>
<text x="468" y="533" text-anchor="middle" font-size="12" font-style="italic" font-weight="bold">π</text>
</g>
</svg>
</body></html>
